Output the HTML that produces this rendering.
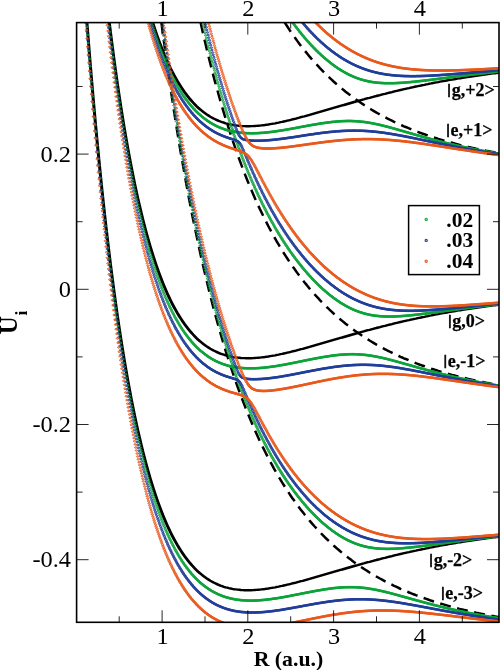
<!DOCTYPE html>
<html><head><meta charset="utf-8"><title>U_i vs R</title>
<style>html,body{margin:0;padding:0;background:#fff}svg{display:block}</style></head>
<body>
<svg width="500" height="670" viewBox="0 0 500 670">
<defs><clipPath id="cp"><rect x="76.6" y="22.6" width="422.4" height="599.7"/></clipPath>
<marker id="mg" markerWidth="4" markerHeight="4" refX="2" refY="2" markerUnits="userSpaceOnUse"><ellipse cx="2" cy="2" rx="1.2" ry="0.8" fill="#0fa53c" fill-opacity="0.4" stroke="#0fa53c" stroke-width="0.9"/></marker>
<marker id="mb" markerWidth="4" markerHeight="4" refX="2" refY="2" markerUnits="userSpaceOnUse"><ellipse cx="2" cy="2" rx="1.2" ry="0.8" fill="#23419b" fill-opacity="0.4" stroke="#23419b" stroke-width="0.9"/></marker>
<marker id="mo" markerWidth="4" markerHeight="4" refX="2" refY="2" markerUnits="userSpaceOnUse"><ellipse cx="2" cy="2" rx="1.2" ry="0.8" fill="#ea5b1e" fill-opacity="0.4" stroke="#ea5b1e" stroke-width="0.9"/></marker>
</defs>
<rect width="500" height="670" fill="#fff"/>
<g clip-path="url(#cp)">
<polyline transform="scale(1.25,1)" points="62.41,-102.5 63.78,-76.7 65.16,-51.7 66.53,-27.6 67.90,-4.2 69.27,18.4 70.65,40.2 72.02,61.3 73.39,81.7 74.76,101.4 76.14,120.5 77.51,138.9 78.88,156.7 80.25,173.9 81.62,190.5 83.00,206.5 84.37,222 85.74,236.9 87.11,251.3 88.49,265.3 89.86,278.7 91.23,291.7 92.60,304.2 93.98,316.3 95.35,327.9 96.72,339.1 98.09,350 99.46,360.4 100.84,370.5 102.21,380.2 103.58,389.5 104.95,398.6 106.33,407.2 107.70,415.6 109.07,423.6 110.44,431.4 111.82,438.8 113.19,446 114.56,452.9 115.93,459.5 117.31,465.9 118.68,472 120.05,477.9 121.42,483.6 122.79,489 124.17,494.3 125.54,499.3 126.91,504.1 128.28,508.7 129.66,513.1 131.03,517.3 132.40,521.4 133.77,525.3 135.15,529 136.52,532.6 137.89,536 139.26,539.2 140.63,542.3 142.01,545.3 143.38,548.1 144.75,550.8 146.12,553.4 147.50,555.9 148.87,558.2 150.24,560.4 151.61,562.5 152.99,564.5 154.36,566.4 155.73,568.3 157.10,570 158.47,571.6 159.85,573.1 161.22,574.5 162.59,575.9 163.96,577.2 165.34,578.4 166.71,579.5 168.08,580.6 169.45,581.6 170.83,582.5 172.20,583.3 173.57,584.1 174.94,584.9 176.31,585.6 177.69,586.2 179.06,586.8 180.43,587.3 181.80,587.7 183.18,588.2 184.55,588.5 185.92,588.9 187.29,589.2 188.67,589.4 190.04,589.6 191.41,589.8 192.78,590 194.16,590.1 195.53,590.2 196.90,590.2 198.27,590.2 199.64,590.2 201.02,590.2 202.39,590.1 203.76,590 205.13,589.9 206.51,589.7 207.88,589.6 209.25,589.4 210.62,589.2 212.00,589 213.37,588.7 214.74,588.5 216.11,588.2 217.48,587.9 218.86,587.6 220.23,587.3 221.60,586.9 222.97,586.6 224.35,586.2 225.72,585.9 227.09,585.5 228.46,585.1 229.84,584.7 231.21,584.3 232.58,583.9 233.95,583.4 235.32,583 236.70,582.6 238.07,582.1 239.44,581.7 240.81,581.2 242.19,580.8 243.56,580.3 244.93,579.8 246.30,579.3 247.68,578.9 249.05,578.4 250.42,577.9 251.79,577.4 253.16,576.9 254.54,576.4 255.91,575.9 257.28,575.4 258.65,574.9 260.03,574.4 261.40,573.9 262.77,573.4 264.14,572.9 265.52,572.4 266.89,571.9 268.26,571.4 269.63,570.9 271.00,570.4 272.38,569.9 273.75,569.5 275.12,569 276.49,568.5 277.87,568 279.24,567.5 280.61,567 281.98,566.5 283.36,566 284.73,565.5 286.10,565.1 287.47,564.6 288.85,564.1 290.22,563.6 291.59,563.2 292.96,562.7 294.33,562.2 295.71,561.8 297.08,561.3 298.45,560.9 299.82,560.4 301.20,560 302.57,559.5 303.94,559.1 305.31,558.6 306.69,558.2 308.06,557.8 309.43,557.3 310.80,556.9 312.17,556.5 313.55,556.1 314.92,555.6 316.29,555.2 317.66,554.8 319.04,554.4 320.41,554 321.78,553.6 323.15,553.2 324.53,552.8 325.90,552.4 327.27,552.1 328.64,551.7 330.01,551.3 331.39,550.9 332.76,550.6 334.13,550.2 335.50,549.8 336.88,549.5 338.25,549.1 339.62,548.8 340.99,548.4 342.37,548.1 343.74,547.7 345.11,547.4 346.48,547.1 347.85,546.7 349.23,546.4 350.60,546.1 351.97,545.7 353.34,545.4 354.72,545.1 356.09,544.8 357.46,544.5 358.83,544.2 360.21,543.9 361.58,543.6 362.95,543.3 364.32,543 365.70,542.7 367.07,542.4 368.44,542.2 369.81,541.9 371.18,541.6 372.56,541.3 373.93,541.1 375.30,540.8 376.67,540.5 378.05,540.3 379.42,540 380.79,539.8 382.16,539.5 383.54,539.3 384.91,539 386.28,538.8 387.65,538.6 389.02,538.3 390.40,538.1 391.77,537.9 393.14,537.6 394.51,537.4 395.89,537.2 397.26,537 398.63,536.8 400.00,536.6" fill="none" stroke="#000" stroke-width="2.4"/>
<polyline transform="scale(1.25,1)" points="70.65,-191.8 72.02,-170.7 73.39,-150.3 74.76,-130.6 76.14,-111.5 77.51,-93.1 78.88,-75.3 80.25,-58.1 81.62,-41.5 83.00,-25.5 84.37,-10 85.74,4.9 87.11,19.3 88.49,33.3 89.86,46.7 91.23,59.7 92.60,72.2 93.98,84.3 95.35,95.9 96.72,107.1 98.09,118 99.46,128.4 100.84,138.5 102.21,148.2 103.58,157.5 104.95,166.5 106.33,175.2 107.70,183.6 109.07,191.6 110.44,199.4 111.82,206.8 113.19,214 114.56,220.9 115.93,227.5 117.31,233.9 118.68,240 120.05,245.9 121.42,251.6 122.79,257 124.17,262.2 125.54,267.3 126.91,272.1 128.28,276.7 129.66,281.1 131.03,285.3 132.40,289.4 133.77,293.3 135.15,297 136.52,300.6 137.89,304 139.26,307.2 140.63,310.3 142.01,313.3 143.38,316.1 144.75,318.8 146.12,321.4 147.50,323.9 148.87,326.2 150.24,328.4 151.61,330.5 152.99,332.5 154.36,334.4 155.73,336.2 157.10,338 158.47,339.6 159.85,341.1 161.22,342.5 162.59,343.9 163.96,345.2 165.34,346.4 166.71,347.5 168.08,348.6 169.45,349.6 170.83,350.5 172.20,351.3 173.57,352.1 174.94,352.9 176.31,353.6 177.69,354.2 179.06,354.7 180.43,355.3 181.80,355.7 183.18,356.2 184.55,356.5 185.92,356.9 187.29,357.2 188.67,357.4 190.04,357.6 191.41,357.8 192.78,358 194.16,358.1 195.53,358.1 196.90,358.2 198.27,358.2 199.64,358.2 201.02,358.2 202.39,358.1 203.76,358 205.13,357.9 206.51,357.7 207.88,357.6 209.25,357.4 210.62,357.2 212.00,357 213.37,356.7 214.74,356.5 216.11,356.2 217.48,355.9 218.86,355.6 220.23,355.3 221.60,354.9 222.97,354.6 224.35,354.2 225.72,353.9 227.09,353.5 228.46,353.1 229.84,352.7 231.21,352.3 232.58,351.9 233.95,351.4 235.32,351 236.70,350.6 238.07,350.1 239.44,349.7 240.81,349.2 242.19,348.8 243.56,348.3 244.93,347.8 246.30,347.3 247.68,346.9 249.05,346.4 250.42,345.9 251.79,345.4 253.16,344.9 254.54,344.4 255.91,343.9 257.28,343.4 258.65,342.9 260.03,342.4 261.40,341.9 262.77,341.4 264.14,340.9 265.52,340.4 266.89,339.9 268.26,339.4 269.63,338.9 271.00,338.4 272.38,337.9 273.75,337.5 275.12,337 276.49,336.5 277.87,336 279.24,335.5 280.61,335 281.98,334.5 283.36,334 284.73,333.5 286.10,333.1 287.47,332.6 288.85,332.1 290.22,331.6 291.59,331.2 292.96,330.7 294.33,330.2 295.71,329.8 297.08,329.3 298.45,328.9 299.82,328.4 301.20,328 302.57,327.5 303.94,327.1 305.31,326.6 306.69,326.2 308.06,325.8 309.43,325.3 310.80,324.9 312.17,324.5 313.55,324.1 314.92,323.6 316.29,323.2 317.66,322.8 319.04,322.4 320.41,322 321.78,321.6 323.15,321.2 324.53,320.8 325.90,320.4 327.27,320.1 328.64,319.7 330.01,319.3 331.39,318.9 332.76,318.6 334.13,318.2 335.50,317.8 336.88,317.5 338.25,317.1 339.62,316.8 340.99,316.4 342.37,316.1 343.74,315.7 345.11,315.4 346.48,315 347.85,314.7 349.23,314.4 350.60,314.1 351.97,313.7 353.34,313.4 354.72,313.1 356.09,312.8 357.46,312.5 358.83,312.2 360.21,311.9 361.58,311.6 362.95,311.3 364.32,311 365.70,310.7 367.07,310.4 368.44,310.2 369.81,309.9 371.18,309.6 372.56,309.3 373.93,309.1 375.30,308.8 376.67,308.5 378.05,308.3 379.42,308 380.79,307.8 382.16,307.5 383.54,307.3 384.91,307 386.28,306.8 387.65,306.6 389.02,306.3 390.40,306.1 391.77,305.9 393.14,305.6 394.51,305.4 395.89,305.2 397.26,305 398.63,304.8 400.00,304.5" fill="none" stroke="#000" stroke-width="2.4"/>
<polyline transform="scale(1.25,1)" points="88.49,-198.7 89.86,-185.3 91.23,-172.3 92.60,-159.8 93.98,-147.7 95.35,-136.1 96.72,-124.9 98.09,-114 99.46,-103.6 100.84,-93.5 102.21,-83.8 103.58,-74.5 104.95,-65.5 106.33,-56.8 107.70,-48.4 109.07,-40.4 110.44,-32.6 111.82,-25.2 113.19,-18 114.56,-11.1 115.93,-4.5 117.31,1.9 118.68,8 120.05,13.9 121.42,19.6 122.79,25 124.17,30.2 125.54,35.3 126.91,40.1 128.28,44.7 129.66,49.1 131.03,53.3 132.40,57.4 133.77,61.3 135.15,65 136.52,68.6 137.89,72 139.26,75.2 140.63,78.3 142.01,81.3 143.38,84.1 144.75,86.8 146.12,89.4 147.50,91.9 148.87,94.2 150.24,96.4 151.61,98.5 152.99,100.5 154.36,102.4 155.73,104.2 157.10,106 158.47,107.6 159.85,109.1 161.22,110.5 162.59,111.9 163.96,113.2 165.34,114.4 166.71,115.5 168.08,116.6 169.45,117.6 170.83,118.5 172.20,119.3 173.57,120.1 174.94,120.9 176.31,121.5 177.69,122.2 179.06,122.7 180.43,123.3 181.80,123.7 183.18,124.2 184.55,124.5 185.92,124.9 187.29,125.2 188.67,125.4 190.04,125.6 191.41,125.8 192.78,126 194.16,126.1 195.53,126.1 196.90,126.2 198.27,126.2 199.64,126.2 201.02,126.1 202.39,126.1 203.76,126 205.13,125.9 206.51,125.7 207.88,125.6 209.25,125.4 210.62,125.2 212.00,125 213.37,124.7 214.74,124.5 216.11,124.2 217.48,123.9 218.86,123.6 220.23,123.3 221.60,122.9 222.97,122.6 224.35,122.2 225.72,121.9 227.09,121.5 228.46,121.1 229.84,120.7 231.21,120.3 232.58,119.9 233.95,119.4 235.32,119 236.70,118.6 238.07,118.1 239.44,117.7 240.81,117.2 242.19,116.7 243.56,116.3 244.93,115.8 246.30,115.3 247.68,114.9 249.05,114.4 250.42,113.9 251.79,113.4 253.16,112.9 254.54,112.4 255.91,111.9 257.28,111.4 258.65,110.9 260.03,110.4 261.40,109.9 262.77,109.4 264.14,108.9 265.52,108.4 266.89,107.9 268.26,107.4 269.63,106.9 271.00,106.4 272.38,105.9 273.75,105.4 275.12,105 276.49,104.5 277.87,104 279.24,103.5 280.61,103 281.98,102.5 283.36,102 284.73,101.5 286.10,101.1 287.47,100.6 288.85,100.1 290.22,99.6 291.59,99.2 292.96,98.7 294.33,98.2 295.71,97.8 297.08,97.3 298.45,96.9 299.82,96.4 301.20,96 302.57,95.5 303.94,95.1 305.31,94.6 306.69,94.2 308.06,93.8 309.43,93.3 310.80,92.9 312.17,92.5 313.55,92.1 314.92,91.6 316.29,91.2 317.66,90.8 319.04,90.4 320.41,90 321.78,89.6 323.15,89.2 324.53,88.8 325.90,88.4 327.27,88.1 328.64,87.7 330.01,87.3 331.39,86.9 332.76,86.5 334.13,86.2 335.50,85.8 336.88,85.5 338.25,85.1 339.62,84.8 340.99,84.4 342.37,84.1 343.74,83.7 345.11,83.4 346.48,83 347.85,82.7 349.23,82.4 350.60,82.1 351.97,81.7 353.34,81.4 354.72,81.1 356.09,80.8 357.46,80.5 358.83,80.2 360.21,79.9 361.58,79.6 362.95,79.3 364.32,79 365.70,78.7 367.07,78.4 368.44,78.2 369.81,77.9 371.18,77.6 372.56,77.3 373.93,77.1 375.30,76.8 376.67,76.5 378.05,76.3 379.42,76 380.79,75.8 382.16,75.5 383.54,75.3 384.91,75 386.28,74.8 387.65,74.6 389.02,74.3 390.40,74.1 391.77,73.9 393.14,73.6 394.51,73.4 395.89,73.2 397.26,73 398.63,72.8 400.00,72.5" fill="none" stroke="#000" stroke-width="2.4"/>
<polyline points="161.4,22.6 163.8,40.6 165.5,53.2 167.2,65.4 168.9,77.3 170.6,89 172.4,100.4 174.1,111.6 175.8,122.4 177.5,133.1 179.2,143.5 180.9,153.6 182.7,163.5 184.4,173.2 186.1,182.7 187.8,191.9 189.5,201 191.2,209.8 192.9,218.4 194.7,226.9 196.4,235.1 198.1,243.2 199.8,251.1 201.5,258.8 203.2,266.3 205,273.7 206.7,280.9 208.4,287.9 210.1,294.8 211.8,301.5 213.5,308.1 215.2,314.5 217,320.8 218.7,327 220.4,333 222.1,338.9 223.8,344.7 225.5,350.3 227.3,355.8 229,361.2 230.7,366.5 232.4,371.7 234.1,376.8 235.8,381.7 237.5,386.5 239.3,391.3 241,395.9 242.7,400.5 244.4,404.9 246.1,409.3 247.8,413.5 249.6,417.7 251.3,421.8 253,425.8 254.7,429.7 256.4,433.5 258.1,437.3 259.8,441 261.6,444.6 263.3,448.1 265,451.5 266.7,454.9 268.4,458.2 270.1,461.5 271.9,464.6 273.6,467.8 275.3,470.8 277,473.8 278.7,476.7 280.4,479.6 282.1,482.4 283.9,485.2 285.6,487.9 287.3,490.5 289,493.1 290.7,495.7 292.4,498.2 294.2,500.6 295.9,503 297.6,505.4 299.3,507.7 301,509.9 302.7,512.1 304.4,514.3 306.2,516.4 307.9,518.5 309.6,520.6 311.3,522.6 313,524.6 314.7,526.5 316.5,528.4 318.2,530.2 319.9,532.1 321.6,533.9 323.3,535.6 325,537.3 326.7,539 328.5,540.7 330.2,542.3 331.9,543.9 333.6,545.5 335.3,547 337,548.5 338.8,550 340.5,551.5 342.2,552.9 343.9,554.3 345.6,555.7 347.3,557 349,558.3 350.8,559.6 352.5,560.9 354.2,562.2 355.9,563.4 357.6,564.6 359.3,565.8 361.1,567 362.8,568.1 364.5,569.2 366.2,570.3 367.9,571.4 369.6,572.5 371.3,573.5 373.1,574.6 374.8,575.6 376.5,576.6 378.2,577.5 379.9,578.5 381.6,579.4 383.4,580.4 385.1,581.3 386.8,582.2 388.5,583 390.2,583.9 391.9,584.7 393.6,585.6 395.4,586.4 397.1,587.2 398.8,588 400.5,588.8 402.2,589.5 403.9,590.3 405.7,591 407.4,591.7 409.1,592.5 410.8,593.2 412.5,593.8 414.2,594.5 415.9,595.2 417.7,595.8 419.4,596.5 421.1,597.1 422.8,597.7 424.5,598.3 426.2,598.9 428,599.5 429.7,600.1 431.4,600.7 433.1,601.3 434.8,601.8 436.5,602.3 438.2,602.9 440,603.4 441.7,603.9 443.4,604.4 445.1,604.9 446.8,605.4 448.5,605.9 450.3,606.4 452,606.9 453.7,607.3 455.4,607.8 457.1,608.2 458.8,608.7 460.5,609.1 462.3,609.5 464,609.9 465.7,610.3 467.4,610.7 469.1,611.1 470.8,611.5 472.6,611.9 474.3,612.3 476,612.7 477.7,613 479.4,613.4 481.1,613.8 482.8,614.1 484.6,614.4 486.3,614.8 488,615.1 489.7,615.4 491.4,615.8 493.1,616.1 494.9,616.4 496.6,616.7 498.3,617 500,617.3" fill="none" stroke="#000" stroke-width="2.5" stroke-dasharray="11 6.5" stroke-dashoffset="0"/>
<polyline points="200.6,22.6 203.2,34.3 205,41.7 206.7,48.9 208.4,55.9 210.1,62.8 211.8,69.5 213.5,76.1 215.2,82.5 217,88.8 218.7,95 220.4,101 222.1,106.9 223.8,112.7 225.5,118.3 227.3,123.8 229,129.2 230.7,134.5 232.4,139.7 234.1,144.7 235.8,149.7 237.5,154.5 239.3,159.3 241,163.9 242.7,168.5 244.4,172.9 246.1,177.3 247.8,181.5 249.6,185.7 251.3,189.8 253,193.8 254.7,197.7 256.4,201.5 258.1,205.3 259.8,208.9 261.6,212.5 263.3,216.1 265,219.5 266.7,222.9 268.4,226.2 270.1,229.5 271.9,232.6 273.6,235.8 275.3,238.8 277,241.8 278.7,244.7 280.4,247.6 282.1,250.4 283.9,253.2 285.6,255.9 287.3,258.5 289,261.1 290.7,263.7 292.4,266.2 294.2,268.6 295.9,271 297.6,273.4 299.3,275.7 301,277.9 302.7,280.1 304.4,282.3 306.2,284.4 307.9,286.5 309.6,288.6 311.3,290.6 313,292.6 314.7,294.5 316.5,296.4 318.2,298.2 319.9,300.1 321.6,301.9 323.3,303.6 325,305.3 326.7,307 328.5,308.7 330.2,310.3 331.9,311.9 333.6,313.5 335.3,315 337,316.5 338.8,318 340.5,319.5 342.2,320.9 343.9,322.3 345.6,323.7 347.3,325 349,326.3 350.8,327.6 352.5,328.9 354.2,330.2 355.9,331.4 357.6,332.6 359.3,333.8 361.1,335 362.8,336.1 364.5,337.2 366.2,338.3 367.9,339.4 369.6,340.5 371.3,341.5 373.1,342.6 374.8,343.6 376.5,344.6 378.2,345.5 379.9,346.5 381.6,347.4 383.4,348.4 385.1,349.3 386.8,350.2 388.5,351 390.2,351.9 391.9,352.7 393.6,353.6 395.4,354.4 397.1,355.2 398.8,356 400.5,356.8 402.2,357.5 403.9,358.3 405.7,359 407.4,359.7 409.1,360.5 410.8,361.2 412.5,361.8 414.2,362.5 415.9,363.2 417.7,363.8 419.4,364.5 421.1,365.1 422.8,365.7 424.5,366.3 426.2,366.9 428,367.5 429.7,368.1 431.4,368.7 433.1,369.2 434.8,369.8 436.5,370.3 438.2,370.9 440,371.4 441.7,371.9 443.4,372.4 445.1,372.9 446.8,373.4 448.5,373.9 450.3,374.4 452,374.9 453.7,375.3 455.4,375.8 457.1,376.2 458.8,376.6 460.5,377.1 462.3,377.5 464,377.9 465.7,378.3 467.4,378.7 469.1,379.1 470.8,379.5 472.6,379.9 474.3,380.3 476,380.7 477.7,381 479.4,381.4 481.1,381.7 482.8,382.1 484.6,382.4 486.3,382.8 488,383.1 489.7,383.4 491.4,383.8 493.1,384.1 494.9,384.4 496.6,384.7 498.3,385 500,385.3" fill="none" stroke="#000" stroke-width="2.5" stroke-dasharray="11 6.5" stroke-dashoffset="0"/>
<polyline points="284.8,22.6 287.3,26.5 289,29.1 290.7,31.7 292.4,34.2 294.2,36.6 295.9,39 297.6,41.4 299.3,43.7 301,45.9 302.7,48.1 304.4,50.3 306.2,52.4 307.9,54.5 309.6,56.6 311.3,58.6 313,60.5 314.7,62.5 316.5,64.4 318.2,66.2 319.9,68.1 321.6,69.8 323.3,71.6 325,73.3 326.7,75 328.5,76.7 330.2,78.3 331.9,79.9 333.6,81.5 335.3,83 337,84.5 338.8,86 340.5,87.5 342.2,88.9 343.9,90.3 345.6,91.7 347.3,93 349,94.3 350.8,95.6 352.5,96.9 354.2,98.2 355.9,99.4 357.6,100.6 359.3,101.8 361.1,103 362.8,104.1 364.5,105.2 366.2,106.3 367.9,107.4 369.6,108.5 371.3,109.5 373.1,110.6 374.8,111.6 376.5,112.6 378.2,113.5 379.9,114.5 381.6,115.4 383.4,116.4 385.1,117.3 386.8,118.2 388.5,119 390.2,119.9 391.9,120.7 393.6,121.6 395.4,122.4 397.1,123.2 398.8,124 400.5,124.8 402.2,125.5 403.9,126.3 405.7,127 407.4,127.7 409.1,128.4 410.8,129.1 412.5,129.8 414.2,130.5 415.9,131.2 417.7,131.8 419.4,132.5 421.1,133.1 422.8,133.7 424.5,134.3 426.2,134.9 428,135.5 429.7,136.1 431.4,136.7 433.1,137.2 434.8,137.8 436.5,138.3 438.2,138.9 440,139.4 441.7,139.9 443.4,140.4 445.1,140.9 446.8,141.4 448.5,141.9 450.3,142.4 452,142.8 453.7,143.3 455.4,143.8 457.1,144.2 458.8,144.6 460.5,145.1 462.3,145.5 464,145.9 465.7,146.3 467.4,146.7 469.1,147.1 470.8,147.5 472.6,147.9 474.3,148.3 476,148.7 477.7,149 479.4,149.4 481.1,149.7 482.8,150.1 484.6,150.4 486.3,150.8 488,151.1 489.7,151.4 491.4,151.8 493.1,152.1 494.9,152.4 496.6,152.7 498.3,153 500,153.3" fill="none" stroke="#000" stroke-width="2.5" stroke-dasharray="11 6.5" stroke-dashoffset="0"/>
<polyline points="86.3,18.4 86.9,26.7 87.6,34.8 88.2,42.9 88.8,50.8 89.5,58.7 90.1,66.4 90.7,74.1 91.4,81.7 92,89.1 92.6,96.5 93.3,103.8 93.9,111 94.6,118.1 95.2,125.1 95.8,132 96.5,138.8 97.1,145.6 97.7,152.2 98.4,158.8 99,165.3 99.6,171.7 100.3,178.1 100.9,184.3 101.5,190.5 102.2,196.6 102.8,202.6 103.4,208.5 104.1,214.4 104.7,220.2 105.3,225.9 106,231.5 106.6,237.1 107.2,242.6 107.9,248 108.5,253.4 109.1,258.7 109.8,263.9 110.4,269.1 111.1,274.1 111.7,279.2 112.3,284.1 113,289 113.6,293.8 114.2,298.6 114.9,303.3 115.5,307.9 116.1,312.5 116.8,317 117.4,321.5 118,325.9 118.7,330.2 119.3,334.5 119.9,338.7 120.6,342.9 121.2,347 121.8,351.1 122.5,355.1 123.1,359.1 123.7,363 124.4,366.8 125,370.6 125.7,374.3 126.3,378 126.9,381.7 127.6,385.3 128.2,388.8 128.8,392.3 129.5,395.8 130.1,399.2 130.7,402.6 131.4,405.9 132,409.1 132.6,412.4 133.3,415.5 133.9,418.7 134.5,421.8 135.2,424.8 135.8,427.8 136.4,430.8 137.1,433.7 137.7,436.6 138.3,439.4 139,442.2 139.6,445 140.3,447.7 140.9,450.4 141.5,453.1 142.2,455.7 142.8,458.3 143.4,460.8 144.1,463.3 144.7,465.8 145.3,468.2 146,470.6 146.6,472.9 147.2,475.3 147.9,477.6 148.5,479.8 149.1,482.1 149.8,484.3 150.4,486.4 151,488.5 151.7,490.7 152.3,492.7 152.9,494.8 153.6,496.8 154.2,498.7 154.8,500.7 155.5,502.6 156.1,504.5 156.8,506.4 157.4,508.2 158,510 158.7,511.8 159.3,513.5 159.9,515.3 160.6,517 161.2,518.7 161.8,520.3 162.5,521.9 163.1,523.5 163.7,525.1 164.4,526.6 165,528.2 165.6,529.7 166.3,531.1 166.9,532.6 167.5,534 168.2,535.4 168.8,536.8 169.4,538.2 170.1,539.5 170.7,540.8 171.4,542.1 172,543.4 172.6,544.7 173.3,545.9 173.9,547.1 174.5,548.3 175.2,549.5 175.8,550.7 176.4,551.8 177.1,552.9 177.7,554 178.3,555.1 179,556.2 179.6,557.2 180.2,558.2 180.9,559.2 181.5,560.2 182.1,561.2 182.8,562.2 183.4,563.1 184,564 184.7,564.9 185.3,565.8 185.9,566.7 186.6,567.6 187.2,568.4 187.9,569.2 188.5,570 189.1,570.8 189.8,571.6 190.4,572.4 191,573.1 191.7,573.9 192.3,574.6 192.9,575.3 193.6,576 194.2,576.7 194.8,577.4 195.5,578 196.1,578.7 196.7,579.3 197.4,579.9 198,580.5 198.6,581.1 199.3,581.7 199.9,582.3 200.5,582.9 201.2,583.4 201.8,583.9 202.5,584.5 203.1,585 203.7,585.5 204.4,586 205,586.5 205.6,586.9 206.3,587.4 206.9,587.8 207.5,588.3 208.2,588.7 208.8,589.1 209.4,589.5 210.1,589.9 210.7,590.3 211.3,590.7 212,591.1 212.6,591.4 213.2,591.8 213.9,592.1 214.5,592.5 215.1,592.8 215.8,593.1 216.4,593.4 217,593.7 217.7,594 218.3,594.3 219,594.6 219.6,594.9 220.2,595.1 220.9,595.4 221.5,595.6 222.1,595.9 222.8,596.1 223.4,596.3 224,596.6 224.7,596.8 225.3,597 225.9,597.2 226.6,597.4 227.2,597.5 227.8,597.7 228.5,597.9 229.1,598.1 229.7,598.2 230.4,598.4 231,598.5 231.6,598.7 232.3,598.8 232.9,598.9 233.6,599.1 234.2,599.2 234.8,599.3 235.5,599.4 236.1,599.5 236.7,599.6 237.4,599.7 238,599.8 238.6,599.9 239.3,599.9 239.9,600 240.5,600.1 241.2,600.2 241.8,600.2 242.4,600.3 243.1,600.3 243.7,600.4 244.3,600.4 245,600.4 245.6,600.5 246.2,600.5 246.9,600.5 247.5,600.5 248.1,600.6 248.8,600.6 249.4,600.6 250.1,600.6 250.7,600.6 251.3,600.6 252,600.6 252.6,600.6 253.2,600.6 253.9,600.6 254.5,600.5 255.1,600.5 255.8,600.5 256.4,600.5 257,600.4 257.7,600.4 258.3,600.4 258.9,600.3 259.6,600.3 260.2,600.2 260.8,600.2 261.5,600.1 262.1,600.1 262.7,600 263.4,600 264,599.9 264.7,599.8 265.3,599.8 265.9,599.7 266.6,599.6 267.2,599.6 267.8,599.5 268.5,599.4 269.1,599.3 269.7,599.3 270.4,599.2 271,599.1 271.6,599 272.3,598.9 272.9,598.8 273.5,598.7 274.2,598.6 274.8,598.6 275.4,598.5 276.1,598.4 276.7,598.3 277.3,598.2 278,598.1 278.6,598 279.2,597.9 279.9,597.7 280.5,597.6 281.2,597.5 281.8,597.4 282.4,597.3 283.1,597.2 283.7,597.1 284.3,597 285,596.9 285.6,596.7 286.2,596.6 286.9,596.5 287.5,596.4 288.1,596.3 288.8,596.2 289.4,596 290,595.9 290.7,595.8 291.3,595.7 291.9,595.5 292.6,595.4 293.2,595.3 293.8,595.2 294.5,595 295.1,594.9 295.8,594.8 296.4,594.7 297,594.5 297.7,594.4 298.3,594.3 298.9,594.2 299.6,594 300.2,593.9 300.8,593.8 301.5,593.7 302.1,593.5 302.7,593.4 303.4,593.3 304,593.2 304.6,593 305.3,592.9 305.9,592.8 306.5,592.7 307.2,592.5 307.8,592.4 308.4,592.3 309.1,592.2 309.7,592 310.3,591.9 311,591.8 311.6,591.7 312.3,591.6 312.9,591.4 313.5,591.3 314.2,591.2 314.8,591.1 315.4,591 316.1,590.8 316.7,590.7 317.3,590.6 318,590.5 318.6,590.4 319.2,590.3 319.9,590.2 320.5,590.1 321.1,590 321.8,589.9 322.4,589.7 323,589.6 323.7,589.5 324.3,589.4 324.9,589.3 325.6,589.2 326.2,589.2 326.9,589.1 327.5,589 328.1,588.9 328.8,588.8 329.4,588.7 330,588.6 330.7,588.5 331.3,588.4 331.9,588.4 332.6,588.3 333.2,588.2 333.8,588.1 334.5,588.1 335.1,588 335.7,587.9 336.4,587.9 337,587.8 337.6,587.8 338.3,587.7 338.9,587.6 339.5,587.6 340.2,587.5 340.8,587.5 341.4,587.5 342.1,587.4 342.7,587.4 343.4,587.3 344,587.3 344.6,587.3 345.3,587.3 345.9,587.2 346.5,587.2 347.2,587.2 347.8,587.2 348.4,587.2 349.1,587.2 349.7,587.2 350.3,587.1 351,587.2 351.6,587.2 352.2,587.2 352.9,587.2 353.5,587.2 354.1,587.2 354.8,587.2 355.4,587.3 356,587.3 356.7,587.3 357.3,587.4 358,587.4 358.6,587.4 359.2,587.5 359.9,587.5 360.5,587.6 361.1,587.6 361.8,587.7 362.4,587.8 363,587.8 363.7,587.9 364.3,588 364.9,588 365.6,588.1 366.2,588.2 366.8,588.3 367.5,588.4 368.1,588.5 368.7,588.6 369.4,588.7 370,588.8 370.6,588.9 371.3,589 371.9,589.1 372.5,589.2 373.2,589.3 373.8,589.4 374.5,589.5 375.1,589.7 375.7,589.8 376.4,589.9 377,590 377.6,590.2 378.3,590.3 378.9,590.4 379.5,590.6 380.2,590.7 380.8,590.9 381.4,591 382.1,591.1 382.7,591.3 383.3,591.4 384,591.6 384.6,591.7 385.2,591.9 385.9,592 386.5,592.2 387.1,592.4 387.8,592.5 388.4,592.7 389.1,592.8 389.7,593 390.3,593.2 391,593.3 391.6,593.5 392.2,593.7 392.9,593.8 393.5,594 394.1,594.2 394.8,594.3 395.4,594.5 396,594.7 396.7,594.9 397.3,595 397.9,595.2 398.6,595.4 399.2,595.6 399.8,595.7 400.5,595.9 401.1,596.1 401.7,596.3 402.4,596.4 403,596.6 403.6,596.8 404.3,597 404.9,597.1 405.6,597.3 406.2,597.5 406.8,597.7 407.5,597.8 408.1,598 408.7,598.2 409.4,598.4 410,598.6 410.6,598.7 411.3,598.9 411.9,599.1 412.5,599.3 413.2,599.4 413.8,599.6 414.4,599.8 415.1,600 415.7,600.1 416.3,600.3 417,600.5 417.6,600.7 418.2,600.8 418.9,601 419.5,601.2 420.2,601.3 420.8,601.5 421.4,601.7 422.1,601.9 422.7,602 423.3,602.2 424,602.4 424.6,602.5 425.2,602.7 425.9,602.9 426.5,603.1 427.1,603.2 427.8,603.4 428.4,603.6 429,603.7 429.7,603.9 430.3,604 430.9,604.2 431.6,604.4 432.2,604.5 432.8,604.7 433.5,604.9 434.1,605 434.7,605.2 435.4,605.3 436,605.5 436.7,605.7 437.3,605.8 437.9,606 438.6,606.1 439.2,606.3 439.8,606.5 440.5,606.6 441.1,606.8 441.7,606.9 442.4,607.1 443,607.2 443.6,607.4 444.3,607.5 444.9,607.7 445.5,607.8 446.2,608 446.8,608.1 447.4,608.3 448.1,608.4 448.7,608.6 449.3,608.7 450,608.9 450.6,609 451.3,609.2 451.9,609.3 452.5,609.4 453.2,609.6 453.8,609.7 454.4,609.9 455.1,610 455.7,610.1 456.3,610.3 457,610.4 457.6,610.6 458.2,610.7 458.9,610.8 459.5,611 460.1,611.1 460.8,611.2 461.4,611.4 462,611.5 462.7,611.6 463.3,611.8 463.9,611.9 464.6,612 465.2,612.2 465.9,612.3 466.5,612.4 467.1,612.6 467.8,612.7 468.4,612.8 469,612.9 469.7,613.1 470.3,613.2 470.9,613.3 471.6,613.4 472.2,613.6 472.8,613.7 473.5,613.8 474.1,613.9 474.7,614.1 475.4,614.2 476,614.3 476.6,614.4 477.3,614.5 477.9,614.7 478.5,614.8 479.2,614.9 479.8,615 480.4,615.1 481.1,615.2 481.7,615.3 482.4,615.5 483,615.6 483.6,615.7 484.3,615.8 484.9,615.9 485.5,616 486.2,616.1 486.8,616.2 487.4,616.4 488.1,616.5 488.7,616.6 489.3,616.7 490,616.8 490.6,616.9 491.2,617 491.9,617.1 492.5,617.2 493.1,617.3 493.8,617.4 494.4,617.5 495,617.6 495.7,617.7 496.3,617.8 497,617.9 497.6,618 498.2,618.1 498.9,618.2 499.5,618.3" fill="none" stroke="none" marker-start="url(#mg)" marker-mid="url(#mg)" marker-end="url(#mg)"/>
<polyline points="108.5,21.4 109.1,26.6 109.8,31.9 110.4,37 111.1,42.1 111.7,47.1 112.3,52.1 113,57 113.6,61.8 114.2,66.5 114.9,71.2 115.5,75.9 116.1,80.5 116.8,85 117.4,89.4 118,93.8 118.7,98.2 119.3,102.5 119.9,106.7 120.6,110.9 121.2,115 121.8,119 122.5,123 123.1,127 123.7,130.9 124.4,134.7 125,138.5 125.7,142.3 126.3,146 126.9,149.6 127.6,153.2 128.2,156.8 128.8,160.3 129.5,163.7 130.1,167.1 130.7,170.5 131.4,173.8 132,177.1 132.6,180.3 133.3,183.5 133.9,186.6 134.5,189.7 135.2,192.8 135.8,195.8 136.4,198.7 137.1,201.6 137.7,204.5 138.3,207.4 139,210.2 139.6,212.9 140.3,215.7 140.9,218.3 141.5,221 142.2,223.6 142.8,226.2 143.4,228.7 144.1,231.2 144.7,233.7 145.3,236.1 146,238.5 146.6,240.9 147.2,243.2 147.9,245.5 148.5,247.8 149.1,250 149.8,252.2 150.4,254.3 151,256.5 151.7,258.6 152.3,260.6 152.9,262.7 153.6,264.7 154.2,266.7 154.8,268.6 155.5,270.5 156.1,272.4 156.8,274.3 157.4,276.1 158,277.9 158.7,279.7 159.3,281.5 159.9,283.2 160.6,284.9 161.2,286.6 161.8,288.2 162.5,289.8 163.1,291.4 163.7,293 164.4,294.5 165,296.1 165.6,297.6 166.3,299 166.9,300.5 167.5,301.9 168.2,303.3 168.8,304.7 169.4,306.1 170.1,307.4 170.7,308.7 171.4,310 172,311.3 172.6,312.6 173.3,313.8 173.9,315 174.5,316.2 175.2,317.4 175.8,318.6 176.4,319.7 177.1,320.8 177.7,321.9 178.3,323 179,324 179.6,325.1 180.2,326.1 180.9,327.1 181.5,328.1 182.1,329.1 182.8,330 183.4,331 184,331.9 184.7,332.8 185.3,333.7 185.9,334.6 186.6,335.4 187.2,336.3 187.9,337.1 188.5,337.9 189.1,338.7 189.8,339.5 190.4,340.3 191,341 191.7,341.8 192.3,342.5 192.9,343.2 193.6,343.9 194.2,344.6 194.8,345.2 195.5,345.9 196.1,346.6 196.7,347.2 197.4,347.8 198,348.4 198.6,349 199.3,349.6 199.9,350.2 200.5,350.7 201.2,351.3 201.8,351.8 202.5,352.3 203.1,352.8 203.7,353.3 204.4,353.8 205,354.3 205.6,354.8 206.3,355.2 206.9,355.7 207.5,356.1 208.2,356.6 208.8,357 209.4,357.4 210.1,357.8 210.7,358.2 211.3,358.6 212,358.9 212.6,359.3 213.2,359.7 213.9,360 214.5,360.3 215.1,360.7 215.8,361 216.4,361.3 217,361.6 217.7,361.9 218.3,362.2 219,362.5 219.6,362.7 220.2,363 220.9,363.2 221.5,363.5 222.1,363.7 222.8,364 223.4,364.2 224,364.4 224.7,364.6 225.3,364.8 225.9,365.1 226.6,365.2 227.2,365.4 227.8,365.6 228.5,365.8 229.1,366 229.7,366.2 230.4,366.4 231,366.6 231.6,366.8 232.3,367.1 232.9,367.8 233.6,369.1 234.2,370.7 234.8,372.4 235.5,374.2 236.1,375.9 236.7,377.7 237.4,379.4 238,381.2 238.6,382.9 239.3,384.6 239.9,386.3 240.5,388 241.2,389.7 241.8,391.3 242.4,393 243.1,394.6 243.7,396.3 244.3,397.9 245,399.5 245.6,401.1 246.2,402.6 246.9,404.2 247.5,405.7 248.1,407.3 248.8,408.8 249.4,410.3 250.1,411.8 250.7,413.3 251.3,414.8 252,416.2 252.6,417.7 253.2,419.1 253.9,420.6 254.5,422 255.1,423.4 255.8,424.8 256.4,426.2 257,427.5 257.7,428.9 258.3,430.3 258.9,431.6 259.6,432.9 260.2,434.3 260.8,435.6 261.5,436.9 262.1,438.1 262.7,439.4 263.4,440.7 264,442 264.7,443.2 265.3,444.4 265.9,445.7 266.6,446.9 267.2,448.1 267.8,449.3 268.5,450.5 269.1,451.7 269.7,452.8 270.4,454 271,455.1 271.6,456.3 272.3,457.4 272.9,458.5 273.5,459.7 274.2,460.8 274.8,461.9 275.4,463 276.1,464 276.7,465.1 277.3,466.2 278,467.2 278.6,468.3 279.2,469.3 279.9,470.3 280.5,471.4 281.2,472.4 281.8,473.4 282.4,474.4 283.1,475.4 283.7,476.3 284.3,477.3 285,478.3 285.6,479.2 286.2,480.2 286.9,481.1 287.5,482 288.1,483 288.8,483.9 289.4,484.8 290,485.7 290.7,486.6 291.3,487.5 291.9,488.4 292.6,489.2 293.2,490.1 293.8,491 294.5,491.8 295.1,492.7 295.8,493.5 296.4,494.3 297,495.1 297.7,496 298.3,496.8 298.9,497.6 299.6,498.4 300.2,499.1 300.8,499.9 301.5,500.7 302.1,501.5 302.7,502.2 303.4,503 304,503.7 304.6,504.5 305.3,505.2 305.9,505.9 306.5,506.7 307.2,507.4 307.8,508.1 308.4,508.8 309.1,509.5 309.7,510.2 310.3,510.8 311,511.5 311.6,512.2 312.3,512.9 312.9,513.5 313.5,514.2 314.2,514.8 314.8,515.4 315.4,516.1 316.1,516.7 316.7,517.3 317.3,517.9 318,518.5 318.6,519.1 319.2,519.7 319.9,520.3 320.5,520.9 321.1,521.5 321.8,522.1 322.4,522.6 323,523.2 323.7,523.7 324.3,524.3 324.9,524.8 325.6,525.4 326.2,525.9 326.9,526.4 327.5,526.9 328.1,527.4 328.8,527.9 329.4,528.4 330,528.9 330.7,529.4 331.3,529.9 331.9,530.4 332.6,530.8 333.2,531.3 333.8,531.7 334.5,532.2 335.1,532.6 335.7,533.1 336.4,533.5 337,533.9 337.6,534.3 338.3,534.8 338.9,535.2 339.5,535.6 340.2,536 340.8,536.3 341.4,536.7 342.1,537.1 342.7,537.5 343.4,537.8 344,538.2 344.6,538.5 345.3,538.9 345.9,539.2 346.5,539.5 347.2,539.9 347.8,540.2 348.4,540.5 349.1,540.8 349.7,541.1 350.3,541.4 351,541.7 351.6,542 352.2,542.2 352.9,542.5 353.5,542.8 354.1,543 354.8,543.3 355.4,543.5 356,543.8 356.7,544 357.3,544.2 358,544.4 358.6,544.7 359.2,544.9 359.9,545.1 360.5,545.3 361.1,545.4 361.8,545.6 362.4,545.8 363,546 363.7,546.1 364.3,546.3 364.9,546.5 365.6,546.6 366.2,546.8 366.8,546.9 367.5,547 368.1,547.2 368.7,547.3 369.4,547.4 370,547.5 370.6,547.6 371.3,547.7 371.9,547.8 372.5,547.9 373.2,548 373.8,548.1 374.5,548.2 375.1,548.2 375.7,548.3 376.4,548.4 377,548.4 377.6,548.5 378.3,548.5 378.9,548.6 379.5,548.6 380.2,548.7 380.8,548.7 381.4,548.7 382.1,548.8 382.7,548.8 383.3,548.8 384,548.8 384.6,548.8 385.2,548.9 385.9,548.9 386.5,548.9 387.1,548.9 387.8,548.9 388.4,548.9 389.1,548.9 389.7,548.9 390.3,548.8 391,548.8 391.6,548.8 392.2,548.8 392.9,548.8 393.5,548.7 394.1,548.7 394.8,548.7 395.4,548.7 396,548.6 396.7,548.6 397.3,548.6 397.9,548.5 398.6,548.5 399.2,548.4 399.8,548.4 400.5,548.4 401.1,548.3 401.7,548.3 402.4,548.2 403,548.2 403.6,548.1 404.3,548 404.9,548 405.6,547.9 406.2,547.9 406.8,547.8 407.5,547.8 408.1,547.7 408.7,547.6 409.4,547.6 410,547.5 410.6,547.4 411.3,547.4 411.9,547.3 412.5,547.2 413.2,547.2 413.8,547.1 414.4,547 415.1,546.9 415.7,546.9 416.3,546.8 417,546.7 417.6,546.7 418.2,546.6 418.9,546.5 419.5,546.4 420.2,546.3 420.8,546.3 421.4,546.2 422.1,546.1 422.7,546 423.3,545.9 424,545.9 424.6,545.8 425.2,545.7 425.9,545.6 426.5,545.5 427.1,545.5 427.8,545.4 428.4,545.3 429,545.2 429.7,545.1 430.3,545 430.9,545 431.6,544.9 432.2,544.8 432.8,544.7 433.5,544.6 434.1,544.5 434.7,544.4 435.4,544.4 436,544.3 436.7,544.2 437.3,544.1 437.9,544 438.6,543.9 439.2,543.8 439.8,543.8 440.5,543.7 441.1,543.6 441.7,543.5 442.4,543.4 443,543.3 443.6,543.2 444.3,543.1 444.9,543.1 445.5,543 446.2,542.9 446.8,542.8 447.4,542.7 448.1,542.6 448.7,542.5 449.3,542.4 450,542.4 450.6,542.3 451.3,542.2 451.9,542.1 452.5,542 453.2,541.9 453.8,541.8 454.4,541.8 455.1,541.7 455.7,541.6 456.3,541.5 457,541.4 457.6,541.3 458.2,541.2 458.9,541.2 459.5,541.1 460.1,541 460.8,540.9 461.4,540.8 462,540.7 462.7,540.6 463.3,540.6 463.9,540.5 464.6,540.4 465.2,540.3 465.9,540.2 466.5,540.1 467.1,540.1 467.8,540 468.4,539.9 469,539.8 469.7,539.7 470.3,539.6 470.9,539.6 471.6,539.5 472.2,539.4 472.8,539.3 473.5,539.2 474.1,539.2 474.7,539.1 475.4,539 476,538.9 476.6,538.8 477.3,538.8 477.9,538.7 478.5,538.6 479.2,538.5 479.8,538.4 480.4,538.4 481.1,538.3 481.7,538.2 482.4,538.1 483,538 483.6,538 484.3,537.9 484.9,537.8 485.5,537.7 486.2,537.7 486.8,537.6 487.4,537.5 488.1,537.4 488.7,537.4 489.3,537.3 490,537.2 490.6,537.1 491.2,537.1 491.9,537 492.5,536.9 493.1,536.8 493.8,536.8 494.4,536.7 495,536.6 495.7,536.5 496.3,536.5 497,536.4 497.6,536.3 498.2,536.2 498.9,536.2 499.5,536.1" fill="none" stroke="none" marker-start="url(#mg)" marker-mid="url(#mg)" marker-end="url(#mg)"/>
<polyline points="149.8,17.1 150.4,19.3 151,21.4 151.7,23.5 152.3,25.6 152.9,27.6 153.6,29.6 154.2,31.6 154.8,33.5 155.5,35.4 156.1,37.3 156.8,39.2 157.4,41 158,42.8 158.7,44.6 159.3,46.3 159.9,48 160.6,49.7 161.2,51.4 161.8,53 162.5,54.7 163.1,56.3 163.7,57.8 164.4,59.4 165,60.9 165.6,62.4 166.3,63.8 166.9,65.3 167.5,66.7 168.2,68.1 168.8,71.8 169.4,76.1 170.1,80.4 170.7,84.7 171.4,88.9 172,93.1 172.6,97.2 173.3,101.4 173.9,105.4 174.5,109.5 175.2,113.5 175.8,117.5 176.4,121.4 177.1,125.3 177.7,129.2 178.3,133.1 179,136.9 179.6,140.7 180.2,144.4 180.9,148.1 181.5,151.8 182.1,155.4 182.8,159.1 183.4,162.6 184,166.2 184.7,169.7 185.3,173.2 185.9,176.7 186.6,180.1 187.2,183.5 187.9,186.9 188.5,190.3 189.1,193.6 189.8,196.9 190.4,200.1 191,203.4 191.7,206.6 192.3,209.8 192.9,212.9 193.6,216 194.2,219.1 194.8,222.2 195.5,225.3 196.1,228.3 196.7,231.3 197.4,234.3 198,237.2 198.6,240.1 199.3,243 199.9,245.9 200.5,248.8 201.2,251.6 201.8,254.4 202.5,257.2 203.1,259.9 203.7,262.7 204.4,265.4 205,268 205.6,270.7 206.3,273.4 206.9,276 207.5,278.6 208.2,281.1 208.8,283.7 209.4,286.2 210.1,288.7 210.7,291.2 211.3,293.7 212,296.2 212.6,298.6 213.2,301 213.9,303.4 214.5,305.8 215.1,308.1 215.8,310.4 216.4,312.8 217,315 217.7,317.3 218.3,319.6 219,321.8 219.6,324 220.2,326.2 220.9,328.4 221.5,330.6 222.1,332.7 222.8,334.8 223.4,336.9 224,339 224.7,341.1 225.3,343.2 225.9,345.2 226.6,347.2 227.2,349.2 227.8,351.2 228.5,353.2 229.1,355.1 229.7,357.1 230.4,358.9 231,360.8 231.6,362.6 232.3,364.3 232.9,365.6 233.6,366.3 234.2,366.7 234.8,366.9 235.5,367 236.1,367.2 236.7,367.3 237.4,367.4 238,367.5 238.6,367.6 239.3,367.7 239.9,367.8 240.5,367.8 241.2,367.9 241.8,368 242.4,368 243.1,368.1 243.7,368.1 244.3,368.2 245,368.2 245.6,368.2 246.2,368.3 246.9,368.3 247.5,368.3 248.1,368.3 248.8,368.3 249.4,368.3 250.1,368.3 250.7,368.3 251.3,368.3 252,368.3 252.6,368.3 253.2,368.3 253.9,368.3 254.5,368.3 255.1,368.3 255.8,368.2 256.4,368.2 257,368.2 257.7,368.1 258.3,368.1 258.9,368.1 259.6,368 260.2,368 260.8,367.9 261.5,367.9 262.1,367.8 262.7,367.8 263.4,367.7 264,367.6 264.7,367.6 265.3,367.5 265.9,367.4 266.6,367.4 267.2,367.3 267.8,367.2 268.5,367.1 269.1,367.1 269.7,367 270.4,366.9 271,366.8 271.6,366.7 272.3,366.6 272.9,366.5 273.5,366.5 274.2,366.4 274.8,366.3 275.4,366.2 276.1,366.1 276.7,366 277.3,365.9 278,365.8 278.6,365.7 279.2,365.5 279.9,365.4 280.5,365.3 281.2,365.2 281.8,365.1 282.4,365 283.1,364.9 283.7,364.8 284.3,364.7 285,364.5 285.6,364.4 286.2,364.3 286.9,364.2 287.5,364.1 288.1,363.9 288.8,363.8 289.4,363.7 290,363.6 290.7,363.4 291.3,363.3 291.9,363.2 292.6,363.1 293.2,362.9 293.8,362.8 294.5,362.7 295.1,362.6 295.8,362.4 296.4,362.3 297,362.2 297.7,362 298.3,361.9 298.9,361.8 299.6,361.7 300.2,361.5 300.8,361.4 301.5,361.3 302.1,361.1 302.7,361 303.4,360.9 304,360.7 304.6,360.6 305.3,360.5 305.9,360.4 306.5,360.2 307.2,360.1 307.8,360 308.4,359.8 309.1,359.7 309.7,359.6 310.3,359.5 311,359.3 311.6,359.2 312.3,359.1 312.9,359 313.5,358.8 314.2,358.7 314.8,358.6 315.4,358.5 316.1,358.4 316.7,358.2 317.3,358.1 318,358 318.6,357.9 319.2,357.8 319.9,357.7 320.5,357.5 321.1,357.4 321.8,357.3 322.4,357.2 323,357.1 323.7,357 324.3,356.9 324.9,356.8 325.6,356.7 326.2,356.6 326.9,356.5 327.5,356.4 328.1,356.3 328.8,356.2 329.4,356.1 330,356 330.7,355.9 331.3,355.8 331.9,355.7 332.6,355.6 333.2,355.6 333.8,355.5 334.5,355.4 335.1,355.3 335.7,355.2 336.4,355.2 337,355.1 337.6,355 338.3,355 338.9,354.9 339.5,354.8 340.2,354.8 340.8,354.7 341.4,354.7 342.1,354.6 342.7,354.6 343.4,354.5 344,354.5 344.6,354.5 345.3,354.4 345.9,354.4 346.5,354.4 347.2,354.3 347.8,354.3 348.4,354.3 349.1,354.3 349.7,354.2 350.3,354.2 351,354.2 351.6,354.2 352.2,354.2 352.9,354.2 353.5,354.2 354.1,354.2 354.8,354.2 355.4,354.3 356,354.3 356.7,354.3 357.3,354.3 358,354.4 358.6,354.4 359.2,354.4 359.9,354.5 360.5,354.5 361.1,354.6 361.8,354.6 362.4,354.7 363,354.7 363.7,354.8 364.3,354.8 364.9,354.9 365.6,355 366.2,355 366.8,355.1 367.5,355.2 368.1,355.3 368.7,355.4 369.4,355.5 370,355.6 370.6,355.6 371.3,355.7 371.9,355.8 372.5,356 373.2,356.1 373.8,356.2 374.5,356.3 375.1,356.4 375.7,356.5 376.4,356.6 377,356.8 377.6,356.9 378.3,357 378.9,357.2 379.5,357.3 380.2,357.4 380.8,357.6 381.4,357.7 382.1,357.8 382.7,358 383.3,358.1 384,358.3 384.6,358.4 385.2,358.6 385.9,358.7 386.5,358.9 387.1,359 387.8,359.2 388.4,359.4 389.1,359.5 389.7,359.7 390.3,359.9 391,360 391.6,360.2 392.2,360.4 392.9,360.5 393.5,360.7 394.1,360.9 394.8,361 395.4,361.2 396,361.4 396.7,361.6 397.3,361.7 397.9,361.9 398.6,362.1 399.2,362.3 399.8,362.4 400.5,362.6 401.1,362.8 401.7,363 402.4,363.1 403,363.3 403.6,363.5 404.3,363.7 404.9,363.9 405.6,364 406.2,364.2 406.8,364.4 407.5,364.6 408.1,364.8 408.7,364.9 409.4,365.1 410,365.3 410.6,365.5 411.3,365.7 411.9,365.8 412.5,366 413.2,366.2 413.8,366.4 414.4,366.6 415.1,366.7 415.7,366.9 416.3,367.1 417,367.3 417.6,367.5 418.2,367.6 418.9,367.8 419.5,368 420.2,368.2 420.8,368.3 421.4,368.5 422.1,368.7 422.7,368.9 423.3,369 424,369.2 424.6,369.4 425.2,369.6 425.9,369.7 426.5,369.9 427.1,370.1 427.8,370.3 428.4,370.4 429,370.6 429.7,370.8 430.3,370.9 430.9,371.1 431.6,371.3 432.2,371.5 432.8,371.6 433.5,371.8 434.1,372 434.7,372.1 435.4,372.3 436,372.4 436.7,372.6 437.3,372.8 437.9,372.9 438.6,373.1 439.2,373.3 439.8,373.4 440.5,373.6 441.1,373.7 441.7,373.9 442.4,374.1 443,374.2 443.6,374.4 444.3,374.5 444.9,374.7 445.5,374.8 446.2,375 446.8,375.2 447.4,375.3 448.1,375.5 448.7,375.6 449.3,375.8 450,375.9 450.6,376.1 451.3,376.2 451.9,376.4 452.5,376.5 453.2,376.7 453.8,376.8 454.4,377 455.1,377.1 455.7,377.2 456.3,377.4 457,377.5 457.6,377.7 458.2,377.8 458.9,378 459.5,378.1 460.1,378.2 460.8,378.4 461.4,378.5 462,378.7 462.7,378.8 463.3,378.9 463.9,379.1 464.6,379.2 465.2,379.3 465.9,379.5 466.5,379.6 467.1,379.7 467.8,379.9 468.4,380 469,380.1 469.7,380.3 470.3,380.4 470.9,380.5 471.6,380.7 472.2,380.8 472.8,380.9 473.5,381 474.1,381.2 474.7,381.3 475.4,381.4 476,381.5 476.6,381.7 477.3,381.8 477.9,381.9 478.5,382 479.2,382.2 479.8,382.3 480.4,382.4 481.1,382.5 481.7,382.6 482.4,382.8 483,382.9 483.6,383 484.3,383.1 484.9,383.2 485.5,383.3 486.2,383.5 486.8,383.6 487.4,383.7 488.1,383.8 488.7,383.9 489.3,384 490,384.1 490.6,384.2 491.2,384.4 491.9,384.5 492.5,384.6 493.1,384.7 493.8,384.8 494.4,384.9 495,385 495.7,385.1 496.3,385.2 497,385.3 497.6,385.4 498.2,385.5 498.9,385.6 499.5,385.7" fill="none" stroke="none" marker-start="url(#mg)" marker-mid="url(#mg)" marker-end="url(#mg)"/>
<polyline points="161.8,21.4 162.5,26.2 163.1,30.9 163.7,35.6 164.4,40.3 165,44.9 165.6,49.5 166.3,54 166.9,58.5 167.5,63 168.2,67.4 168.8,69.5 169.4,70.9 170.1,72.2 170.7,73.5 171.4,74.8 172,76.1 172.6,77.3 173.3,78.6 173.9,79.8 174.5,81 175.2,82.1 175.8,83.3 176.4,84.4 177.1,85.5 177.7,86.6 178.3,87.7 179,88.8 179.6,89.8 180.2,90.8 180.9,91.8 181.5,92.8 182.1,93.8 182.8,94.7 183.4,95.7 184,96.6 184.7,97.5 185.3,98.4 185.9,99.3 186.6,100.1 187.2,101 187.9,101.8 188.5,102.6 189.1,103.4 189.8,104.2 190.4,104.9 191,105.7 191.7,106.4 192.3,107.1 192.9,107.9 193.6,108.6 194.2,109.2 194.8,109.9 195.5,110.6 196.1,111.2 196.7,111.8 197.4,112.5 198,113.1 198.6,113.7 199.3,114.2 199.9,114.8 200.5,115.4 201.2,115.9 201.8,116.5 202.5,117 203.1,117.5 203.7,118 204.4,118.5 205,119 205.6,119.4 206.3,119.9 206.9,120.4 207.5,120.8 208.2,121.2 208.8,121.6 209.4,122.1 210.1,122.5 210.7,122.9 211.3,123.2 212,123.6 212.6,124 213.2,124.3 213.9,124.7 214.5,125 215.1,125.3 215.8,125.7 216.4,126 217,126.3 217.7,126.6 218.3,126.9 219,127.2 219.6,127.4 220.2,127.7 220.9,128 221.5,128.2 222.1,128.4 222.8,128.7 223.4,128.9 224,129.1 224.7,129.4 225.3,129.6 225.9,129.8 226.6,130 227.2,130.2 227.8,130.4 228.5,130.6 229.1,130.7 229.7,130.9 230.4,131.1 231,131.3 231.6,131.5 232.3,131.9 232.9,132.6 233.6,133.8 234.2,135.5 234.8,137.2 235.5,139 236.1,140.7 236.7,142.5 237.4,144.2 238,146 238.6,147.7 239.3,149.4 239.9,151.1 240.5,152.8 241.2,154.5 241.8,156.2 242.4,157.8 243.1,159.5 243.7,161.1 244.3,162.7 245,164.3 245.6,165.9 246.2,167.5 246.9,169.1 247.5,170.6 248.1,172.2 248.8,173.7 249.4,175.2 250.1,176.7 250.7,178.2 251.3,179.7 252,181.2 252.6,182.6 253.2,184.1 253.9,185.5 254.5,186.9 255.1,188.4 255.8,189.8 256.4,191.1 257,192.5 257.7,193.9 258.3,195.3 258.9,196.6 259.6,197.9 260.2,199.3 260.8,200.6 261.5,201.9 262.1,203.2 262.7,204.5 263.4,205.8 264,207 264.7,208.3 265.3,209.5 265.9,210.8 266.6,212 267.2,213.2 267.8,214.4 268.5,215.6 269.1,216.8 269.7,218 270.4,219.1 271,220.3 271.6,221.4 272.3,222.6 272.9,223.7 273.5,224.8 274.2,226 274.8,227.1 275.4,228.2 276.1,229.3 276.7,230.3 277.3,231.4 278,232.5 278.6,233.5 279.2,234.6 279.9,235.6 280.5,236.6 281.2,237.7 281.8,238.7 282.4,239.7 283.1,240.7 283.7,241.7 284.3,242.6 285,243.6 285.6,244.6 286.2,245.5 286.9,246.5 287.5,247.4 288.1,248.4 288.8,249.3 289.4,250.2 290,251.1 290.7,252 291.3,252.9 291.9,253.8 292.6,254.7 293.2,255.6 293.8,256.4 294.5,257.3 295.1,258.2 295.8,259 296.4,259.8 297,260.7 297.7,261.5 298.3,262.3 298.9,263.1 299.6,263.9 300.2,264.7 300.8,265.5 301.5,266.3 302.1,267.1 302.7,267.9 303.4,268.6 304,269.4 304.6,270.2 305.3,270.9 305.9,271.6 306.5,272.4 307.2,273.1 307.8,273.8 308.4,274.5 309.1,275.2 309.7,275.9 310.3,276.6 311,277.3 311.6,278 312.3,278.7 312.9,279.4 313.5,280 314.2,280.7 314.8,281.3 315.4,282 316.1,282.6 316.7,283.2 317.3,283.9 318,284.5 318.6,285.1 319.2,285.7 319.9,286.3 320.5,286.9 321.1,287.5 321.8,288.1 322.4,288.7 323,289.2 323.7,289.8 324.3,290.4 324.9,290.9 325.6,291.5 326.2,292 326.9,292.6 327.5,293.1 328.1,293.6 328.8,294.1 329.4,294.6 330,295.2 330.7,295.7 331.3,296.2 331.9,296.6 332.6,297.1 333.2,297.6 333.8,298.1 334.5,298.5 335.1,299 335.7,299.5 336.4,299.9 337,300.3 337.6,300.8 338.3,301.2 338.9,301.6 339.5,302 340.2,302.5 340.8,302.9 341.4,303.3 342.1,303.6 342.7,304 343.4,304.4 344,304.8 344.6,305.2 345.3,305.5 345.9,305.9 346.5,306.2 347.2,306.6 347.8,306.9 348.4,307.2 349.1,307.6 349.7,307.9 350.3,308.2 351,308.5 351.6,308.8 352.2,309.1 352.9,309.4 353.5,309.7 354.1,309.9 354.8,310.2 355.4,310.5 356,310.7 356.7,311 357.3,311.2 358,311.4 358.6,311.7 359.2,311.9 359.9,312.1 360.5,312.3 361.1,312.5 361.8,312.7 362.4,312.9 363,313.1 363.7,313.3 364.3,313.5 364.9,313.7 365.6,313.8 366.2,314 366.8,314.1 367.5,314.3 368.1,314.4 368.7,314.6 369.4,314.7 370,314.8 370.6,315 371.3,315.1 371.9,315.2 372.5,315.3 373.2,315.4 373.8,315.5 374.5,315.6 375.1,315.7 375.7,315.8 376.4,315.8 377,315.9 377.6,316 378.3,316 378.9,316.1 379.5,316.2 380.2,316.2 380.8,316.3 381.4,316.3 382.1,316.3 382.7,316.4 383.3,316.4 384,316.4 384.6,316.5 385.2,316.5 385.9,316.5 386.5,316.5 387.1,316.5 387.8,316.5 388.4,316.6 389.1,316.6 389.7,316.6 390.3,316.5 391,316.5 391.6,316.5 392.2,316.5 392.9,316.5 393.5,316.5 394.1,316.5 394.8,316.5 395.4,316.4 396,316.4 396.7,316.4 397.3,316.3 397.9,316.3 398.6,316.3 399.2,316.2 399.8,316.2 400.5,316.2 401.1,316.1 401.7,316.1 402.4,316 403,316 403.6,315.9 404.3,315.9 404.9,315.8 405.6,315.8 406.2,315.7 406.8,315.7 407.5,315.6 408.1,315.6 408.7,315.5 409.4,315.4 410,315.4 410.6,315.3 411.3,315.2 411.9,315.2 412.5,315.1 413.2,315 413.8,315 414.4,314.9 415.1,314.8 415.7,314.8 416.3,314.7 417,314.6 417.6,314.6 418.2,314.5 418.9,314.4 419.5,314.3 420.2,314.3 420.8,314.2 421.4,314.1 422.1,314 422.7,313.9 423.3,313.9 424,313.8 424.6,313.7 425.2,313.6 425.9,313.6 426.5,313.5 427.1,313.4 427.8,313.3 428.4,313.2 429,313.1 429.7,313.1 430.3,313 430.9,312.9 431.6,312.8 432.2,312.7 432.8,312.6 433.5,312.6 434.1,312.5 434.7,312.4 435.4,312.3 436,312.2 436.7,312.1 437.3,312 437.9,312 438.6,311.9 439.2,311.8 439.8,311.7 440.5,311.6 441.1,311.5 441.7,311.4 442.4,311.4 443,311.3 443.6,311.2 444.3,311.1 444.9,311 445.5,310.9 446.2,310.8 446.8,310.8 447.4,310.7 448.1,310.6 448.7,310.5 449.3,310.4 450,310.3 450.6,310.2 451.3,310.2 451.9,310.1 452.5,310 453.2,309.9 453.8,309.8 454.4,309.7 455.1,309.6 455.7,309.6 456.3,309.5 457,309.4 457.6,309.3 458.2,309.2 458.9,309.1 459.5,309 460.1,309 460.8,308.9 461.4,308.8 462,308.7 462.7,308.6 463.3,308.5 463.9,308.5 464.6,308.4 465.2,308.3 465.9,308.2 466.5,308.1 467.1,308 467.8,308 468.4,307.9 469,307.8 469.7,307.7 470.3,307.6 470.9,307.5 471.6,307.5 472.2,307.4 472.8,307.3 473.5,307.2 474.1,307.1 474.7,307.1 475.4,307 476,306.9 476.6,306.8 477.3,306.7 477.9,306.7 478.5,306.6 479.2,306.5 479.8,306.4 480.4,306.3 481.1,306.3 481.7,306.2 482.4,306.1 483,306 483.6,306 484.3,305.9 484.9,305.8 485.5,305.7 486.2,305.6 486.8,305.6 487.4,305.5 488.1,305.4 488.7,305.3 489.3,305.3 490,305.2 490.6,305.1 491.2,305 491.9,305 492.5,304.9 493.1,304.8 493.8,304.7 494.4,304.7 495,304.6 495.7,304.5 496.3,304.5 497,304.4 497.6,304.3 498.2,304.2 498.9,304.2 499.5,304.1" fill="none" stroke="none" marker-start="url(#mg)" marker-mid="url(#mg)" marker-end="url(#mg)"/>
<polyline points="201.8,19 202.5,21.8 203.1,24.6 203.7,27.3 204.4,30 205,32.7 205.6,35.4 206.3,38 206.9,40.6 207.5,43.2 208.2,45.8 208.8,48.4 209.4,50.9 210.1,53.4 210.7,55.9 211.3,58.4 212,60.8 212.6,63.3 213.2,65.7 213.9,68.1 214.5,70.4 215.1,72.8 215.8,75.1 216.4,77.4 217,79.7 217.7,82 218.3,84.3 219,86.5 219.6,88.7 220.2,90.9 220.9,93.1 221.5,95.3 222.1,97.4 222.8,99.6 223.4,101.7 224,103.8 224.7,105.8 225.3,107.9 225.9,109.9 226.6,112 227.2,114 227.8,116 228.5,117.9 229.1,119.9 229.7,121.8 230.4,123.7 231,125.6 231.6,127.4 232.3,129.1 232.9,130.4 233.6,131.1 234.2,131.4 234.8,131.7 235.5,131.8 236.1,132 236.7,132.1 237.4,132.2 238,132.3 238.6,132.4 239.3,132.5 239.9,132.6 240.5,132.7 241.2,132.7 241.8,132.8 242.4,132.9 243.1,132.9 243.7,133 244.3,133 245,133.1 245.6,133.1 246.2,133.1 246.9,133.2 247.5,133.2 248.1,133.2 248.8,133.2 249.4,133.2 250.1,133.3 250.7,133.3 251.3,133.3 252,133.3 252.6,133.3 253.2,133.3 253.9,133.3 254.5,133.2 255.1,133.2 255.8,133.2 256.4,133.2 257,133.2 257.7,133.1 258.3,133.1 258.9,133.1 259.6,133 260.2,133 260.8,132.9 261.5,132.9 262.1,132.9 262.7,132.8 263.4,132.8 264,132.7 264.7,132.6 265.3,132.6 265.9,132.5 266.6,132.5 267.2,132.4 267.8,132.3 268.5,132.3 269.1,132.2 269.7,132.1 270.4,132 271,132 271.6,131.9 272.3,131.8 272.9,131.7 273.5,131.6 274.2,131.6 274.8,131.5 275.4,131.4 276.1,131.3 276.7,131.2 277.3,131.1 278,131 278.6,130.9 279.2,130.8 279.9,130.7 280.5,130.6 281.2,130.5 281.8,130.4 282.4,130.3 283.1,130.2 283.7,130.1 284.3,130 285,129.9 285.6,129.8 286.2,129.7 286.9,129.6 287.5,129.4 288.1,129.3 288.8,129.2 289.4,129.1 290,129 290.7,128.9 291.3,128.8 291.9,128.7 292.6,128.5 293.2,128.4 293.8,128.3 294.5,128.2 295.1,128.1 295.8,128 296.4,127.8 297,127.7 297.7,127.6 298.3,127.5 298.9,127.4 299.6,127.2 300.2,127.1 300.8,127 301.5,126.9 302.1,126.8 302.7,126.7 303.4,126.5 304,126.4 304.6,126.3 305.3,126.2 305.9,126.1 306.5,125.9 307.2,125.8 307.8,125.7 308.4,125.6 309.1,125.5 309.7,125.4 310.3,125.3 311,125.1 311.6,125 312.3,124.9 312.9,124.8 313.5,124.7 314.2,124.6 314.8,124.5 315.4,124.4 316.1,124.3 316.7,124.2 317.3,124.1 318,123.9 318.6,123.8 319.2,123.7 319.9,123.6 320.5,123.5 321.1,123.4 321.8,123.3 322.4,123.2 323,123.2 323.7,123.1 324.3,123 324.9,122.9 325.6,122.8 326.2,122.7 326.9,122.6 327.5,122.5 328.1,122.5 328.8,122.4 329.4,122.3 330,122.2 330.7,122.1 331.3,122.1 331.9,122 332.6,121.9 333.2,121.9 333.8,121.8 334.5,121.7 335.1,121.7 335.7,121.6 336.4,121.6 337,121.5 337.6,121.5 338.3,121.4 338.9,121.4 339.5,121.3 340.2,121.3 340.8,121.2 341.4,121.2 342.1,121.2 342.7,121.1 343.4,121.1 344,121.1 344.6,121.1 345.3,121.1 345.9,121 346.5,121 347.2,121 347.8,121 348.4,121 349.1,121 349.7,121 350.3,121 351,121 351.6,121 352.2,121.1 352.9,121.1 353.5,121.1 354.1,121.1 354.8,121.2 355.4,121.2 356,121.2 356.7,121.3 357.3,121.3 358,121.4 358.6,121.4 359.2,121.5 359.9,121.5 360.5,121.6 361.1,121.7 361.8,121.7 362.4,121.8 363,121.9 363.7,121.9 364.3,122 364.9,122.1 365.6,122.2 366.2,122.3 366.8,122.4 367.5,122.5 368.1,122.6 368.7,122.7 369.4,122.8 370,122.9 370.6,123 371.3,123.1 371.9,123.2 372.5,123.3 373.2,123.5 373.8,123.6 374.5,123.7 375.1,123.9 375.7,124 376.4,124.1 377,124.3 377.6,124.4 378.3,124.5 378.9,124.7 379.5,124.8 380.2,125 380.8,125.1 381.4,125.3 382.1,125.4 382.7,125.6 383.3,125.7 384,125.9 384.6,126.1 385.2,126.2 385.9,126.4 386.5,126.5 387.1,126.7 387.8,126.9 388.4,127 389.1,127.2 389.7,127.4 390.3,127.6 391,127.7 391.6,127.9 392.2,128.1 392.9,128.3 393.5,128.4 394.1,128.6 394.8,128.8 395.4,129 396,129.1 396.7,129.3 397.3,129.5 397.9,129.7 398.6,129.9 399.2,130.1 399.8,130.2 400.5,130.4 401.1,130.6 401.7,130.8 402.4,131 403,131.1 403.6,131.3 404.3,131.5 404.9,131.7 405.6,131.9 406.2,132.1 406.8,132.3 407.5,132.4 408.1,132.6 408.7,132.8 409.4,133 410,133.2 410.6,133.4 411.3,133.5 411.9,133.7 412.5,133.9 413.2,134.1 413.8,134.3 414.4,134.5 415.1,134.6 415.7,134.8 416.3,135 417,135.2 417.6,135.4 418.2,135.5 418.9,135.7 419.5,135.9 420.2,136.1 420.8,136.3 421.4,136.4 422.1,136.6 422.7,136.8 423.3,137 424,137.1 424.6,137.3 425.2,137.5 425.9,137.7 426.5,137.8 427.1,138 427.8,138.2 428.4,138.4 429,138.5 429.7,138.7 430.3,138.9 430.9,139.1 431.6,139.2 432.2,139.4 432.8,139.6 433.5,139.7 434.1,139.9 434.7,140.1 435.4,140.2 436,140.4 436.7,140.6 437.3,140.7 437.9,140.9 438.6,141.1 439.2,141.2 439.8,141.4 440.5,141.5 441.1,141.7 441.7,141.9 442.4,142 443,142.2 443.6,142.3 444.3,142.5 444.9,142.7 445.5,142.8 446.2,143 446.8,143.1 447.4,143.3 448.1,143.4 448.7,143.6 449.3,143.7 450,143.9 450.6,144 451.3,144.2 451.9,144.3 452.5,144.5 453.2,144.6 453.8,144.8 454.4,144.9 455.1,145.1 455.7,145.2 456.3,145.4 457,145.5 457.6,145.7 458.2,145.8 458.9,145.9 459.5,146.1 460.1,146.2 460.8,146.4 461.4,146.5 462,146.6 462.7,146.8 463.3,146.9 463.9,147.1 464.6,147.2 465.2,147.3 465.9,147.5 466.5,147.6 467.1,147.7 467.8,147.9 468.4,148 469,148.1 469.7,148.3 470.3,148.4 470.9,148.5 471.6,148.6 472.2,148.8 472.8,148.9 473.5,149 474.1,149.2 474.7,149.3 475.4,149.4 476,149.5 476.6,149.7 477.3,149.8 477.9,149.9 478.5,150 479.2,150.1 479.8,150.3 480.4,150.4 481.1,150.5 481.7,150.6 482.4,150.7 483,150.9 483.6,151 484.3,151.1 484.9,151.2 485.5,151.3 486.2,151.4 486.8,151.6 487.4,151.7 488.1,151.8 488.7,151.9 489.3,152 490,152.1 490.6,152.2 491.2,152.3 491.9,152.5 492.5,152.6 493.1,152.7 493.8,152.8 494.4,152.9 495,153 495.7,153.1 496.3,153.2 497,153.3 497.6,153.4 498.2,153.5 498.9,153.6 499.5,153.7" fill="none" stroke="none" marker-start="url(#mg)" marker-mid="url(#mg)" marker-end="url(#mg)"/>
<polyline points="288.8,17 289.4,17.9 290,18.8 290.7,19.7 291.3,20.6 291.9,21.5 292.6,22.3 293.2,23.2 293.8,24.1 294.5,24.9 295.1,25.8 295.8,26.6 296.4,27.5 297,28.3 297.7,29.1 298.3,29.9 298.9,30.8 299.6,31.6 300.2,32.4 300.8,33.1 301.5,33.9 302.1,34.7 302.7,35.5 303.4,36.2 304,37 304.6,37.7 305.3,38.5 305.9,39.2 306.5,39.9 307.2,40.7 307.8,41.4 308.4,42.1 309.1,42.8 309.7,43.5 310.3,44.2 311,44.9 311.6,45.6 312.3,46.2 312.9,46.9 313.5,47.5 314.2,48.2 314.8,48.8 315.4,49.5 316.1,50.1 316.7,50.8 317.3,51.4 318,52 318.6,52.6 319.2,53.2 319.9,53.8 320.5,54.4 321.1,55 321.8,55.6 322.4,56.1 323,56.7 323.7,57.3 324.3,57.8 324.9,58.4 325.6,58.9 326.2,59.4 326.9,60 327.5,60.5 328.1,61 328.8,61.5 329.4,62 330,62.5 330.7,63 331.3,63.5 331.9,64 332.6,64.5 333.2,64.9 333.8,65.4 334.5,65.9 335.1,66.3 335.7,66.8 336.4,67.2 337,67.6 337.6,68.1 338.3,68.5 338.9,68.9 339.5,69.3 340.2,69.7 340.8,70.1 341.4,70.5 342.1,70.9 342.7,71.2 343.4,71.6 344,72 344.6,72.3 345.3,72.7 345.9,73 346.5,73.4 347.2,73.7 347.8,74 348.4,74.4 349.1,74.7 349.7,75 350.3,75.3 351,75.6 351.6,75.9 352.2,76.1 352.9,76.4 353.5,76.7 354.1,77 354.8,77.2 355.4,77.5 356,77.7 356.7,78 357.3,78.2 358,78.4 358.6,78.6 359.2,78.9 359.9,79.1 360.5,79.3 361.1,79.5 361.8,79.7 362.4,79.8 363,80 363.7,80.2 364.3,80.4 364.9,80.5 365.6,80.7 366.2,80.8 366.8,81 367.5,81.1 368.1,81.3 368.7,81.4 369.4,81.5 370,81.6 370.6,81.8 371.3,81.9 371.9,82 372.5,82.1 373.2,82.2 373.8,82.3 374.5,82.3 375.1,82.4 375.7,82.5 376.4,82.6 377,82.6 377.6,82.7 378.3,82.8 378.9,82.8 379.5,82.9 380.2,82.9 380.8,83 381.4,83 382.1,83 382.7,83.1 383.3,83.1 384,83.1 384.6,83.2 385.2,83.2 385.9,83.2 386.5,83.2 387.1,83.2 387.8,83.2 388.4,83.2 389.1,83.2 389.7,83.2 390.3,83.2 391,83.2 391.6,83.2 392.2,83.2 392.9,83.2 393.5,83.2 394.1,83.2 394.8,83.1 395.4,83.1 396,83.1 396.7,83.1 397.3,83 397.9,83 398.6,83 399.2,82.9 399.8,82.9 400.5,82.9 401.1,82.8 401.7,82.8 402.4,82.7 403,82.7 403.6,82.7 404.3,82.6 404.9,82.6 405.6,82.5 406.2,82.5 406.8,82.4 407.5,82.3 408.1,82.3 408.7,82.2 409.4,82.2 410,82.1 410.6,82.1 411.3,82 411.9,81.9 412.5,81.9 413.2,81.8 413.8,81.8 414.4,81.7 415.1,81.6 415.7,81.6 416.3,81.5 417,81.4 417.6,81.4 418.2,81.3 418.9,81.2 419.5,81.1 420.2,81.1 420.8,81 421.4,80.9 422.1,80.9 422.7,80.8 423.3,80.7 424,80.6 424.6,80.6 425.2,80.5 425.9,80.4 426.5,80.3 427.1,80.3 427.8,80.2 428.4,80.1 429,80 429.7,80 430.3,79.9 430.9,79.8 431.6,79.7 432.2,79.6 432.8,79.6 433.5,79.5 434.1,79.4 434.7,79.3 435.4,79.2 436,79.2 436.7,79.1 437.3,79 437.9,78.9 438.6,78.8 439.2,78.8 439.8,78.7 440.5,78.6 441.1,78.5 441.7,78.4 442.4,78.4 443,78.3 443.6,78.2 444.3,78.1 444.9,78 445.5,78 446.2,77.9 446.8,77.8 447.4,77.7 448.1,77.6 448.7,77.5 449.3,77.5 450,77.4 450.6,77.3 451.3,77.2 451.9,77.1 452.5,77.1 453.2,77 453.8,76.9 454.4,76.8 455.1,76.7 455.7,76.7 456.3,76.6 457,76.5 457.6,76.4 458.2,76.3 458.9,76.3 459.5,76.2 460.1,76.1 460.8,76 461.4,75.9 462,75.9 462.7,75.8 463.3,75.7 463.9,75.6 464.6,75.5 465.2,75.5 465.9,75.4 466.5,75.3 467.1,75.2 467.8,75.1 468.4,75.1 469,75 469.7,74.9 470.3,74.8 470.9,74.8 471.6,74.7 472.2,74.6 472.8,74.5 473.5,74.5 474.1,74.4 474.7,74.3 475.4,74.2 476,74.2 476.6,74.1 477.3,74 477.9,73.9 478.5,73.8 479.2,73.8 479.8,73.7 480.4,73.6 481.1,73.6 481.7,73.5 482.4,73.4 483,73.3 483.6,73.3 484.3,73.2 484.9,73.1 485.5,73 486.2,73 486.8,72.9 487.4,72.8 488.1,72.8 488.7,72.7 489.3,72.6 490,72.5 490.6,72.5 491.2,72.4 491.9,72.3 492.5,72.3 493.1,72.2 493.8,72.1 494.4,72 495,72 495.7,71.9 496.3,71.8 497,71.8 497.6,71.7 498.2,71.6 498.9,71.6 499.5,71.5" fill="none" stroke="none" marker-start="url(#mg)" marker-mid="url(#mg)" marker-end="url(#mg)"/>
<polyline points="86.3,23.3 86.9,31.6 87.6,39.8 88.2,47.9 88.8,55.8 89.5,63.7 90.1,71.5 90.7,79.2 91.4,86.9 92,94.4 92.6,101.8 93.3,109.1 93.9,116.4 94.6,123.5 95.2,130.6 95.8,137.5 96.5,144.4 97.1,151.2 97.7,157.9 98.4,164.5 99,171.1 99.6,177.5 100.3,183.9 100.9,190.2 101.5,196.4 102.2,202.6 102.8,208.6 103.4,214.6 104.1,220.5 104.7,226.4 105.3,232.1 106,237.8 106.6,243.4 107.2,249 107.9,254.5 108.5,259.9 109.1,265.2 109.8,270.5 110.4,275.7 111.1,280.8 111.7,285.8 112.3,290.8 113,295.8 113.6,300.6 114.2,305.5 114.9,310.2 115.5,314.9 116.1,319.5 116.8,324.1 117.4,328.6 118,333 118.7,337.4 119.3,341.7 119.9,346 120.6,350.2 121.2,354.4 121.8,358.5 122.5,362.5 123.1,366.5 123.7,370.5 124.4,374.3 125,378.2 125.7,382 126.3,385.7 126.9,389.4 127.6,393 128.2,396.6 128.8,400.2 129.5,403.6 130.1,407.1 130.7,410.5 131.4,413.8 132,417.1 132.6,420.4 133.3,423.6 133.9,426.8 134.5,429.9 135.2,433 135.8,436.1 136.4,439.1 137.1,442 137.7,444.9 138.3,447.8 139,450.7 139.6,453.5 140.3,456.2 140.9,458.9 141.5,461.6 142.2,464.3 142.8,466.9 143.4,469.5 144.1,472 144.7,474.5 145.3,477 146,479.4 146.6,481.8 147.2,484.2 147.9,486.5 148.5,488.8 149.1,491 149.8,493.3 150.4,495.5 151,497.6 151.7,499.8 152.3,501.9 152.9,503.9 153.6,506 154.2,508 154.8,510 155.5,511.9 156.1,513.8 156.8,515.7 157.4,517.6 158,519.4 158.7,521.2 159.3,523 159.9,524.8 160.6,526.5 161.2,528.2 161.8,529.9 162.5,531.5 163.1,533.2 163.7,534.8 164.4,536.3 165,537.9 165.6,539.4 166.3,540.9 166.9,542.4 167.5,543.9 168.2,545.3 168.8,546.7 169.4,548.1 170.1,549.5 170.7,550.8 171.4,552.1 172,553.4 172.6,554.7 173.3,556 173.9,557.2 174.5,558.4 175.2,559.6 175.8,560.8 176.4,562 177.1,563.1 177.7,564.2 178.3,565.3 179,566.4 179.6,567.5 180.2,568.6 180.9,569.6 181.5,570.6 182.1,571.6 182.8,572.6 183.4,573.5 184,574.5 184.7,575.4 185.3,576.3 185.9,577.2 186.6,578.1 187.2,579 187.9,579.8 188.5,580.6 189.1,581.5 189.8,582.3 190.4,583 191,583.8 191.7,584.6 192.3,585.3 192.9,586.1 193.6,586.8 194.2,587.5 194.8,588.2 195.5,588.8 196.1,589.5 196.7,590.2 197.4,590.8 198,591.4 198.6,592 199.3,592.6 199.9,593.2 200.5,593.8 201.2,594.4 201.8,594.9 202.5,595.5 203.1,596 203.7,596.5 204.4,597 205,597.5 205.6,598 206.3,598.5 206.9,598.9 207.5,599.4 208.2,599.8 208.8,600.3 209.4,600.7 210.1,601.1 210.7,601.5 211.3,601.9 212,602.3 212.6,602.7 213.2,603.1 213.9,603.4 214.5,603.8 215.1,604.1 215.8,604.4 216.4,604.8 217,605.1 217.7,605.4 218.3,605.7 219,606 219.6,606.3 220.2,606.5 220.9,606.8 221.5,607.1 222.1,607.3 222.8,607.6 223.4,607.8 224,608 224.7,608.3 225.3,608.5 225.9,608.7 226.6,608.9 227.2,609.1 227.8,609.3 228.5,609.5 229.1,609.6 229.7,609.8 230.4,610 231,610.1 231.6,610.3 232.3,610.4 232.9,610.6 233.6,610.7 234.2,610.9 234.8,611 235.5,611.1 236.1,611.2 236.7,611.3 237.4,611.4 238,611.5 238.6,611.6 239.3,611.7 239.9,611.8 240.5,611.9 241.2,611.9 241.8,612 242.4,612.1 243.1,612.1 243.7,612.2 244.3,612.2 245,612.3 245.6,612.3 246.2,612.4 246.9,612.4 247.5,612.4 248.1,612.4 248.8,612.5 249.4,612.5 250.1,612.5 250.7,612.5 251.3,612.5 252,612.5 252.6,612.5 253.2,612.5 253.9,612.5 254.5,612.5 255.1,612.5 255.8,612.5 256.4,612.5 257,612.4 257.7,612.4 258.3,612.4 258.9,612.4 259.6,612.3 260.2,612.3 260.8,612.2 261.5,612.2 262.1,612.2 262.7,612.1 263.4,612.1 264,612 264.7,612 265.3,611.9 265.9,611.8 266.6,611.8 267.2,611.7 267.8,611.6 268.5,611.6 269.1,611.5 269.7,611.4 270.4,611.4 271,611.3 271.6,611.2 272.3,611.1 272.9,611.1 273.5,611 274.2,610.9 274.8,610.8 275.4,610.7 276.1,610.6 276.7,610.5 277.3,610.4 278,610.3 278.6,610.3 279.2,610.2 279.9,610.1 280.5,610 281.2,609.9 281.8,609.8 282.4,609.7 283.1,609.6 283.7,609.5 284.3,609.3 285,609.2 285.6,609.1 286.2,609 286.9,608.9 287.5,608.8 288.1,608.7 288.8,608.6 289.4,608.5 290,608.4 290.7,608.3 291.3,608.1 291.9,608 292.6,607.9 293.2,607.8 293.8,607.7 294.5,607.6 295.1,607.4 295.8,607.3 296.4,607.2 297,607.1 297.7,607 298.3,606.9 298.9,606.7 299.6,606.6 300.2,606.5 300.8,606.4 301.5,606.3 302.1,606.2 302.7,606 303.4,605.9 304,605.8 304.6,605.7 305.3,605.6 305.9,605.4 306.5,605.3 307.2,605.2 307.8,605.1 308.4,605 309.1,604.9 309.7,604.8 310.3,604.6 311,604.5 311.6,604.4 312.3,604.3 312.9,604.2 313.5,604.1 314.2,604 314.8,603.8 315.4,603.7 316.1,603.6 316.7,603.5 317.3,603.4 318,603.3 318.6,603.2 319.2,603.1 319.9,603 320.5,602.9 321.1,602.8 321.8,602.7 322.4,602.6 323,602.5 323.7,602.4 324.3,602.3 324.9,602.2 325.6,602.1 326.2,602 326.9,601.9 327.5,601.8 328.1,601.7 328.8,601.6 329.4,601.5 330,601.5 330.7,601.4 331.3,601.3 331.9,601.2 332.6,601.1 333.2,601 333.8,601 334.5,600.9 335.1,600.8 335.7,600.7 336.4,600.7 337,600.6 337.6,600.5 338.3,600.5 338.9,600.4 339.5,600.3 340.2,600.3 340.8,600.2 341.4,600.1 342.1,600.1 342.7,600 343.4,600 344,599.9 344.6,599.9 345.3,599.8 345.9,599.8 346.5,599.7 347.2,599.7 347.8,599.7 348.4,599.6 349.1,599.6 349.7,599.5 350.3,599.5 351,599.5 351.6,599.5 352.2,599.4 352.9,599.4 353.5,599.4 354.1,599.4 354.8,599.3 355.4,599.3 356,599.3 356.7,599.3 357.3,599.3 358,599.3 358.6,599.3 359.2,599.3 359.9,599.3 360.5,599.3 361.1,599.3 361.8,599.3 362.4,599.3 363,599.3 363.7,599.3 364.3,599.3 364.9,599.3 365.6,599.3 366.2,599.4 366.8,599.4 367.5,599.4 368.1,599.4 368.7,599.4 369.4,599.5 370,599.5 370.6,599.5 371.3,599.6 371.9,599.6 372.5,599.6 373.2,599.7 373.8,599.7 374.5,599.8 375.1,599.8 375.7,599.9 376.4,599.9 377,600 377.6,600 378.3,600.1 378.9,600.1 379.5,600.2 380.2,600.2 380.8,600.3 381.4,600.4 382.1,600.4 382.7,600.5 383.3,600.6 384,600.6 384.6,600.7 385.2,600.8 385.9,600.9 386.5,600.9 387.1,601 387.8,601.1 388.4,601.2 389.1,601.2 389.7,601.3 390.3,601.4 391,601.5 391.6,601.6 392.2,601.7 392.9,601.8 393.5,601.9 394.1,601.9 394.8,602 395.4,602.1 396,602.2 396.7,602.3 397.3,602.4 397.9,602.5 398.6,602.6 399.2,602.7 399.8,602.8 400.5,602.9 401.1,603 401.7,603.1 402.4,603.2 403,603.3 403.6,603.4 404.3,603.5 404.9,603.6 405.6,603.7 406.2,603.9 406.8,604 407.5,604.1 408.1,604.2 408.7,604.3 409.4,604.4 410,604.5 410.6,604.6 411.3,604.7 411.9,604.9 412.5,605 413.2,605.1 413.8,605.2 414.4,605.3 415.1,605.4 415.7,605.5 416.3,605.7 417,605.8 417.6,605.9 418.2,606 418.9,606.1 419.5,606.2 420.2,606.4 420.8,606.5 421.4,606.6 422.1,606.7 422.7,606.8 423.3,606.9 424,607.1 424.6,607.2 425.2,607.3 425.9,607.4 426.5,607.5 427.1,607.7 427.8,607.8 428.4,607.9 429,608 429.7,608.1 430.3,608.2 430.9,608.4 431.6,608.5 432.2,608.6 432.8,608.7 433.5,608.8 434.1,609 434.7,609.1 435.4,609.2 436,609.3 436.7,609.4 437.3,609.5 437.9,609.7 438.6,609.8 439.2,609.9 439.8,610 440.5,610.1 441.1,610.3 441.7,610.4 442.4,610.5 443,610.6 443.6,610.7 444.3,610.8 444.9,611 445.5,611.1 446.2,611.2 446.8,611.3 447.4,611.4 448.1,611.5 448.7,611.6 449.3,611.8 450,611.9 450.6,612 451.3,612.1 451.9,612.2 452.5,612.3 453.2,612.4 453.8,612.5 454.4,612.7 455.1,612.8 455.7,612.9 456.3,613 457,613.1 457.6,613.2 458.2,613.3 458.9,613.4 459.5,613.5 460.1,613.6 460.8,613.8 461.4,613.9 462,614 462.7,614.1 463.3,614.2 463.9,614.3 464.6,614.4 465.2,614.5 465.9,614.6 466.5,614.7 467.1,614.8 467.8,614.9 468.4,615 469,615.1 469.7,615.2 470.3,615.3 470.9,615.4 471.6,615.6 472.2,615.7 472.8,615.8 473.5,615.9 474.1,616 474.7,616.1 475.4,616.2 476,616.3 476.6,616.4 477.3,616.5 477.9,616.6 478.5,616.7 479.2,616.8 479.8,616.8 480.4,616.9 481.1,617 481.7,617.1 482.4,617.2 483,617.3 483.6,617.4 484.3,617.5 484.9,617.6 485.5,617.7 486.2,617.8 486.8,617.9 487.4,618 488.1,618.1 488.7,618.2 489.3,618.3 490,618.4 490.6,618.5 491.2,618.5 491.9,618.6 492.5,618.7 493.1,618.8 493.8,618.9 494.4,619 495,619.1 495.7,619.2 496.3,619.3 497,619.3 497.6,619.4 498.2,619.5 498.9,619.6 499.5,619.7" fill="none" stroke="none" marker-start="url(#mb)" marker-mid="url(#mb)" marker-end="url(#mb)"/>
<polyline points="107.2,16.8 107.9,22.3 108.5,27.7 109.1,33 109.8,38.3 110.4,43.5 111.1,48.6 111.7,53.7 112.3,58.6 113,63.6 113.6,68.4 114.2,73.2 114.9,78 115.5,82.7 116.1,87.3 116.8,91.8 117.4,96.3 118,100.8 118.7,105.2 119.3,109.5 119.9,113.8 120.6,118 121.2,122.1 121.8,126.2 122.5,130.3 123.1,134.3 123.7,138.2 124.4,142.1 125,145.9 125.7,149.7 126.3,153.4 126.9,157.1 127.6,160.8 128.2,164.3 128.8,167.9 129.5,171.4 130.1,174.8 130.7,178.2 131.4,181.6 132,184.9 132.6,188.1 133.3,191.3 133.9,194.5 134.5,197.6 135.2,200.7 135.8,203.8 136.4,206.8 137.1,209.7 137.7,212.6 138.3,215.5 139,218.3 139.6,221.1 140.3,223.9 140.9,226.6 141.5,229.3 142.2,231.9 142.8,234.6 143.4,237.1 144.1,239.7 144.7,242.2 145.3,244.6 146,247 146.6,249.4 147.2,251.8 147.9,254.1 148.5,256.4 149.1,258.7 149.8,260.9 150.4,263.1 151,265.2 151.7,267.4 152.3,269.5 152.9,271.5 153.6,273.6 154.2,275.6 154.8,277.6 155.5,279.5 156.1,281.4 156.8,283.3 157.4,285.2 158,287 158.7,288.8 159.3,290.6 159.9,292.4 160.6,294.1 161.2,295.8 161.8,297.5 162.5,299.1 163.1,300.7 163.7,302.3 164.4,303.9 165,305.5 165.6,307 166.3,308.5 166.9,310 167.5,311.4 168.2,312.8 168.8,314.3 169.4,315.6 170.1,317 170.7,318.3 171.4,319.7 172,321 172.6,322.2 173.3,323.5 173.9,324.7 174.5,326 175.2,327.2 175.8,328.3 176.4,329.5 177.1,330.6 177.7,331.8 178.3,332.9 179,333.9 179.6,335 180.2,336 180.9,337.1 181.5,338.1 182.1,339.1 182.8,340.1 183.4,341 184,342 184.7,342.9 185.3,343.8 185.9,344.7 186.6,345.6 187.2,346.4 187.9,347.3 188.5,348.1 189.1,348.9 189.8,349.7 190.4,350.5 191,351.3 191.7,352 192.3,352.8 192.9,353.5 193.6,354.2 194.2,354.9 194.8,355.6 195.5,356.3 196.1,357 196.7,357.6 197.4,358.2 198,358.9 198.6,359.5 199.3,360.1 199.9,360.7 200.5,361.2 201.2,361.8 201.8,362.4 202.5,362.9 203.1,363.4 203.7,363.9 204.4,364.4 205,364.9 205.6,365.4 206.3,365.9 206.9,366.4 207.5,366.8 208.2,367.3 208.8,367.7 209.4,368.1 210.1,368.5 210.7,369 211.3,369.3 212,369.7 212.6,370.1 213.2,370.5 213.9,370.8 214.5,371.2 215.1,371.5 215.8,371.9 216.4,372.2 217,372.5 217.7,372.8 218.3,373.1 219,373.4 219.6,373.7 220.2,374 220.9,374.3 221.5,374.5 222.1,374.8 222.8,375 223.4,375.3 224,375.5 224.7,375.8 225.3,376 225.9,376.2 226.6,376.4 227.2,376.6 227.8,376.8 228.5,377 229.1,377.2 229.7,377.4 230.4,377.6 231,377.8 231.6,378 232.3,378.2 232.9,378.4 233.6,378.6 234.2,378.8 234.8,379 235.5,379.2 236.1,379.4 236.7,379.7 237.4,380 238,380.4 238.6,380.9 239.3,381.5 239.9,382.3 240.5,383.3 241.2,384.4 241.8,385.6 242.4,387 243.1,388.4 243.7,389.8 244.3,391.3 245,392.8 245.6,394.3 246.2,395.8 246.9,397.2 247.5,398.7 248.1,400.2 248.8,401.7 249.4,403.1 250.1,404.6 250.7,406 251.3,407.5 252,408.9 252.6,410.3 253.2,411.7 253.9,413.1 254.5,414.5 255.1,415.9 255.8,417.3 256.4,418.6 257,420 257.7,421.3 258.3,422.6 258.9,424 259.6,425.3 260.2,426.6 260.8,427.9 261.5,429.1 262.1,430.4 262.7,431.7 263.4,432.9 264,434.1 264.7,435.4 265.3,436.6 265.9,437.8 266.6,439 267.2,440.2 267.8,441.3 268.5,442.5 269.1,443.7 269.7,444.8 270.4,446 271,447.1 271.6,448.2 272.3,449.3 272.9,450.4 273.5,451.5 274.2,452.6 274.8,453.7 275.4,454.8 276.1,455.8 276.7,456.9 277.3,457.9 278,459 278.6,460 279.2,461 279.9,462 280.5,463 281.2,464 281.8,465 282.4,466 283.1,466.9 283.7,467.9 284.3,468.8 285,469.8 285.6,470.7 286.2,471.6 286.9,472.6 287.5,473.5 288.1,474.4 288.8,475.3 289.4,476.2 290,477 290.7,477.9 291.3,478.8 291.9,479.7 292.6,480.5 293.2,481.3 293.8,482.2 294.5,483 295.1,483.8 295.8,484.7 296.4,485.5 297,486.3 297.7,487.1 298.3,487.9 298.9,488.6 299.6,489.4 300.2,490.2 300.8,490.9 301.5,491.7 302.1,492.4 302.7,493.2 303.4,493.9 304,494.6 304.6,495.4 305.3,496.1 305.9,496.8 306.5,497.5 307.2,498.2 307.8,498.9 308.4,499.6 309.1,500.2 309.7,500.9 310.3,501.6 311,502.2 311.6,502.9 312.3,503.5 312.9,504.2 313.5,504.8 314.2,505.4 314.8,506 315.4,506.6 316.1,507.3 316.7,507.9 317.3,508.5 318,509 318.6,509.6 319.2,510.2 319.9,510.8 320.5,511.3 321.1,511.9 321.8,512.5 322.4,513 323,513.6 323.7,514.1 324.3,514.6 324.9,515.2 325.6,515.7 326.2,516.2 326.9,516.7 327.5,517.2 328.1,517.7 328.8,518.2 329.4,518.7 330,519.2 330.7,519.6 331.3,520.1 331.9,520.6 332.6,521 333.2,521.5 333.8,521.9 334.5,522.4 335.1,522.8 335.7,523.2 336.4,523.7 337,524.1 337.6,524.5 338.3,524.9 338.9,525.3 339.5,525.7 340.2,526.1 340.8,526.5 341.4,526.9 342.1,527.3 342.7,527.7 343.4,528 344,528.4 344.6,528.7 345.3,529.1 345.9,529.4 346.5,529.8 347.2,530.1 347.8,530.5 348.4,530.8 349.1,531.1 349.7,531.4 350.3,531.7 351,532.1 351.6,532.4 352.2,532.7 352.9,533 353.5,533.2 354.1,533.5 354.8,533.8 355.4,534.1 356,534.3 356.7,534.6 357.3,534.9 358,535.1 358.6,535.4 359.2,535.6 359.9,535.9 360.5,536.1 361.1,536.3 361.8,536.6 362.4,536.8 363,537 363.7,537.2 364.3,537.4 364.9,537.6 365.6,537.8 366.2,538 366.8,538.2 367.5,538.4 368.1,538.6 368.7,538.8 369.4,538.9 370,539.1 370.6,539.3 371.3,539.4 371.9,539.6 372.5,539.8 373.2,539.9 373.8,540.1 374.5,540.2 375.1,540.3 375.7,540.5 376.4,540.6 377,540.7 377.6,540.9 378.3,541 378.9,541.1 379.5,541.2 380.2,541.3 380.8,541.4 381.4,541.5 382.1,541.6 382.7,541.7 383.3,541.8 384,541.9 384.6,542 385.2,542.1 385.9,542.2 386.5,542.2 387.1,542.3 387.8,542.4 388.4,542.4 389.1,542.5 389.7,542.6 390.3,542.6 391,542.7 391.6,542.7 392.2,542.8 392.9,542.8 393.5,542.9 394.1,542.9 394.8,543 395.4,543 396,543 396.7,543.1 397.3,543.1 397.9,543.1 398.6,543.2 399.2,543.2 399.8,543.2 400.5,543.2 401.1,543.2 401.7,543.3 402.4,543.3 403,543.3 403.6,543.3 404.3,543.3 404.9,543.3 405.6,543.3 406.2,543.3 406.8,543.3 407.5,543.3 408.1,543.3 408.7,543.3 409.4,543.3 410,543.3 410.6,543.3 411.3,543.2 411.9,543.2 412.5,543.2 413.2,543.2 413.8,543.2 414.4,543.2 415.1,543.1 415.7,543.1 416.3,543.1 417,543.1 417.6,543 418.2,543 418.9,543 419.5,543 420.2,542.9 420.8,542.9 421.4,542.9 422.1,542.8 422.7,542.8 423.3,542.8 424,542.7 424.6,542.7 425.2,542.6 425.9,542.6 426.5,542.6 427.1,542.5 427.8,542.5 428.4,542.4 429,542.4 429.7,542.3 430.3,542.3 430.9,542.2 431.6,542.2 432.2,542.2 432.8,542.1 433.5,542.1 434.1,542 434.7,541.9 435.4,541.9 436,541.8 436.7,541.8 437.3,541.7 437.9,541.7 438.6,541.6 439.2,541.6 439.8,541.5 440.5,541.5 441.1,541.4 441.7,541.4 442.4,541.3 443,541.2 443.6,541.2 444.3,541.1 444.9,541.1 445.5,541 446.2,540.9 446.8,540.9 447.4,540.8 448.1,540.8 448.7,540.7 449.3,540.6 450,540.6 450.6,540.5 451.3,540.4 451.9,540.4 452.5,540.3 453.2,540.3 453.8,540.2 454.4,540.1 455.1,540.1 455.7,540 456.3,539.9 457,539.9 457.6,539.8 458.2,539.7 458.9,539.7 459.5,539.6 460.1,539.6 460.8,539.5 461.4,539.4 462,539.4 462.7,539.3 463.3,539.2 463.9,539.2 464.6,539.1 465.2,539 465.9,539 466.5,538.9 467.1,538.8 467.8,538.8 468.4,538.7 469,538.6 469.7,538.6 470.3,538.5 470.9,538.4 471.6,538.4 472.2,538.3 472.8,538.2 473.5,538.2 474.1,538.1 474.7,538 475.4,538 476,537.9 476.6,537.8 477.3,537.8 477.9,537.7 478.5,537.6 479.2,537.6 479.8,537.5 480.4,537.4 481.1,537.4 481.7,537.3 482.4,537.2 483,537.2 483.6,537.1 484.3,537 484.9,537 485.5,536.9 486.2,536.8 486.8,536.8 487.4,536.7 488.1,536.6 488.7,536.6 489.3,536.5 490,536.5 490.6,536.4 491.2,536.3 491.9,536.3 492.5,536.2 493.1,536.1 493.8,536.1 494.4,536 495,535.9 495.7,535.9 496.3,535.8 497,535.7 497.6,535.7 498.2,535.6 498.9,535.6 499.5,535.5" fill="none" stroke="none" marker-start="url(#mb)" marker-mid="url(#mb)" marker-end="url(#mb)"/>
<polyline points="148.5,17.7 149.1,19.9 149.8,22.1 150.4,24.3 151,26.4 151.7,28.6 152.3,30.6 152.9,32.7 153.6,34.7 154.2,36.7 154.8,38.7 155.5,40.6 156.1,42.5 156.8,44.4 157.4,46.2 158,48 158.7,49.8 159.3,51.6 159.9,53.3 160.6,55.1 161.2,56.7 161.8,58.4 162.5,60 163.1,61.7 163.7,63.2 164.4,64.8 165,66.3 165.6,67.9 166.3,69.4 166.9,70.8 167.5,72.3 168.2,73.7 168.8,75.1 169.4,76.5 170.1,77.8 170.7,79.2 171.4,83.2 172,87.4 172.6,91.5 173.3,95.6 173.9,99.7 174.5,103.7 175.2,107.7 175.8,111.7 176.4,115.6 177.1,119.5 177.7,123.4 178.3,127.2 179,131 179.6,134.7 180.2,138.5 180.9,142.2 181.5,145.8 182.1,149.5 182.8,153.1 183.4,156.6 184,160.2 184.7,163.7 185.3,167.2 185.9,170.6 186.6,174 187.2,177.4 187.9,180.8 188.5,184.1 189.1,187.4 189.8,190.7 190.4,193.9 191,197.1 191.7,200.3 192.3,203.5 192.9,206.6 193.6,209.7 194.2,212.8 194.8,215.9 195.5,218.9 196.1,221.9 196.7,224.9 197.4,227.9 198,230.8 198.6,233.7 199.3,236.6 199.9,239.4 200.5,242.3 201.2,245.1 201.8,247.8 202.5,250.6 203.1,253.3 203.7,256.1 204.4,258.8 205,261.4 205.6,264.1 206.3,266.7 206.9,269.3 207.5,271.9 208.2,274.4 208.8,277 209.4,279.5 210.1,282 210.7,284.4 211.3,286.9 212,289.3 212.6,291.7 213.2,294.1 213.9,296.5 214.5,298.9 215.1,301.2 215.8,303.5 216.4,305.8 217,308.1 217.7,310.3 218.3,312.5 219,314.8 219.6,317 220.2,319.1 220.9,321.3 221.5,323.4 222.1,325.6 222.8,327.7 223.4,329.7 224,331.8 224.7,333.9 225.3,335.9 225.9,337.9 226.6,339.9 227.2,341.9 227.8,343.8 228.5,345.8 229.1,347.7 229.7,349.6 230.4,351.5 231,353.4 231.6,355.2 232.3,357 232.9,358.8 233.6,360.6 234.2,362.4 234.8,364.1 235.5,365.8 236.1,367.4 236.7,369 237.4,370.5 238,372 238.6,373.3 239.3,374.5 239.9,375.5 240.5,376.2 241.2,376.9 241.8,377.3 242.4,377.7 243.1,377.9 243.7,378.2 244.3,378.3 245,378.5 245.6,378.6 246.2,378.7 246.9,378.8 247.5,378.9 248.1,379 248.8,379 249.4,379.1 250.1,379.1 250.7,379.1 251.3,379.2 252,379.2 252.6,379.2 253.2,379.2 253.9,379.2 254.5,379.2 255.1,379.2 255.8,379.2 256.4,379.2 257,379.2 257.7,379.1 258.3,379.1 258.9,379.1 259.6,379.1 260.2,379 260.8,379 261.5,379 262.1,378.9 262.7,378.9 263.4,378.8 264,378.8 264.7,378.7 265.3,378.7 265.9,378.6 266.6,378.5 267.2,378.5 267.8,378.4 268.5,378.3 269.1,378.3 269.7,378.2 270.4,378.1 271,378 271.6,378 272.3,377.9 272.9,377.8 273.5,377.7 274.2,377.6 274.8,377.5 275.4,377.4 276.1,377.3 276.7,377.3 277.3,377.2 278,377.1 278.6,377 279.2,376.9 279.9,376.8 280.5,376.7 281.2,376.6 281.8,376.5 282.4,376.3 283.1,376.2 283.7,376.1 284.3,376 285,375.9 285.6,375.8 286.2,375.7 286.9,375.6 287.5,375.5 288.1,375.3 288.8,375.2 289.4,375.1 290,375 290.7,374.9 291.3,374.8 291.9,374.6 292.6,374.5 293.2,374.4 293.8,374.3 294.5,374.2 295.1,374 295.8,373.9 296.4,373.8 297,373.7 297.7,373.5 298.3,373.4 298.9,373.3 299.6,373.2 300.2,373 300.8,372.9 301.5,372.8 302.1,372.7 302.7,372.5 303.4,372.4 304,372.3 304.6,372.2 305.3,372 305.9,371.9 306.5,371.8 307.2,371.7 307.8,371.5 308.4,371.4 309.1,371.3 309.7,371.2 310.3,371.1 311,370.9 311.6,370.8 312.3,370.7 312.9,370.6 313.5,370.4 314.2,370.3 314.8,370.2 315.4,370.1 316.1,370 316.7,369.9 317.3,369.7 318,369.6 318.6,369.5 319.2,369.4 319.9,369.3 320.5,369.2 321.1,369 321.8,368.9 322.4,368.8 323,368.7 323.7,368.6 324.3,368.5 324.9,368.4 325.6,368.3 326.2,368.2 326.9,368.1 327.5,368 328.1,367.9 328.8,367.8 329.4,367.7 330,367.6 330.7,367.5 331.3,367.4 331.9,367.3 332.6,367.2 333.2,367.1 333.8,367 334.5,366.9 335.1,366.8 335.7,366.8 336.4,366.7 337,366.6 337.6,366.5 338.3,366.4 338.9,366.4 339.5,366.3 340.2,366.2 340.8,366.1 341.4,366.1 342.1,366 342.7,365.9 343.4,365.9 344,365.8 344.6,365.7 345.3,365.7 345.9,365.6 346.5,365.6 347.2,365.5 347.8,365.5 348.4,365.4 349.1,365.4 349.7,365.3 350.3,365.3 351,365.2 351.6,365.2 352.2,365.1 352.9,365.1 353.5,365.1 354.1,365 354.8,365 355.4,365 356,365 356.7,364.9 357.3,364.9 358,364.9 358.6,364.9 359.2,364.9 359.9,364.8 360.5,364.8 361.1,364.8 361.8,364.8 362.4,364.8 363,364.8 363.7,364.8 364.3,364.8 364.9,364.8 365.6,364.8 366.2,364.8 366.8,364.8 367.5,364.9 368.1,364.9 368.7,364.9 369.4,364.9 370,364.9 370.6,365 371.3,365 371.9,365 372.5,365 373.2,365.1 373.8,365.1 374.5,365.1 375.1,365.2 375.7,365.2 376.4,365.3 377,365.3 377.6,365.4 378.3,365.4 378.9,365.5 379.5,365.5 380.2,365.6 380.8,365.6 381.4,365.7 382.1,365.7 382.7,365.8 383.3,365.9 384,365.9 384.6,366 385.2,366.1 385.9,366.2 386.5,366.2 387.1,366.3 387.8,366.4 388.4,366.5 389.1,366.5 389.7,366.6 390.3,366.7 391,366.8 391.6,366.9 392.2,367 392.9,367 393.5,367.1 394.1,367.2 394.8,367.3 395.4,367.4 396,367.5 396.7,367.6 397.3,367.7 397.9,367.8 398.6,367.9 399.2,368 399.8,368.1 400.5,368.2 401.1,368.3 401.7,368.4 402.4,368.5 403,368.6 403.6,368.8 404.3,368.9 404.9,369 405.6,369.1 406.2,369.2 406.8,369.3 407.5,369.4 408.1,369.5 408.7,369.7 409.4,369.8 410,369.9 410.6,370 411.3,370.1 411.9,370.2 412.5,370.4 413.2,370.5 413.8,370.6 414.4,370.7 415.1,370.9 415.7,371 416.3,371.1 417,371.2 417.6,371.3 418.2,371.5 418.9,371.6 419.5,371.7 420.2,371.8 420.8,372 421.4,372.1 422.1,372.2 422.7,372.3 423.3,372.5 424,372.6 424.6,372.7 425.2,372.9 425.9,373 426.5,373.1 427.1,373.2 427.8,373.4 428.4,373.5 429,373.6 429.7,373.7 430.3,373.9 430.9,374 431.6,374.1 432.2,374.3 432.8,374.4 433.5,374.5 434.1,374.6 434.7,374.8 435.4,374.9 436,375 436.7,375.2 437.3,375.3 437.9,375.4 438.6,375.5 439.2,375.7 439.8,375.8 440.5,375.9 441.1,376 441.7,376.2 442.4,376.3 443,376.4 443.6,376.6 444.3,376.7 444.9,376.8 445.5,376.9 446.2,377.1 446.8,377.2 447.4,377.3 448.1,377.4 448.7,377.6 449.3,377.7 450,377.8 450.6,377.9 451.3,378 451.9,378.2 452.5,378.3 453.2,378.4 453.8,378.5 454.4,378.7 455.1,378.8 455.7,378.9 456.3,379 457,379.1 457.6,379.3 458.2,379.4 458.9,379.5 459.5,379.6 460.1,379.7 460.8,379.9 461.4,380 462,380.1 462.7,380.2 463.3,380.3 463.9,380.5 464.6,380.6 465.2,380.7 465.9,380.8 466.5,380.9 467.1,381 467.8,381.1 468.4,381.3 469,381.4 469.7,381.5 470.3,381.6 470.9,381.7 471.6,381.8 472.2,381.9 472.8,382.1 473.5,382.2 474.1,382.3 474.7,382.4 475.4,382.5 476,382.6 476.6,382.7 477.3,382.8 477.9,382.9 478.5,383 479.2,383.1 479.8,383.3 480.4,383.4 481.1,383.5 481.7,383.6 482.4,383.7 483,383.8 483.6,383.9 484.3,384 484.9,384.1 485.5,384.2 486.2,384.3 486.8,384.4 487.4,384.5 488.1,384.6 488.7,384.7 489.3,384.8 490,384.9 490.6,385 491.2,385.1 491.9,385.2 492.5,385.3 493.1,385.4 493.8,385.5 494.4,385.6 495,385.7 495.7,385.8 496.3,385.9 497,386 497.6,386.1 498.2,386.2 498.9,386.3 499.5,386.4" fill="none" stroke="none" marker-start="url(#mb)" marker-mid="url(#mb)" marker-end="url(#mb)"/>
<polyline points="162.5,20.8 163.1,25.5 163.7,30.2 164.4,34.8 165,39.4 165.6,44 166.3,48.5 166.9,53 167.5,57.4 168.2,61.8 168.8,66.2 169.4,70.5 170.1,74.8 170.7,78.9 171.4,80.5 172,81.7 172.6,83 173.3,84.3 173.9,85.5 174.5,86.7 175.2,87.9 175.8,89.1 176.4,90.2 177.1,91.4 177.7,92.5 178.3,93.6 179,94.6 179.6,95.7 180.2,96.7 180.9,97.8 181.5,98.8 182.1,99.8 182.8,100.7 183.4,101.7 184,102.6 184.7,103.5 185.3,104.5 185.9,105.3 186.6,106.2 187.2,107.1 187.9,107.9 188.5,108.7 189.1,109.6 189.8,110.4 190.4,111.1 191,111.9 191.7,112.7 192.3,113.4 192.9,114.1 193.6,114.9 194.2,115.6 194.8,116.2 195.5,116.9 196.1,117.6 196.7,118.2 197.4,118.9 198,119.5 198.6,120.1 199.3,120.7 199.9,121.3 200.5,121.9 201.2,122.4 201.8,123 202.5,123.5 203.1,124.1 203.7,124.6 204.4,125.1 205,125.6 205.6,126.1 206.3,126.6 206.9,127 207.5,127.5 208.2,127.9 208.8,128.4 209.4,128.8 210.1,129.2 210.7,129.6 211.3,130 212,130.4 212.6,130.8 213.2,131.2 213.9,131.6 214.5,131.9 215.1,132.3 215.8,132.6 216.4,132.9 217,133.3 217.7,133.6 218.3,133.9 219,134.2 219.6,134.5 220.2,134.8 220.9,135.1 221.5,135.3 222.1,135.6 222.8,135.9 223.4,136.1 224,136.4 224.7,136.6 225.3,136.8 225.9,137.1 226.6,137.3 227.2,137.5 227.8,137.7 228.5,137.9 229.1,138.2 229.7,138.4 230.4,138.6 231,138.8 231.6,139 232.3,139.2 232.9,139.4 233.6,139.6 234.2,139.8 234.8,140 235.5,140.2 236.1,140.5 236.7,140.8 237.4,141.1 238,141.5 238.6,142 239.3,142.6 239.9,143.4 240.5,144.4 241.2,145.5 241.8,146.8 242.4,148.2 243.1,149.6 243.7,151 244.3,152.5 245,154 245.6,155.5 246.2,157 246.9,158.5 247.5,160 248.1,161.5 248.8,163 249.4,164.5 250.1,166 250.7,167.4 251.3,168.9 252,170.3 252.6,171.8 253.2,173.2 253.9,174.6 254.5,176 255.1,177.4 255.8,178.8 256.4,180.2 257,181.5 257.7,182.9 258.3,184.2 258.9,185.6 259.6,186.9 260.2,188.2 260.8,189.5 261.5,190.8 262.1,192.1 262.7,193.4 263.4,194.6 264,195.9 264.7,197.1 265.3,198.4 265.9,199.6 266.6,200.8 267.2,202 267.8,203.2 268.5,204.4 269.1,205.6 269.7,206.8 270.4,207.9 271,209.1 271.6,210.2 272.3,211.4 272.9,212.5 273.5,213.6 274.2,214.7 274.8,215.8 275.4,216.9 276.1,218 276.7,219 277.3,220.1 278,221.2 278.6,222.2 279.2,223.3 279.9,224.3 280.5,225.3 281.2,226.3 281.8,227.3 282.4,228.3 283.1,229.3 283.7,230.3 284.3,231.3 285,232.2 285.6,233.2 286.2,234.2 286.9,235.1 287.5,236 288.1,237 288.8,237.9 289.4,238.8 290,239.7 290.7,240.6 291.3,241.5 291.9,242.4 292.6,243.3 293.2,244.1 293.8,245 294.5,245.8 295.1,246.7 295.8,247.5 296.4,248.4 297,249.2 297.7,250 298.3,250.8 298.9,251.6 299.6,252.4 300.2,253.2 300.8,254 301.5,254.8 302.1,255.6 302.7,256.3 303.4,257.1 304,257.9 304.6,258.6 305.3,259.3 305.9,260.1 306.5,260.8 307.2,261.5 307.8,262.2 308.4,263 309.1,263.7 309.7,264.4 310.3,265.1 311,265.7 311.6,266.4 312.3,267.1 312.9,267.8 313.5,268.4 314.2,269.1 314.8,269.7 315.4,270.4 316.1,271 316.7,271.6 317.3,272.3 318,272.9 318.6,273.5 319.2,274.1 319.9,274.7 320.5,275.3 321.1,275.9 321.8,276.5 322.4,277.1 323,277.6 323.7,278.2 324.3,278.8 324.9,279.3 325.6,279.9 326.2,280.4 326.9,280.9 327.5,281.5 328.1,282 328.8,282.5 329.4,283.1 330,283.6 330.7,284.1 331.3,284.6 331.9,285.1 332.6,285.6 333.2,286 333.8,286.5 334.5,287 335.1,287.5 335.7,287.9 336.4,288.4 337,288.8 337.6,289.3 338.3,289.7 338.9,290.2 339.5,290.6 340.2,291 340.8,291.5 341.4,291.9 342.1,292.3 342.7,292.7 343.4,293.1 344,293.5 344.6,293.9 345.3,294.3 345.9,294.6 346.5,295 347.2,295.4 347.8,295.8 348.4,296.1 349.1,296.5 349.7,296.8 350.3,297.2 351,297.5 351.6,297.8 352.2,298.2 352.9,298.5 353.5,298.8 354.1,299.1 354.8,299.4 355.4,299.7 356,300 356.7,300.3 357.3,300.6 358,300.9 358.6,301.2 359.2,301.5 359.9,301.7 360.5,302 361.1,302.3 361.8,302.5 362.4,302.8 363,303 363.7,303.3 364.3,303.5 364.9,303.7 365.6,304 366.2,304.2 366.8,304.4 367.5,304.6 368.1,304.8 368.7,305.1 369.4,305.3 370,305.5 370.6,305.7 371.3,305.8 371.9,306 372.5,306.2 373.2,306.4 373.8,306.6 374.5,306.7 375.1,306.9 375.7,307.1 376.4,307.2 377,307.4 377.6,307.5 378.3,307.7 378.9,307.8 379.5,307.9 380.2,308.1 380.8,308.2 381.4,308.3 382.1,308.4 382.7,308.6 383.3,308.7 384,308.8 384.6,308.9 385.2,309 385.9,309.1 386.5,309.2 387.1,309.3 387.8,309.4 388.4,309.5 389.1,309.5 389.7,309.6 390.3,309.7 391,309.8 391.6,309.9 392.2,309.9 392.9,310 393.5,310 394.1,310.1 394.8,310.2 395.4,310.2 396,310.3 396.7,310.3 397.3,310.4 397.9,310.4 398.6,310.4 399.2,310.5 399.8,310.5 400.5,310.6 401.1,310.6 401.7,310.6 402.4,310.6 403,310.7 403.6,310.7 404.3,310.7 404.9,310.7 405.6,310.7 406.2,310.7 406.8,310.8 407.5,310.8 408.1,310.8 408.7,310.8 409.4,310.8 410,310.8 410.6,310.8 411.3,310.8 411.9,310.8 412.5,310.8 413.2,310.8 413.8,310.8 414.4,310.7 415.1,310.7 415.7,310.7 416.3,310.7 417,310.7 417.6,310.7 418.2,310.6 418.9,310.6 419.5,310.6 420.2,310.6 420.8,310.6 421.4,310.5 422.1,310.5 422.7,310.5 423.3,310.4 424,310.4 424.6,310.4 425.2,310.3 425.9,310.3 426.5,310.3 427.1,310.2 427.8,310.2 428.4,310.2 429,310.1 429.7,310.1 430.3,310 430.9,310 431.6,310 432.2,309.9 432.8,309.9 433.5,309.8 434.1,309.8 434.7,309.7 435.4,309.7 436,309.6 436.7,309.6 437.3,309.5 437.9,309.5 438.6,309.4 439.2,309.4 439.8,309.3 440.5,309.3 441.1,309.2 441.7,309.2 442.4,309.1 443,309.1 443.6,309 444.3,309 444.9,308.9 445.5,308.9 446.2,308.8 446.8,308.7 447.4,308.7 448.1,308.6 448.7,308.6 449.3,308.5 450,308.4 450.6,308.4 451.3,308.3 451.9,308.3 452.5,308.2 453.2,308.1 453.8,308.1 454.4,308 455.1,308 455.7,307.9 456.3,307.8 457,307.8 457.6,307.7 458.2,307.6 458.9,307.6 459.5,307.5 460.1,307.5 460.8,307.4 461.4,307.3 462,307.3 462.7,307.2 463.3,307.1 463.9,307.1 464.6,307 465.2,306.9 465.9,306.9 466.5,306.8 467.1,306.8 467.8,306.7 468.4,306.6 469,306.6 469.7,306.5 470.3,306.4 470.9,306.4 471.6,306.3 472.2,306.2 472.8,306.2 473.5,306.1 474.1,306 474.7,306 475.4,305.9 476,305.8 476.6,305.8 477.3,305.7 477.9,305.6 478.5,305.6 479.2,305.5 479.8,305.4 480.4,305.4 481.1,305.3 481.7,305.3 482.4,305.2 483,305.1 483.6,305.1 484.3,305 484.9,304.9 485.5,304.9 486.2,304.8 486.8,304.7 487.4,304.7 488.1,304.6 488.7,304.5 489.3,304.5 490,304.4 490.6,304.3 491.2,304.3 491.9,304.2 492.5,304.2 493.1,304.1 493.8,304 494.4,304 495,303.9 495.7,303.8 496.3,303.8 497,303.7 497.6,303.6 498.2,303.6 498.9,303.5 499.5,303.5" fill="none" stroke="none" marker-start="url(#mb)" marker-mid="url(#mb)" marker-end="url(#mb)"/>
<polyline points="203.7,16.7 204.4,19.4 205,22.1 205.6,24.7 206.3,27.4 206.9,30 207.5,32.5 208.2,35.1 208.8,37.6 209.4,40.2 210.1,42.7 210.7,45.1 211.3,47.6 212,50 212.6,52.5 213.2,54.8 213.9,57.2 214.5,59.6 215.1,61.9 215.8,64.2 216.4,66.5 217,68.8 217.7,71.1 218.3,73.3 219,75.5 219.6,77.7 220.2,79.9 220.9,82.1 221.5,84.2 222.1,86.4 222.8,88.5 223.4,90.6 224,92.7 224.7,94.7 225.3,96.8 225.9,98.8 226.6,100.8 227.2,102.8 227.8,104.7 228.5,106.7 229.1,108.6 229.7,110.5 230.4,112.4 231,114.3 231.6,116.2 232.3,118 232.9,119.8 233.6,121.6 234.2,123.4 234.8,125.1 235.5,126.8 236.1,128.5 236.7,130.1 237.4,131.6 238,133.1 238.6,134.4 239.3,135.6 239.9,136.6 240.5,137.4 241.2,138 241.8,138.5 242.4,138.9 243.1,139.2 243.7,139.4 244.3,139.6 245,139.7 245.6,139.9 246.2,140 246.9,140.1 247.5,140.2 248.1,140.3 248.8,140.3 249.4,140.4 250.1,140.5 250.7,140.5 251.3,140.6 252,140.6 252.6,140.6 253.2,140.7 253.9,140.7 254.5,140.7 255.1,140.7 255.8,140.7 256.4,140.7 257,140.7 257.7,140.7 258.3,140.7 258.9,140.7 259.6,140.7 260.2,140.7 260.8,140.7 261.5,140.6 262.1,140.6 262.7,140.6 263.4,140.6 264,140.5 264.7,140.5 265.3,140.4 265.9,140.4 266.6,140.4 267.2,140.3 267.8,140.3 268.5,140.2 269.1,140.2 269.7,140.1 270.4,140.1 271,140 271.6,140 272.3,139.9 272.9,139.8 273.5,139.8 274.2,139.7 274.8,139.6 275.4,139.6 276.1,139.5 276.7,139.4 277.3,139.3 278,139.3 278.6,139.2 279.2,139.1 279.9,139 280.5,139 281.2,138.9 281.8,138.8 282.4,138.7 283.1,138.6 283.7,138.5 284.3,138.5 285,138.4 285.6,138.3 286.2,138.2 286.9,138.1 287.5,138 288.1,137.9 288.8,137.8 289.4,137.7 290,137.6 290.7,137.5 291.3,137.5 291.9,137.4 292.6,137.3 293.2,137.2 293.8,137.1 294.5,137 295.1,136.9 295.8,136.8 296.4,136.7 297,136.6 297.7,136.5 298.3,136.4 298.9,136.3 299.6,136.2 300.2,136.1 300.8,136 301.5,135.9 302.1,135.8 302.7,135.7 303.4,135.6 304,135.5 304.6,135.4 305.3,135.3 305.9,135.2 306.5,135.1 307.2,135 307.8,134.9 308.4,134.8 309.1,134.7 309.7,134.6 310.3,134.5 311,134.4 311.6,134.4 312.3,134.3 312.9,134.2 313.5,134.1 314.2,134 314.8,133.9 315.4,133.8 316.1,133.7 316.7,133.6 317.3,133.5 318,133.4 318.6,133.4 319.2,133.3 319.9,133.2 320.5,133.1 321.1,133 321.8,132.9 322.4,132.9 323,132.8 323.7,132.7 324.3,132.6 324.9,132.6 325.6,132.5 326.2,132.4 326.9,132.3 327.5,132.3 328.1,132.2 328.8,132.1 329.4,132 330,132 330.7,131.9 331.3,131.9 331.9,131.8 332.6,131.7 333.2,131.7 333.8,131.6 334.5,131.6 335.1,131.5 335.7,131.4 336.4,131.4 337,131.3 337.6,131.3 338.3,131.2 338.9,131.2 339.5,131.2 340.2,131.1 340.8,131.1 341.4,131 342.1,131 342.7,131 343.4,130.9 344,130.9 344.6,130.9 345.3,130.8 345.9,130.8 346.5,130.8 347.2,130.8 347.8,130.7 348.4,130.7 349.1,130.7 349.7,130.7 350.3,130.7 351,130.7 351.6,130.7 352.2,130.7 352.9,130.6 353.5,130.6 354.1,130.6 354.8,130.6 355.4,130.6 356,130.7 356.7,130.7 357.3,130.7 358,130.7 358.6,130.7 359.2,130.7 359.9,130.7 360.5,130.7 361.1,130.8 361.8,130.8 362.4,130.8 363,130.8 363.7,130.9 364.3,130.9 364.9,130.9 365.6,131 366.2,131 366.8,131 367.5,131.1 368.1,131.1 368.7,131.2 369.4,131.2 370,131.3 370.6,131.3 371.3,131.4 371.9,131.4 372.5,131.5 373.2,131.6 373.8,131.6 374.5,131.7 375.1,131.7 375.7,131.8 376.4,131.9 377,131.9 377.6,132 378.3,132.1 378.9,132.2 379.5,132.2 380.2,132.3 380.8,132.4 381.4,132.5 382.1,132.6 382.7,132.6 383.3,132.7 384,132.8 384.6,132.9 385.2,133 385.9,133.1 386.5,133.2 387.1,133.3 387.8,133.4 388.4,133.5 389.1,133.6 389.7,133.7 390.3,133.8 391,133.9 391.6,134 392.2,134.1 392.9,134.2 393.5,134.3 394.1,134.4 394.8,134.5 395.4,134.6 396,134.7 396.7,134.9 397.3,135 397.9,135.1 398.6,135.2 399.2,135.3 399.8,135.4 400.5,135.5 401.1,135.7 401.7,135.8 402.4,135.9 403,136 403.6,136.2 404.3,136.3 404.9,136.4 405.6,136.5 406.2,136.6 406.8,136.8 407.5,136.9 408.1,137 408.7,137.1 409.4,137.3 410,137.4 410.6,137.5 411.3,137.7 411.9,137.8 412.5,137.9 413.2,138 413.8,138.2 414.4,138.3 415.1,138.4 415.7,138.6 416.3,138.7 417,138.8 417.6,139 418.2,139.1 418.9,139.2 419.5,139.4 420.2,139.5 420.8,139.6 421.4,139.8 422.1,139.9 422.7,140 423.3,140.2 424,140.3 424.6,140.4 425.2,140.6 425.9,140.7 426.5,140.8 427.1,141 427.8,141.1 428.4,141.2 429,141.4 429.7,141.5 430.3,141.6 430.9,141.8 431.6,141.9 432.2,142 432.8,142.2 433.5,142.3 434.1,142.4 434.7,142.6 435.4,142.7 436,142.8 436.7,143 437.3,143.1 437.9,143.2 438.6,143.3 439.2,143.5 439.8,143.6 440.5,143.7 441.1,143.9 441.7,144 442.4,144.1 443,144.3 443.6,144.4 444.3,144.5 444.9,144.7 445.5,144.8 446.2,144.9 446.8,145 447.4,145.2 448.1,145.3 448.7,145.4 449.3,145.5 450,145.7 450.6,145.8 451.3,145.9 451.9,146.1 452.5,146.2 453.2,146.3 453.8,146.4 454.4,146.6 455.1,146.7 455.7,146.8 456.3,146.9 457,147 457.6,147.2 458.2,147.3 458.9,147.4 459.5,147.5 460.1,147.7 460.8,147.8 461.4,147.9 462,148 462.7,148.1 463.3,148.3 463.9,148.4 464.6,148.5 465.2,148.6 465.9,148.7 466.5,148.8 467.1,149 467.8,149.1 468.4,149.2 469,149.3 469.7,149.4 470.3,149.5 470.9,149.6 471.6,149.8 472.2,149.9 472.8,150 473.5,150.1 474.1,150.2 474.7,150.3 475.4,150.4 476,150.5 476.6,150.7 477.3,150.8 477.9,150.9 478.5,151 479.2,151.1 479.8,151.2 480.4,151.3 481.1,151.4 481.7,151.5 482.4,151.6 483,151.7 483.6,151.8 484.3,151.9 484.9,152.1 485.5,152.2 486.2,152.3 486.8,152.4 487.4,152.5 488.1,152.6 488.7,152.7 489.3,152.8 490,152.9 490.6,153 491.2,153.1 491.9,153.2 492.5,153.3 493.1,153.4 493.8,153.5 494.4,153.6 495,153.7 495.7,153.8 496.3,153.9 497,154 497.6,154.1 498.2,154.1 498.9,154.2 499.5,154.3" fill="none" stroke="none" marker-start="url(#mb)" marker-mid="url(#mb)" marker-end="url(#mb)"/>
<polyline points="298.3,17.4 298.9,18.2 299.6,19 300.2,19.8 300.8,20.5 301.5,21.3 302.1,22.1 302.7,22.8 303.4,23.6 304,24.3 304.6,25.1 305.3,25.8 305.9,26.6 306.5,27.3 307.2,28 307.8,28.7 308.4,29.4 309.1,30.1 309.7,30.8 310.3,31.5 311,32.1 311.6,32.8 312.3,33.5 312.9,34.1 313.5,34.8 314.2,35.4 314.8,36.1 315.4,36.7 316.1,37.3 316.7,38 317.3,38.6 318,39.2 318.6,39.8 319.2,40.4 319.9,41 320.5,41.6 321.1,42.2 321.8,42.7 322.4,43.3 323,43.9 323.7,44.4 324.3,45 324.9,45.5 325.6,46.1 326.2,46.6 326.9,47.1 327.5,47.6 328.1,48.2 328.8,48.7 329.4,49.2 330,49.7 330.7,50.2 331.3,50.7 331.9,51.2 332.6,51.6 333.2,52.1 333.8,52.6 334.5,53 335.1,53.5 335.7,54 336.4,54.4 337,54.8 337.6,55.3 338.3,55.7 338.9,56.1 339.5,56.6 340.2,57 340.8,57.4 341.4,57.8 342.1,58.2 342.7,58.6 343.4,59 344,59.4 344.6,59.7 345.3,60.1 345.9,60.5 346.5,60.8 347.2,61.2 347.8,61.6 348.4,61.9 349.1,62.2 349.7,62.6 350.3,62.9 351,63.2 351.6,63.6 352.2,63.9 352.9,64.2 353.5,64.5 354.1,64.8 354.8,65.1 355.4,65.4 356,65.7 356.7,66 357.3,66.3 358,66.5 358.6,66.8 359.2,67.1 359.9,67.3 360.5,67.6 361.1,67.8 361.8,68.1 362.4,68.3 363,68.6 363.7,68.8 364.3,69 364.9,69.2 365.6,69.5 366.2,69.7 366.8,69.9 367.5,70.1 368.1,70.3 368.7,70.5 369.4,70.7 370,70.9 370.6,71.1 371.3,71.3 371.9,71.4 372.5,71.6 373.2,71.8 373.8,71.9 374.5,72.1 375.1,72.3 375.7,72.4 376.4,72.6 377,72.7 377.6,72.9 378.3,73 378.9,73.1 379.5,73.3 380.2,73.4 380.8,73.5 381.4,73.6 382.1,73.8 382.7,73.9 383.3,74 384,74.1 384.6,74.2 385.2,74.3 385.9,74.4 386.5,74.5 387.1,74.6 387.8,74.7 388.4,74.8 389.1,74.8 389.7,74.9 390.3,75 391,75.1 391.6,75.1 392.2,75.2 392.9,75.3 393.5,75.3 394.1,75.4 394.8,75.4 395.4,75.5 396,75.6 396.7,75.6 397.3,75.7 397.9,75.7 398.6,75.7 399.2,75.8 399.8,75.8 400.5,75.9 401.1,75.9 401.7,75.9 402.4,76 403,76 403.6,76 404.3,76 404.9,76.1 405.6,76.1 406.2,76.1 406.8,76.1 407.5,76.1 408.1,76.1 408.7,76.1 409.4,76.2 410,76.2 410.6,76.2 411.3,76.2 411.9,76.2 412.5,76.2 413.2,76.2 413.8,76.2 414.4,76.2 415.1,76.2 415.7,76.2 416.3,76.1 417,76.1 417.6,76.1 418.2,76.1 418.9,76.1 419.5,76.1 420.2,76.1 420.8,76.1 421.4,76 422.1,76 422.7,76 423.3,76 424,76 424.6,75.9 425.2,75.9 425.9,75.9 426.5,75.9 427.1,75.8 427.8,75.8 428.4,75.8 429,75.7 429.7,75.7 430.3,75.7 430.9,75.6 431.6,75.6 432.2,75.6 432.8,75.5 433.5,75.5 434.1,75.5 434.7,75.4 435.4,75.4 436,75.4 436.7,75.3 437.3,75.3 437.9,75.2 438.6,75.2 439.2,75.2 439.8,75.1 440.5,75.1 441.1,75 441.7,75 442.4,74.9 443,74.9 443.6,74.9 444.3,74.8 444.9,74.8 445.5,74.7 446.2,74.7 446.8,74.6 447.4,74.6 448.1,74.5 448.7,74.5 449.3,74.4 450,74.4 450.6,74.3 451.3,74.3 451.9,74.2 452.5,74.2 453.2,74.1 453.8,74.1 454.4,74 455.1,74 455.7,73.9 456.3,73.9 457,73.8 457.6,73.8 458.2,73.7 458.9,73.7 459.5,73.6 460.1,73.6 460.8,73.5 461.4,73.5 462,73.4 462.7,73.3 463.3,73.3 463.9,73.2 464.6,73.2 465.2,73.1 465.9,73.1 466.5,73 467.1,73 467.8,72.9 468.4,72.9 469,72.8 469.7,72.7 470.3,72.7 470.9,72.6 471.6,72.6 472.2,72.5 472.8,72.5 473.5,72.4 474.1,72.4 474.7,72.3 475.4,72.2 476,72.2 476.6,72.1 477.3,72.1 477.9,72 478.5,72 479.2,71.9 479.8,71.9 480.4,71.8 481.1,71.7 481.7,71.7 482.4,71.6 483,71.6 483.6,71.5 484.3,71.5 484.9,71.4 485.5,71.4 486.2,71.3 486.8,71.2 487.4,71.2 488.1,71.1 488.7,71.1 489.3,71 490,71 490.6,70.9 491.2,70.9 491.9,70.8 492.5,70.7 493.1,70.7 493.8,70.6 494.4,70.6 495,70.5 495.7,70.5 496.3,70.4 497,70.4 497.6,70.3 498.2,70.2 498.9,70.2 499.5,70.1" fill="none" stroke="none" marker-start="url(#mb)" marker-mid="url(#mb)" marker-end="url(#mb)"/>
<polyline points="85.7,21.5 86.3,30 86.9,38.4 87.6,46.6 88.2,54.8 88.8,62.8 89.5,70.8 90.1,78.7 90.7,86.4 91.4,94.1 92,101.7 92.6,109.2 93.3,116.6 93.9,123.9 94.6,131.1 95.2,138.2 95.8,145.3 96.5,152.2 97.1,159.1 97.7,165.8 98.4,172.5 99,179.1 99.6,185.7 100.3,192.1 100.9,198.5 101.5,204.8 102.2,211 102.8,217.1 103.4,223.1 104.1,229.1 104.7,235 105.3,240.8 106,246.6 106.6,252.3 107.2,257.9 107.9,263.4 108.5,268.9 109.1,274.3 109.8,279.6 110.4,284.8 111.1,290 111.7,295.2 112.3,300.2 113,305.2 113.6,310.1 114.2,315 114.9,319.8 115.5,324.5 116.1,329.2 116.8,333.8 117.4,338.4 118,342.9 118.7,347.4 119.3,351.7 119.9,356.1 120.6,360.3 121.2,364.5 121.8,368.7 122.5,372.8 123.1,376.9 123.7,380.9 124.4,384.8 125,388.7 125.7,392.5 126.3,396.3 126.9,400.1 127.6,403.8 128.2,407.4 128.8,411 129.5,414.5 130.1,418 130.7,421.5 131.4,424.9 132,428.2 132.6,431.6 133.3,434.8 133.9,438 134.5,441.2 135.2,444.4 135.8,447.5 136.4,450.5 137.1,453.5 137.7,456.5 138.3,459.4 139,462.3 139.6,465.1 140.3,468 140.9,470.7 141.5,473.4 142.2,476.1 142.8,478.8 143.4,481.4 144.1,484 144.7,486.5 145.3,489 146,491.5 146.6,494 147.2,496.4 147.9,498.7 148.5,501.1 149.1,503.4 149.8,505.6 150.4,507.9 151,510.1 151.7,512.3 152.3,514.4 152.9,516.5 153.6,518.6 154.2,520.6 154.8,522.7 155.5,524.6 156.1,526.6 156.8,528.5 157.4,530.4 158,532.3 158.7,534.2 159.3,536 159.9,537.8 160.6,539.5 161.2,541.3 161.8,543 162.5,544.7 163.1,546.3 163.7,548 164.4,549.6 165,551.2 165.6,552.7 166.3,554.3 166.9,555.8 167.5,557.3 168.2,558.7 168.8,560.2 169.4,561.6 170.1,563 170.7,564.4 171.4,565.7 172,567.1 172.6,568.4 173.3,569.7 173.9,570.9 174.5,572.2 175.2,573.4 175.8,574.6 176.4,575.8 177.1,577 177.7,578.1 178.3,579.2 179,580.4 179.6,581.4 180.2,582.5 180.9,583.6 181.5,584.6 182.1,585.6 182.8,586.6 183.4,587.6 184,588.6 184.7,589.5 185.3,590.5 185.9,591.4 186.6,592.3 187.2,593.2 187.9,594.1 188.5,594.9 189.1,595.8 189.8,596.6 190.4,597.4 191,598.2 191.7,599 192.3,599.7 192.9,600.5 193.6,601.2 194.2,601.9 194.8,602.6 195.5,603.3 196.1,604 196.7,604.7 197.4,605.3 198,606 198.6,606.6 199.3,607.2 199.9,607.8 200.5,608.4 201.2,609 201.8,609.6 202.5,610.1 203.1,610.7 203.7,611.2 204.4,611.7 205,612.3 205.6,612.8 206.3,613.2 206.9,613.7 207.5,614.2 208.2,614.7 208.8,615.1 209.4,615.5 210.1,616 210.7,616.4 211.3,616.8 212,617.2 212.6,617.6 213.2,618 213.9,618.3 214.5,618.7 215.1,619 215.8,619.4 216.4,619.7 217,620 217.7,620.4 218.3,620.7 219,621 219.6,621.3 220.2,621.6 220.9,621.8 221.5,622.1 222.1,622.4 222.8,622.6 223.4,622.9 224,623.1 224.7,623.3 225.3,623.6 225.9,623.8 226.6,624 227.2,624.2 227.8,624.4 228.5,624.6 229.1,624.8 229.7,624.9 230.4,625.1 231,625.3 231.6,625.4 232.3,625.6 232.9,625.7 233.6,625.9 234.2,626 234.8,626.1 235.5,626.2 236.1,626.4 236.7,626.5 237.4,626.6 238,626.7 238.6,626.8 239.3,626.9 239.9,626.9 240.5,627 241.2,627.1 241.8,627.2 242.4,627.2 243.1,627.3 243.7,627.4 244.3,627.4 245,627.5 245.6,627.5 246.2,627.5 246.9,627.6 247.5,627.6 248.1,627.6 248.8,627.7 249.4,627.7 250.1,627.7 250.7,627.7 251.3,627.7 252,627.7 252.6,627.7 253.2,627.7 253.9,627.7 254.5,627.7 255.1,627.7 255.8,627.7 256.4,627.6 257,627.6 257.7,627.6 258.3,627.6 258.9,627.5 259.6,627.5 260.2,627.4 260.8,627.4 261.5,627.4 262.1,627.3 262.7,627.3 263.4,627.2 264,627.2 264.7,627.1 265.3,627 265.9,627 266.6,626.9 267.2,626.8 267.8,626.8 268.5,626.7 269.1,626.6 269.7,626.5 270.4,626.5 271,626.4 271.6,626.3 272.3,626.2 272.9,626.1 273.5,626 274.2,626 274.8,625.9 275.4,625.8 276.1,625.7 276.7,625.6 277.3,625.5 278,625.4 278.6,625.3 279.2,625.2 279.9,625.1 280.5,625 281.2,624.9 281.8,624.8 282.4,624.6 283.1,624.5 283.7,624.4 284.3,624.3 285,624.2 285.6,624.1 286.2,624 286.9,623.8 287.5,623.7 288.1,623.6 288.8,623.5 289.4,623.4 290,623.2 290.7,623.1 291.3,623 291.9,622.9 292.6,622.8 293.2,622.6 293.8,622.5 294.5,622.4 295.1,622.3 295.8,622.1 296.4,622 297,621.9 297.7,621.7 298.3,621.6 298.9,621.5 299.6,621.4 300.2,621.2 300.8,621.1 301.5,621 302.1,620.8 302.7,620.7 303.4,620.6 304,620.4 304.6,620.3 305.3,620.2 305.9,620.1 306.5,619.9 307.2,619.8 307.8,619.7 308.4,619.5 309.1,619.4 309.7,619.3 310.3,619.1 311,619 311.6,618.9 312.3,618.8 312.9,618.6 313.5,618.5 314.2,618.4 314.8,618.2 315.4,618.1 316.1,618 316.7,617.9 317.3,617.7 318,617.6 318.6,617.5 319.2,617.4 319.9,617.2 320.5,617.1 321.1,617 321.8,616.9 322.4,616.7 323,616.6 323.7,616.5 324.3,616.4 324.9,616.3 325.6,616.1 326.2,616 326.9,615.9 327.5,615.8 328.1,615.7 328.8,615.6 329.4,615.5 330,615.3 330.7,615.2 331.3,615.1 331.9,615 332.6,614.9 333.2,614.8 333.8,614.7 334.5,614.6 335.1,614.5 335.7,614.4 336.4,614.3 337,614.2 337.6,614.1 338.3,614 338.9,613.9 339.5,613.8 340.2,613.7 340.8,613.6 341.4,613.5 342.1,613.4 342.7,613.3 343.4,613.2 344,613.1 344.6,613.1 345.3,613 345.9,612.9 346.5,612.8 347.2,612.7 347.8,612.6 348.4,612.6 349.1,612.5 349.7,612.4 350.3,612.3 351,612.3 351.6,612.2 352.2,612.1 352.9,612 353.5,612 354.1,611.9 354.8,611.8 355.4,611.8 356,611.7 356.7,611.7 357.3,611.6 358,611.5 358.6,611.5 359.2,611.4 359.9,611.4 360.5,611.3 361.1,611.3 361.8,611.2 362.4,611.2 363,611.1 363.7,611.1 364.3,611.1 364.9,611 365.6,611 366.2,610.9 366.8,610.9 367.5,610.9 368.1,610.8 368.7,610.8 369.4,610.8 370,610.7 370.6,610.7 371.3,610.7 371.9,610.7 372.5,610.6 373.2,610.6 373.8,610.6 374.5,610.6 375.1,610.6 375.7,610.5 376.4,610.5 377,610.5 377.6,610.5 378.3,610.5 378.9,610.5 379.5,610.5 380.2,610.5 380.8,610.5 381.4,610.5 382.1,610.5 382.7,610.5 383.3,610.5 384,610.5 384.6,610.5 385.2,610.5 385.9,610.5 386.5,610.5 387.1,610.5 387.8,610.5 388.4,610.5 389.1,610.5 389.7,610.5 390.3,610.6 391,610.6 391.6,610.6 392.2,610.6 392.9,610.6 393.5,610.7 394.1,610.7 394.8,610.7 395.4,610.7 396,610.8 396.7,610.8 397.3,610.8 397.9,610.9 398.6,610.9 399.2,610.9 399.8,610.9 400.5,611 401.1,611 401.7,611.1 402.4,611.1 403,611.1 403.6,611.2 404.3,611.2 404.9,611.3 405.6,611.3 406.2,611.3 406.8,611.4 407.5,611.4 408.1,611.5 408.7,611.5 409.4,611.6 410,611.6 410.6,611.7 411.3,611.7 411.9,611.8 412.5,611.8 413.2,611.9 413.8,611.9 414.4,612 415.1,612 415.7,612.1 416.3,612.2 417,612.2 417.6,612.3 418.2,612.3 418.9,612.4 419.5,612.4 420.2,612.5 420.8,612.6 421.4,612.6 422.1,612.7 422.7,612.8 423.3,612.8 424,612.9 424.6,612.9 425.2,613 425.9,613.1 426.5,613.1 427.1,613.2 427.8,613.3 428.4,613.3 429,613.4 429.7,613.5 430.3,613.5 430.9,613.6 431.6,613.7 432.2,613.7 432.8,613.8 433.5,613.9 434.1,614 434.7,614 435.4,614.1 436,614.2 436.7,614.2 437.3,614.3 437.9,614.4 438.6,614.5 439.2,614.5 439.8,614.6 440.5,614.7 441.1,614.8 441.7,614.8 442.4,614.9 443,615 443.6,615 444.3,615.1 444.9,615.2 445.5,615.3 446.2,615.3 446.8,615.4 447.4,615.5 448.1,615.6 448.7,615.6 449.3,615.7 450,615.8 450.6,615.9 451.3,615.9 451.9,616 452.5,616.1 453.2,616.2 453.8,616.3 454.4,616.3 455.1,616.4 455.7,616.5 456.3,616.6 457,616.6 457.6,616.7 458.2,616.8 458.9,616.9 459.5,616.9 460.1,617 460.8,617.1 461.4,617.2 462,617.2 462.7,617.3 463.3,617.4 463.9,617.5 464.6,617.5 465.2,617.6 465.9,617.7 466.5,617.8 467.1,617.9 467.8,617.9 468.4,618 469,618.1 469.7,618.2 470.3,618.2 470.9,618.3 471.6,618.4 472.2,618.5 472.8,618.5 473.5,618.6 474.1,618.7 474.7,618.8 475.4,618.8 476,618.9 476.6,619 477.3,619.1 477.9,619.1 478.5,619.2 479.2,619.3 479.8,619.3 480.4,619.4 481.1,619.5 481.7,619.6 482.4,619.6 483,619.7 483.6,619.8 484.3,619.9 484.9,619.9 485.5,620 486.2,620.1 486.8,620.1 487.4,620.2 488.1,620.3 488.7,620.4 489.3,620.4 490,620.5 490.6,620.6 491.2,620.6 491.9,620.7 492.5,620.8 493.1,620.9 493.8,620.9 494.4,621 495,621.1 495.7,621.1 496.3,621.2 497,621.3 497.6,621.3 498.2,621.4 498.9,621.5 499.5,621.5" fill="none" stroke="none" marker-start="url(#mo)" marker-mid="url(#mo)" marker-end="url(#mo)"/>
<polyline points="106.6,19.7 107.2,25.3 107.9,30.9 108.5,36.3 109.1,41.7 109.8,47 110.4,52.3 111.1,57.5 111.7,62.6 112.3,67.6 113,72.6 113.6,77.5 114.2,82.4 114.9,87.2 115.5,91.9 116.1,96.6 116.8,101.2 117.4,105.8 118,110.2 118.7,114.7 119.3,119.1 119.9,123.4 120.6,127.6 121.2,131.8 121.8,136 122.5,140.1 123.1,144.1 123.7,148.1 124.4,152.1 125,155.9 125.7,159.8 126.3,163.6 126.9,167.3 127.6,171 128.2,174.6 128.8,178.2 129.5,181.7 130.1,185.2 130.7,188.7 131.4,192.1 132,195.4 132.6,198.7 133.3,202 133.9,205.2 134.5,208.4 135.2,211.5 135.8,214.6 136.4,217.6 137.1,220.6 137.7,223.6 138.3,226.5 139,229.4 139.6,232.2 140.3,235 140.9,237.8 141.5,240.5 142.2,243.2 142.8,245.8 143.4,248.4 144.1,251 144.7,253.5 145.3,256 146,258.5 146.6,260.9 147.2,263.3 147.9,265.7 148.5,268 149.1,270.3 149.8,272.6 150.4,274.8 151,277 151.7,279.2 152.3,281.3 152.9,283.4 153.6,285.5 154.2,287.5 154.8,289.5 155.5,291.5 156.1,293.5 156.8,295.4 157.4,297.3 158,299.2 158.7,301 159.3,302.8 159.9,304.6 160.6,306.3 161.2,308.1 161.8,309.8 162.5,311.5 163.1,313.1 163.7,314.7 164.4,316.3 165,317.9 165.6,319.5 166.3,321 166.9,322.5 167.5,324 168.2,325.5 168.8,326.9 169.4,328.3 170.1,329.7 170.7,331.1 171.4,332.4 172,333.7 172.6,335 173.3,336.3 173.9,337.6 174.5,338.8 175.2,340.1 175.8,341.3 176.4,342.4 177.1,343.6 177.7,344.8 178.3,345.9 179,347 179.6,348.1 180.2,349.1 180.9,350.2 181.5,351.2 182.1,352.2 182.8,353.2 183.4,354.2 184,355.2 184.7,356.1 185.3,357.1 185.9,358 186.6,358.9 187.2,359.8 187.9,360.6 188.5,361.5 189.1,362.3 189.8,363.1 190.4,363.9 191,364.7 191.7,365.5 192.3,366.3 192.9,367 193.6,367.7 194.2,368.5 194.8,369.2 195.5,369.9 196.1,370.5 196.7,371.2 197.4,371.9 198,372.5 198.6,373.1 199.3,373.7 199.9,374.3 200.5,374.9 201.2,375.5 201.8,376.1 202.5,376.6 203.1,377.2 203.7,377.7 204.4,378.2 205,378.7 205.6,379.2 206.3,379.7 206.9,380.2 207.5,380.7 208.2,381.1 208.8,381.6 209.4,382 210.1,382.5 210.7,382.9 211.3,383.3 212,383.7 212.6,384.1 213.2,384.5 213.9,384.8 214.5,385.2 215.1,385.6 215.8,385.9 216.4,386.3 217,386.6 217.7,386.9 218.3,387.2 219,387.5 219.6,387.8 220.2,388.1 220.9,388.4 221.5,388.7 222.1,389 222.8,389.2 223.4,389.5 224,389.7 224.7,390 225.3,390.2 225.9,390.5 226.6,390.7 227.2,390.9 227.8,391.1 228.5,391.4 229.1,391.6 229.7,391.8 230.4,392 231,392.2 231.6,392.4 232.3,392.6 232.9,392.7 233.6,392.9 234.2,393.1 234.8,393.3 235.5,393.5 236.1,393.6 236.7,393.8 237.4,394 238,394.2 238.6,394.4 239.3,394.6 239.9,394.8 240.5,395 241.2,395.2 241.8,395.4 242.4,395.7 243.1,395.9 243.7,396.2 244.3,396.6 245,396.9 245.6,397.3 246.2,397.7 246.9,398.2 247.5,398.7 248.1,399.3 248.8,400 249.4,400.7 250.1,401.5 250.7,402.4 251.3,403.3 252,404.3 252.6,405.3 253.2,406.3 253.9,407.4 254.5,408.5 255.1,409.7 255.8,410.8 256.4,412 257,413.2 257.7,414.3 258.3,415.5 258.9,416.7 259.6,417.9 260.2,419.1 260.8,420.3 261.5,421.5 262.1,422.7 262.7,423.9 263.4,425 264,426.2 264.7,427.4 265.3,428.5 265.9,429.7 266.6,430.8 267.2,432 267.8,433.1 268.5,434.2 269.1,435.3 269.7,436.4 270.4,437.6 271,438.6 271.6,439.7 272.3,440.8 272.9,441.9 273.5,443 274.2,444 274.8,445.1 275.4,446.1 276.1,447.1 276.7,448.2 277.3,449.2 278,450.2 278.6,451.2 279.2,452.2 279.9,453.2 280.5,454.1 281.2,455.1 281.8,456.1 282.4,457 283.1,458 283.7,458.9 284.3,459.9 285,460.8 285.6,461.7 286.2,462.6 286.9,463.5 287.5,464.4 288.1,465.3 288.8,466.2 289.4,467.1 290,467.9 290.7,468.8 291.3,469.6 291.9,470.5 292.6,471.3 293.2,472.2 293.8,473 294.5,473.8 295.1,474.6 295.8,475.4 296.4,476.2 297,477 297.7,477.8 298.3,478.6 298.9,479.4 299.6,480.1 300.2,480.9 300.8,481.6 301.5,482.4 302.1,483.1 302.7,483.8 303.4,484.6 304,485.3 304.6,486 305.3,486.7 305.9,487.4 306.5,488.1 307.2,488.8 307.8,489.5 308.4,490.2 309.1,490.8 309.7,491.5 310.3,492.1 311,492.8 311.6,493.4 312.3,494.1 312.9,494.7 313.5,495.3 314.2,496 314.8,496.6 315.4,497.2 316.1,497.8 316.7,498.4 317.3,499 318,499.6 318.6,500.2 319.2,500.8 319.9,501.3 320.5,501.9 321.1,502.5 321.8,503 322.4,503.6 323,504.1 323.7,504.6 324.3,505.2 324.9,505.7 325.6,506.2 326.2,506.8 326.9,507.3 327.5,507.8 328.1,508.3 328.8,508.8 329.4,509.3 330,509.8 330.7,510.2 331.3,510.7 331.9,511.2 332.6,511.7 333.2,512.1 333.8,512.6 334.5,513 335.1,513.5 335.7,513.9 336.4,514.4 337,514.8 337.6,515.2 338.3,515.7 338.9,516.1 339.5,516.5 340.2,516.9 340.8,517.3 341.4,517.7 342.1,518.1 342.7,518.5 343.4,518.9 344,519.3 344.6,519.6 345.3,520 345.9,520.4 346.5,520.7 347.2,521.1 347.8,521.5 348.4,521.8 349.1,522.2 349.7,522.5 350.3,522.8 351,523.2 351.6,523.5 352.2,523.8 352.9,524.2 353.5,524.5 354.1,524.8 354.8,525.1 355.4,525.4 356,525.7 356.7,526 357.3,526.3 358,526.6 358.6,526.8 359.2,527.1 359.9,527.4 360.5,527.7 361.1,527.9 361.8,528.2 362.4,528.5 363,528.7 363.7,529 364.3,529.2 364.9,529.5 365.6,529.7 366.2,529.9 366.8,530.2 367.5,530.4 368.1,530.6 368.7,530.8 369.4,531.1 370,531.3 370.6,531.5 371.3,531.7 371.9,531.9 372.5,532.1 373.2,532.3 373.8,532.5 374.5,532.7 375.1,532.9 375.7,533.1 376.4,533.2 377,533.4 377.6,533.6 378.3,533.7 378.9,533.9 379.5,534.1 380.2,534.2 380.8,534.4 381.4,534.5 382.1,534.7 382.7,534.8 383.3,535 384,535.1 384.6,535.3 385.2,535.4 385.9,535.5 386.5,535.7 387.1,535.8 387.8,535.9 388.4,536 389.1,536.2 389.7,536.3 390.3,536.4 391,536.5 391.6,536.6 392.2,536.7 392.9,536.8 393.5,536.9 394.1,537 394.8,537.1 395.4,537.2 396,537.3 396.7,537.4 397.3,537.4 397.9,537.5 398.6,537.6 399.2,537.7 399.8,537.7 400.5,537.8 401.1,537.9 401.7,538 402.4,538 403,538.1 403.6,538.1 404.3,538.2 404.9,538.3 405.6,538.3 406.2,538.4 406.8,538.4 407.5,538.5 408.1,538.5 408.7,538.5 409.4,538.6 410,538.6 410.6,538.7 411.3,538.7 411.9,538.7 412.5,538.8 413.2,538.8 413.8,538.8 414.4,538.9 415.1,538.9 415.7,538.9 416.3,538.9 417,539 417.6,539 418.2,539 418.9,539 419.5,539 420.2,539 420.8,539 421.4,539.1 422.1,539.1 422.7,539.1 423.3,539.1 424,539.1 424.6,539.1 425.2,539.1 425.9,539.1 426.5,539.1 427.1,539.1 427.8,539.1 428.4,539.1 429,539.1 429.7,539.1 430.3,539.1 430.9,539.1 431.6,539 432.2,539 432.8,539 433.5,539 434.1,539 434.7,539 435.4,539 436,538.9 436.7,538.9 437.3,538.9 437.9,538.9 438.6,538.9 439.2,538.8 439.8,538.8 440.5,538.8 441.1,538.8 441.7,538.8 442.4,538.7 443,538.7 443.6,538.7 444.3,538.6 444.9,538.6 445.5,538.6 446.2,538.6 446.8,538.5 447.4,538.5 448.1,538.5 448.7,538.4 449.3,538.4 450,538.4 450.6,538.3 451.3,538.3 451.9,538.3 452.5,538.2 453.2,538.2 453.8,538.1 454.4,538.1 455.1,538.1 455.7,538 456.3,538 457,538 457.6,537.9 458.2,537.9 458.9,537.8 459.5,537.8 460.1,537.7 460.8,537.7 461.4,537.7 462,537.6 462.7,537.6 463.3,537.5 463.9,537.5 464.6,537.4 465.2,537.4 465.9,537.4 466.5,537.3 467.1,537.3 467.8,537.2 468.4,537.2 469,537.1 469.7,537.1 470.3,537 470.9,537 471.6,536.9 472.2,536.9 472.8,536.8 473.5,536.8 474.1,536.7 474.7,536.7 475.4,536.6 476,536.6 476.6,536.5 477.3,536.5 477.9,536.4 478.5,536.4 479.2,536.3 479.8,536.3 480.4,536.2 481.1,536.2 481.7,536.1 482.4,536.1 483,536 483.6,536 484.3,535.9 484.9,535.9 485.5,535.8 486.2,535.8 486.8,535.7 487.4,535.7 488.1,535.6 488.7,535.6 489.3,535.5 490,535.5 490.6,535.4 491.2,535.4 491.9,535.3 492.5,535.3 493.1,535.2 493.8,535.2 494.4,535.1 495,535 495.7,535 496.3,534.9 497,534.9 497.6,534.8 498.2,534.8 498.9,534.7 499.5,534.7" fill="none" stroke="none" marker-start="url(#mo)" marker-mid="url(#mo)" marker-end="url(#mo)"/>
<polyline points="146.6,17.1 147.2,19.5 147.9,21.8 148.5,24.1 149.1,26.4 149.8,28.6 150.4,30.8 151,33 151.7,35.2 152.3,37.3 152.9,39.3 153.6,41.4 154.2,43.4 154.8,45.4 155.5,47.3 156.1,49.3 156.8,51.2 157.4,53 158,54.9 158.7,56.7 159.3,58.5 159.9,60.3 160.6,62 161.2,63.7 161.8,65.4 162.5,67.1 163.1,68.7 163.7,70.3 164.4,71.9 165,73.4 165.6,75 166.3,76.5 166.9,78 167.5,79.5 168.2,80.9 168.8,82.3 169.4,83.7 170.1,85.1 170.7,86.5 171.4,87.8 172,89.1 172.6,90.4 173.3,91.7 173.9,93.2 174.5,96.4 175.2,100.3 175.8,104.3 176.4,108.2 177.1,112 177.7,115.8 178.3,119.7 179,123.4 179.6,127.2 180.2,130.9 180.9,134.5 181.5,138.2 182.1,141.8 182.8,145.4 183.4,148.9 184,152.4 184.7,155.9 185.3,159.4 185.9,162.8 186.6,166.2 187.2,169.6 187.9,172.9 188.5,176.2 189.1,179.5 189.8,182.7 190.4,186 191,189.2 191.7,192.3 192.3,195.5 192.9,198.6 193.6,201.7 194.2,204.7 194.8,207.8 195.5,210.8 196.1,213.8 196.7,216.7 197.4,219.7 198,222.6 198.6,225.5 199.3,228.3 199.9,231.2 200.5,234 201.2,236.8 201.8,239.5 202.5,242.3 203.1,245 203.7,247.7 204.4,250.3 205,253 205.6,255.6 206.3,258.2 206.9,260.8 207.5,263.4 208.2,265.9 208.8,268.4 209.4,270.9 210.1,273.4 210.7,275.8 211.3,278.3 212,280.7 212.6,283.1 213.2,285.4 213.9,287.8 214.5,290.1 215.1,292.4 215.8,294.7 216.4,297 217,299.2 217.7,301.4 218.3,303.7 219,305.8 219.6,308 220.2,310.2 220.9,312.3 221.5,314.4 222.1,316.5 222.8,318.6 223.4,320.7 224,322.7 224.7,324.7 225.3,326.7 225.9,328.7 226.6,330.7 227.2,332.7 227.8,334.6 228.5,336.5 229.1,338.4 229.7,340.3 230.4,342.2 231,344 231.6,345.8 232.3,347.6 232.9,349.4 233.6,351.2 234.2,353 234.8,354.7 235.5,356.4 236.1,358.1 236.7,359.8 237.4,361.4 238,363.1 238.6,364.7 239.3,366.3 239.9,367.8 240.5,369.3 241.2,370.8 241.8,372.3 242.4,373.8 243.1,375.2 243.7,376.5 244.3,377.8 245,379.1 245.6,380.3 246.2,381.5 246.9,382.5 247.5,383.5 248.1,384.5 248.8,385.3 249.4,386.1 250.1,386.8 250.7,387.4 251.3,387.9 252,388.4 252.6,388.8 253.2,389.1 253.9,389.4 254.5,389.7 255.1,389.9 255.8,390.1 256.4,390.3 257,390.4 257.7,390.5 258.3,390.6 258.9,390.7 259.6,390.8 260.2,390.8 260.8,390.9 261.5,390.9 262.1,390.9 262.7,391 263.4,391 264,391 264.7,391 265.3,390.9 265.9,390.9 266.6,390.9 267.2,390.9 267.8,390.8 268.5,390.8 269.1,390.7 269.7,390.7 270.4,390.6 271,390.6 271.6,390.5 272.3,390.4 272.9,390.4 273.5,390.3 274.2,390.2 274.8,390.1 275.4,390.1 276.1,390 276.7,389.9 277.3,389.8 278,389.7 278.6,389.6 279.2,389.5 279.9,389.4 280.5,389.3 281.2,389.2 281.8,389.1 282.4,389 283.1,388.9 283.7,388.8 284.3,388.7 285,388.6 285.6,388.5 286.2,388.4 286.9,388.2 287.5,388.1 288.1,388 288.8,387.9 289.4,387.8 290,387.7 290.7,387.5 291.3,387.4 291.9,387.3 292.6,387.2 293.2,387 293.8,386.9 294.5,386.8 295.1,386.6 295.8,386.5 296.4,386.4 297,386.3 297.7,386.1 298.3,386 298.9,385.9 299.6,385.7 300.2,385.6 300.8,385.5 301.5,385.3 302.1,385.2 302.7,385.1 303.4,384.9 304,384.8 304.6,384.7 305.3,384.5 305.9,384.4 306.5,384.2 307.2,384.1 307.8,384 308.4,383.8 309.1,383.7 309.7,383.6 310.3,383.4 311,383.3 311.6,383.2 312.3,383 312.9,382.9 313.5,382.7 314.2,382.6 314.8,382.5 315.4,382.3 316.1,382.2 316.7,382.1 317.3,381.9 318,381.8 318.6,381.7 319.2,381.5 319.9,381.4 320.5,381.3 321.1,381.1 321.8,381 322.4,380.9 323,380.8 323.7,380.6 324.3,380.5 324.9,380.4 325.6,380.2 326.2,380.1 326.9,380 327.5,379.9 328.1,379.7 328.8,379.6 329.4,379.5 330,379.4 330.7,379.3 331.3,379.1 331.9,379 332.6,378.9 333.2,378.8 333.8,378.7 334.5,378.6 335.1,378.4 335.7,378.3 336.4,378.2 337,378.1 337.6,378 338.3,377.9 338.9,377.8 339.5,377.7 340.2,377.6 340.8,377.5 341.4,377.4 342.1,377.3 342.7,377.2 343.4,377.1 344,377 344.6,376.9 345.3,376.8 345.9,376.7 346.5,376.6 347.2,376.5 347.8,376.4 348.4,376.3 349.1,376.2 349.7,376.1 350.3,376.1 351,376 351.6,375.9 352.2,375.8 352.9,375.7 353.5,375.7 354.1,375.6 354.8,375.5 355.4,375.4 356,375.4 356.7,375.3 357.3,375.2 358,375.2 358.6,375.1 359.2,375 359.9,375 360.5,374.9 361.1,374.9 361.8,374.8 362.4,374.8 363,374.7 363.7,374.6 364.3,374.6 364.9,374.5 365.6,374.5 366.2,374.5 366.8,374.4 367.5,374.4 368.1,374.3 368.7,374.3 369.4,374.3 370,374.2 370.6,374.2 371.3,374.2 371.9,374.1 372.5,374.1 373.2,374.1 373.8,374 374.5,374 375.1,374 375.7,374 376.4,374 377,373.9 377.6,373.9 378.3,373.9 378.9,373.9 379.5,373.9 380.2,373.9 380.8,373.9 381.4,373.9 382.1,373.9 382.7,373.9 383.3,373.9 384,373.9 384.6,373.9 385.2,373.9 385.9,373.9 386.5,373.9 387.1,373.9 387.8,373.9 388.4,373.9 389.1,373.9 389.7,374 390.3,374 391,374 391.6,374 392.2,374 392.9,374.1 393.5,374.1 394.1,374.1 394.8,374.1 395.4,374.2 396,374.2 396.7,374.2 397.3,374.3 397.9,374.3 398.6,374.3 399.2,374.4 399.8,374.4 400.5,374.5 401.1,374.5 401.7,374.5 402.4,374.6 403,374.6 403.6,374.7 404.3,374.7 404.9,374.8 405.6,374.8 406.2,374.9 406.8,374.9 407.5,375 408.1,375 408.7,375.1 409.4,375.1 410,375.2 410.6,375.3 411.3,375.3 411.9,375.4 412.5,375.4 413.2,375.5 413.8,375.6 414.4,375.6 415.1,375.7 415.7,375.8 416.3,375.8 417,375.9 417.6,376 418.2,376 418.9,376.1 419.5,376.2 420.2,376.3 420.8,376.3 421.4,376.4 422.1,376.5 422.7,376.5 423.3,376.6 424,376.7 424.6,376.8 425.2,376.9 425.9,376.9 426.5,377 427.1,377.1 427.8,377.2 428.4,377.3 429,377.3 429.7,377.4 430.3,377.5 430.9,377.6 431.6,377.7 432.2,377.7 432.8,377.8 433.5,377.9 434.1,378 434.7,378.1 435.4,378.2 436,378.3 436.7,378.3 437.3,378.4 437.9,378.5 438.6,378.6 439.2,378.7 439.8,378.8 440.5,378.9 441.1,379 441.7,379.1 442.4,379.1 443,379.2 443.6,379.3 444.3,379.4 444.9,379.5 445.5,379.6 446.2,379.7 446.8,379.8 447.4,379.9 448.1,380 448.7,380.1 449.3,380.1 450,380.2 450.6,380.3 451.3,380.4 451.9,380.5 452.5,380.6 453.2,380.7 453.8,380.8 454.4,380.9 455.1,381 455.7,381.1 456.3,381.2 457,381.3 457.6,381.3 458.2,381.4 458.9,381.5 459.5,381.6 460.1,381.7 460.8,381.8 461.4,381.9 462,382 462.7,382.1 463.3,382.2 463.9,382.3 464.6,382.4 465.2,382.5 465.9,382.6 466.5,382.6 467.1,382.7 467.8,382.8 468.4,382.9 469,383 469.7,383.1 470.3,383.2 470.9,383.3 471.6,383.4 472.2,383.5 472.8,383.6 473.5,383.7 474.1,383.7 474.7,383.8 475.4,383.9 476,384 476.6,384.1 477.3,384.2 477.9,384.3 478.5,384.4 479.2,384.5 479.8,384.6 480.4,384.6 481.1,384.7 481.7,384.8 482.4,384.9 483,385 483.6,385.1 484.3,385.2 484.9,385.3 485.5,385.4 486.2,385.4 486.8,385.5 487.4,385.6 488.1,385.7 488.7,385.8 489.3,385.9 490,386 490.6,386 491.2,386.1 491.9,386.2 492.5,386.3 493.1,386.4 493.8,386.5 494.4,386.6 495,386.6 495.7,386.7 496.3,386.8 497,386.9 497.6,387 498.2,387.1 498.9,387.1 499.5,387.2" fill="none" stroke="none" marker-start="url(#mo)" marker-mid="url(#mo)" marker-end="url(#mo)"/>
<polyline points="163.1,18.5 163.7,23.1 164.4,27.8 165,32.3 165.6,36.9 166.3,41.4 166.9,45.8 167.5,50.2 168.2,54.6 168.8,58.9 169.4,63.2 170.1,67.5 170.7,71.7 171.4,75.9 172,80 172.6,84.1 173.3,88.2 173.9,92 174.5,94 175.2,95.3 175.8,96.5 176.4,97.7 177.1,98.9 177.7,100 178.3,101.1 179,102.2 179.6,103.3 180.2,104.4 180.9,105.4 181.5,106.4 182.1,107.4 182.8,108.4 183.4,109.4 184,110.4 184.7,111.3 185.3,112.2 185.9,113.2 186.6,114.1 187.2,114.9 187.9,115.8 188.5,116.6 189.1,117.5 189.8,118.3 190.4,119.1 191,119.9 191.7,120.7 192.3,121.4 192.9,122.2 193.6,122.9 194.2,123.6 194.8,124.4 195.5,125 196.1,125.7 196.7,126.4 197.4,127.1 198,127.7 198.6,128.3 199.3,129 199.9,129.6 200.5,130.2 201.2,130.8 201.8,131.3 202.5,131.9 203.1,132.4 203.7,133 204.4,133.5 205,134 205.6,134.5 206.3,135 206.9,135.5 207.5,136 208.2,136.5 208.8,136.9 209.4,137.4 210.1,137.8 210.7,138.3 211.3,138.7 212,139.1 212.6,139.5 213.2,139.9 213.9,140.3 214.5,140.7 215.1,141 215.8,141.4 216.4,141.8 217,142.1 217.7,142.5 218.3,142.8 219,143.1 219.6,143.4 220.2,143.7 220.9,144 221.5,144.3 222.1,144.6 222.8,144.9 223.4,145.2 224,145.5 224.7,145.7 225.3,146 225.9,146.3 226.6,146.5 227.2,146.7 227.8,147 228.5,147.2 229.1,147.5 229.7,147.7 230.4,147.9 231,148.1 231.6,148.3 232.3,148.5 232.9,148.8 233.6,149 234.2,149.2 234.8,149.4 235.5,149.6 236.1,149.8 236.7,150 237.4,150.2 238,150.4 238.6,150.6 239.3,150.9 239.9,151.1 240.5,151.3 241.2,151.6 241.8,151.8 242.4,152.1 243.1,152.4 243.7,152.7 244.3,153 245,153.4 245.6,153.8 246.2,154.3 246.9,154.8 247.5,155.4 248.1,156 248.8,156.7 249.4,157.5 250.1,158.3 250.7,159.2 251.3,160.1 252,161.1 252.6,162.2 253.2,163.3 253.9,164.4 254.5,165.5 255.1,166.7 255.8,167.9 256.4,169.1 257,170.3 257.7,171.5 258.3,172.7 258.9,173.9 259.6,175.2 260.2,176.4 260.8,177.6 261.5,178.8 262.1,180.1 262.7,181.3 263.4,182.5 264,183.7 264.7,184.9 265.3,186.1 265.9,187.3 266.6,188.5 267.2,189.6 267.8,190.8 268.5,192 269.1,193.1 269.7,194.3 270.4,195.4 271,196.5 271.6,197.7 272.3,198.8 272.9,199.9 273.5,201 274.2,202.1 274.8,203.2 275.4,204.3 276.1,205.3 276.7,206.4 277.3,207.5 278,208.5 278.6,209.6 279.2,210.6 279.9,211.6 280.5,212.6 281.2,213.6 281.8,214.6 282.4,215.6 283.1,216.6 283.7,217.6 284.3,218.6 285,219.6 285.6,220.5 286.2,221.5 286.9,222.4 287.5,223.4 288.1,224.3 288.8,225.2 289.4,226.1 290,227 290.7,227.9 291.3,228.8 291.9,229.7 292.6,230.6 293.2,231.5 293.8,232.4 294.5,233.2 295.1,234.1 295.8,234.9 296.4,235.8 297,236.6 297.7,237.4 298.3,238.3 298.9,239.1 299.6,239.9 300.2,240.7 300.8,241.5 301.5,242.3 302.1,243 302.7,243.8 303.4,244.6 304,245.4 304.6,246.1 305.3,246.9 305.9,247.6 306.5,248.4 307.2,249.1 307.8,249.8 308.4,250.5 309.1,251.3 309.7,252 310.3,252.7 311,253.4 311.6,254.1 312.3,254.8 312.9,255.4 313.5,256.1 314.2,256.8 314.8,257.4 315.4,258.1 316.1,258.8 316.7,259.4 317.3,260.1 318,260.7 318.6,261.3 319.2,261.9 319.9,262.6 320.5,263.2 321.1,263.8 321.8,264.4 322.4,265 323,265.6 323.7,266.2 324.3,266.8 324.9,267.3 325.6,267.9 326.2,268.5 326.9,269 327.5,269.6 328.1,270.1 328.8,270.7 329.4,271.2 330,271.8 330.7,272.3 331.3,272.8 331.9,273.3 332.6,273.9 333.2,274.4 333.8,274.9 334.5,275.4 335.1,275.9 335.7,276.4 336.4,276.8 337,277.3 337.6,277.8 338.3,278.3 338.9,278.7 339.5,279.2 340.2,279.7 340.8,280.1 341.4,280.6 342.1,281 342.7,281.5 343.4,281.9 344,282.3 344.6,282.7 345.3,283.2 345.9,283.6 346.5,284 347.2,284.4 347.8,284.8 348.4,285.2 349.1,285.6 349.7,286 350.3,286.4 351,286.7 351.6,287.1 352.2,287.5 352.9,287.9 353.5,288.2 354.1,288.6 354.8,288.9 355.4,289.3 356,289.6 356.7,290 357.3,290.3 358,290.6 358.6,291 359.2,291.3 359.9,291.6 360.5,291.9 361.1,292.2 361.8,292.5 362.4,292.8 363,293.1 363.7,293.4 364.3,293.7 364.9,294 365.6,294.3 366.2,294.6 366.8,294.9 367.5,295.1 368.1,295.4 368.7,295.7 369.4,295.9 370,296.2 370.6,296.4 371.3,296.7 371.9,296.9 372.5,297.2 373.2,297.4 373.8,297.6 374.5,297.9 375.1,298.1 375.7,298.3 376.4,298.5 377,298.7 377.6,298.9 378.3,299.1 378.9,299.4 379.5,299.6 380.2,299.7 380.8,299.9 381.4,300.1 382.1,300.3 382.7,300.5 383.3,300.7 384,300.9 384.6,301 385.2,301.2 385.9,301.4 386.5,301.5 387.1,301.7 387.8,301.8 388.4,302 389.1,302.1 389.7,302.3 390.3,302.4 391,302.6 391.6,302.7 392.2,302.8 392.9,303 393.5,303.1 394.1,303.2 394.8,303.3 395.4,303.5 396,303.6 396.7,303.7 397.3,303.8 397.9,303.9 398.6,304 399.2,304.1 399.8,304.2 400.5,304.3 401.1,304.4 401.7,304.5 402.4,304.6 403,304.7 403.6,304.8 404.3,304.8 404.9,304.9 405.6,305 406.2,305.1 406.8,305.1 407.5,305.2 408.1,305.3 408.7,305.4 409.4,305.4 410,305.5 410.6,305.5 411.3,305.6 411.9,305.6 412.5,305.7 413.2,305.7 413.8,305.8 414.4,305.8 415.1,305.9 415.7,305.9 416.3,306 417,306 417.6,306 418.2,306.1 418.9,306.1 419.5,306.1 420.2,306.2 420.8,306.2 421.4,306.2 422.1,306.2 422.7,306.3 423.3,306.3 424,306.3 424.6,306.3 425.2,306.3 425.9,306.4 426.5,306.4 427.1,306.4 427.8,306.4 428.4,306.4 429,306.4 429.7,306.4 430.3,306.4 430.9,306.4 431.6,306.4 432.2,306.4 432.8,306.4 433.5,306.4 434.1,306.4 434.7,306.4 435.4,306.4 436,306.4 436.7,306.4 437.3,306.4 437.9,306.4 438.6,306.4 439.2,306.4 439.8,306.3 440.5,306.3 441.1,306.3 441.7,306.3 442.4,306.3 443,306.3 443.6,306.2 444.3,306.2 444.9,306.2 445.5,306.2 446.2,306.2 446.8,306.1 447.4,306.1 448.1,306.1 448.7,306.1 449.3,306 450,306 450.6,306 451.3,306 451.9,305.9 452.5,305.9 453.2,305.9 453.8,305.8 454.4,305.8 455.1,305.8 455.7,305.7 456.3,305.7 457,305.7 457.6,305.6 458.2,305.6 458.9,305.6 459.5,305.5 460.1,305.5 460.8,305.4 461.4,305.4 462,305.4 462.7,305.3 463.3,305.3 463.9,305.3 464.6,305.2 465.2,305.2 465.9,305.1 466.5,305.1 467.1,305 467.8,305 468.4,305 469,304.9 469.7,304.9 470.3,304.8 470.9,304.8 471.6,304.7 472.2,304.7 472.8,304.7 473.5,304.6 474.1,304.6 474.7,304.5 475.4,304.5 476,304.4 476.6,304.4 477.3,304.3 477.9,304.3 478.5,304.2 479.2,304.2 479.8,304.1 480.4,304.1 481.1,304 481.7,304 482.4,304 483,303.9 483.6,303.9 484.3,303.8 484.9,303.8 485.5,303.7 486.2,303.7 486.8,303.6 487.4,303.6 488.1,303.5 488.7,303.5 489.3,303.4 490,303.4 490.6,303.3 491.2,303.3 491.9,303.2 492.5,303.2 493.1,303.1 493.8,303.1 494.4,303 495,303 495.7,302.9 496.3,302.9 497,302.8 497.6,302.8 498.2,302.7 498.9,302.7 499.5,302.6" fill="none" stroke="none" marker-start="url(#mo)" marker-mid="url(#mo)" marker-end="url(#mo)"/>
<polyline points="207.5,18.7 208.2,21.2 208.8,23.8 209.4,26.3 210.1,28.7 210.7,31.2 211.3,33.7 212,36.1 212.6,38.5 213.2,40.9 213.9,43.2 214.5,45.6 215.1,47.9 215.8,50.2 216.4,52.5 217,54.7 217.7,57 218.3,59.2 219,61.4 219.6,63.6 220.2,65.8 220.9,67.9 221.5,70.1 222.1,72.2 222.8,74.3 223.4,76.4 224,78.4 224.7,80.5 225.3,82.5 225.9,84.5 226.6,86.5 227.2,88.5 227.8,90.4 228.5,92.4 229.1,94.3 229.7,96.2 230.4,98.1 231,100 231.6,101.8 232.3,103.6 232.9,105.5 233.6,107.3 234.2,109 234.8,110.8 235.5,112.5 236.1,114.2 236.7,115.9 237.4,117.6 238,119.3 238.6,120.9 239.3,122.5 239.9,124.1 240.5,125.7 241.2,127.2 241.8,128.7 242.4,130.2 243.1,131.6 243.7,133 244.3,134.3 245,135.6 245.6,136.9 246.2,138 246.9,139.1 247.5,140.2 248.1,141.1 248.8,142 249.4,142.8 250.1,143.5 250.7,144.2 251.3,144.7 252,145.2 252.6,145.7 253.2,146.1 253.9,146.4 254.5,146.7 255.1,146.9 255.8,147.2 256.4,147.4 257,147.5 257.7,147.7 258.3,147.8 258.9,147.9 259.6,148 260.2,148.1 260.8,148.2 261.5,148.3 262.1,148.3 262.7,148.4 263.4,148.4 264,148.5 264.7,148.5 265.3,148.5 265.9,148.5 266.6,148.5 267.2,148.5 267.8,148.5 268.5,148.5 269.1,148.5 269.7,148.5 270.4,148.5 271,148.5 271.6,148.4 272.3,148.4 272.9,148.4 273.5,148.3 274.2,148.3 274.8,148.3 275.4,148.2 276.1,148.2 276.7,148.1 277.3,148.1 278,148 278.6,148 279.2,147.9 279.9,147.9 280.5,147.8 281.2,147.8 281.8,147.7 282.4,147.6 283.1,147.6 283.7,147.5 284.3,147.4 285,147.4 285.6,147.3 286.2,147.2 286.9,147.1 287.5,147.1 288.1,147 288.8,146.9 289.4,146.8 290,146.8 290.7,146.7 291.3,146.6 291.9,146.5 292.6,146.4 293.2,146.4 293.8,146.3 294.5,146.2 295.1,146.1 295.8,146 296.4,145.9 297,145.8 297.7,145.8 298.3,145.7 298.9,145.6 299.6,145.5 300.2,145.4 300.8,145.3 301.5,145.2 302.1,145.1 302.7,145 303.4,145 304,144.9 304.6,144.8 305.3,144.7 305.9,144.6 306.5,144.5 307.2,144.4 307.8,144.3 308.4,144.2 309.1,144.1 309.7,144 310.3,144 311,143.9 311.6,143.8 312.3,143.7 312.9,143.6 313.5,143.5 314.2,143.4 314.8,143.3 315.4,143.2 316.1,143.2 316.7,143.1 317.3,143 318,142.9 318.6,142.8 319.2,142.7 319.9,142.6 320.5,142.6 321.1,142.5 321.8,142.4 322.4,142.3 323,142.2 323.7,142.2 324.3,142.1 324.9,142 325.6,141.9 326.2,141.8 326.9,141.8 327.5,141.7 328.1,141.6 328.8,141.5 329.4,141.5 330,141.4 330.7,141.3 331.3,141.2 331.9,141.2 332.6,141.1 333.2,141 333.8,141 334.5,140.9 335.1,140.8 335.7,140.8 336.4,140.7 337,140.6 337.6,140.6 338.3,140.5 338.9,140.5 339.5,140.4 340.2,140.3 340.8,140.3 341.4,140.2 342.1,140.2 342.7,140.1 343.4,140.1 344,140 344.6,140 345.3,139.9 345.9,139.9 346.5,139.8 347.2,139.8 347.8,139.7 348.4,139.7 349.1,139.7 349.7,139.6 350.3,139.6 351,139.5 351.6,139.5 352.2,139.5 352.9,139.4 353.5,139.4 354.1,139.4 354.8,139.4 355.4,139.3 356,139.3 356.7,139.3 357.3,139.3 358,139.2 358.6,139.2 359.2,139.2 359.9,139.2 360.5,139.2 361.1,139.2 361.8,139.1 362.4,139.1 363,139.1 363.7,139.1 364.3,139.1 364.9,139.1 365.6,139.1 366.2,139.1 366.8,139.1 367.5,139.1 368.1,139.1 368.7,139.1 369.4,139.1 370,139.1 370.6,139.1 371.3,139.1 371.9,139.1 372.5,139.1 373.2,139.2 373.8,139.2 374.5,139.2 375.1,139.2 375.7,139.2 376.4,139.2 377,139.3 377.6,139.3 378.3,139.3 378.9,139.3 379.5,139.4 380.2,139.4 380.8,139.4 381.4,139.5 382.1,139.5 382.7,139.5 383.3,139.6 384,139.6 384.6,139.6 385.2,139.7 385.9,139.7 386.5,139.8 387.1,139.8 387.8,139.8 388.4,139.9 389.1,139.9 389.7,140 390.3,140 391,140.1 391.6,140.1 392.2,140.2 392.9,140.2 393.5,140.3 394.1,140.3 394.8,140.4 395.4,140.5 396,140.5 396.7,140.6 397.3,140.6 397.9,140.7 398.6,140.8 399.2,140.8 399.8,140.9 400.5,141 401.1,141 401.7,141.1 402.4,141.2 403,141.2 403.6,141.3 404.3,141.4 404.9,141.4 405.6,141.5 406.2,141.6 406.8,141.7 407.5,141.7 408.1,141.8 408.7,141.9 409.4,142 410,142 410.6,142.1 411.3,142.2 411.9,142.3 412.5,142.4 413.2,142.4 413.8,142.5 414.4,142.6 415.1,142.7 415.7,142.8 416.3,142.9 417,143 417.6,143 418.2,143.1 418.9,143.2 419.5,143.3 420.2,143.4 420.8,143.5 421.4,143.6 422.1,143.7 422.7,143.7 423.3,143.8 424,143.9 424.6,144 425.2,144.1 425.9,144.2 426.5,144.3 427.1,144.4 427.8,144.5 428.4,144.6 429,144.7 429.7,144.8 430.3,144.9 430.9,145 431.6,145.1 432.2,145.1 432.8,145.2 433.5,145.3 434.1,145.4 434.7,145.5 435.4,145.6 436,145.7 436.7,145.8 437.3,145.9 437.9,146 438.6,146.1 439.2,146.2 439.8,146.3 440.5,146.4 441.1,146.5 441.7,146.6 442.4,146.7 443,146.8 443.6,146.9 444.3,147 444.9,147.1 445.5,147.2 446.2,147.3 446.8,147.4 447.4,147.5 448.1,147.6 448.7,147.7 449.3,147.8 450,147.9 450.6,148 451.3,148.1 451.9,148.2 452.5,148.3 453.2,148.4 453.8,148.5 454.4,148.6 455.1,148.7 455.7,148.8 456.3,148.9 457,149 457.6,149.1 458.2,149.2 458.9,149.3 459.5,149.4 460.1,149.5 460.8,149.6 461.4,149.7 462,149.8 462.7,149.8 463.3,149.9 463.9,150 464.6,150.1 465.2,150.2 465.9,150.3 466.5,150.4 467.1,150.5 467.8,150.6 468.4,150.7 469,150.8 469.7,150.9 470.3,151 470.9,151.1 471.6,151.2 472.2,151.3 472.8,151.4 473.5,151.5 474.1,151.6 474.7,151.7 475.4,151.8 476,151.9 476.6,151.9 477.3,152 477.9,152.1 478.5,152.2 479.2,152.3 479.8,152.4 480.4,152.5 481.1,152.6 481.7,152.7 482.4,152.8 483,152.9 483.6,153 484.3,153.1 484.9,153.1 485.5,153.2 486.2,153.3 486.8,153.4 487.4,153.5 488.1,153.6 488.7,153.7 489.3,153.8 490,153.9 490.6,153.9 491.2,154 491.9,154.1 492.5,154.2 493.1,154.3 493.8,154.4 494.4,154.5 495,154.6 495.7,154.6 496.3,154.7 497,154.8 497.6,154.9 498.2,155 498.9,155.1 499.5,155.1" fill="none" stroke="none" marker-start="url(#mo)" marker-mid="url(#mo)" marker-end="url(#mo)"/>
<polyline points="310.3,17 311,17.7 311.6,18.3 312.3,19 312.9,19.7 313.5,20.4 314.2,21 314.8,21.7 315.4,22.3 316.1,23 316.7,23.6 317.3,24.3 318,24.9 318.6,25.5 319.2,26.1 319.9,26.7 320.5,27.3 321.1,27.9 321.8,28.5 322.4,29.1 323,29.7 323.7,30.3 324.3,30.9 324.9,31.4 325.6,32 326.2,32.6 326.9,33.1 327.5,33.7 328.1,34.2 328.8,34.7 329.4,35.3 330,35.8 330.7,36.3 331.3,36.8 331.9,37.3 332.6,37.9 333.2,38.4 333.8,38.9 334.5,39.3 335.1,39.8 335.7,40.3 336.4,40.8 337,41.3 337.6,41.7 338.3,42.2 338.9,42.7 339.5,43.1 340.2,43.6 340.8,44 341.4,44.4 342.1,44.9 342.7,45.3 343.4,45.7 344,46.1 344.6,46.6 345.3,47 345.9,47.4 346.5,47.8 347.2,48.2 347.8,48.6 348.4,49 349.1,49.3 349.7,49.7 350.3,50.1 351,50.5 351.6,50.8 352.2,51.2 352.9,51.6 353.5,51.9 354.1,52.3 354.8,52.6 355.4,52.9 356,53.3 356.7,53.6 357.3,53.9 358,54.3 358.6,54.6 359.2,54.9 359.9,55.2 360.5,55.5 361.1,55.8 361.8,56.1 362.4,56.4 363,56.7 363.7,57 364.3,57.3 364.9,57.6 365.6,57.8 366.2,58.1 366.8,58.4 367.5,58.6 368.1,58.9 368.7,59.2 369.4,59.4 370,59.7 370.6,59.9 371.3,60.1 371.9,60.4 372.5,60.6 373.2,60.9 373.8,61.1 374.5,61.3 375.1,61.5 375.7,61.7 376.4,62 377,62.2 377.6,62.4 378.3,62.6 378.9,62.8 379.5,63 380.2,63.2 380.8,63.4 381.4,63.5 382.1,63.7 382.7,63.9 383.3,64.1 384,64.3 384.6,64.4 385.2,64.6 385.9,64.8 386.5,64.9 387.1,65.1 387.8,65.2 388.4,65.4 389.1,65.5 389.7,65.7 390.3,65.8 391,66 391.6,66.1 392.2,66.3 392.9,66.4 393.5,66.5 394.1,66.6 394.8,66.8 395.4,66.9 396,67 396.7,67.1 397.3,67.2 397.9,67.4 398.6,67.5 399.2,67.6 399.8,67.7 400.5,67.8 401.1,67.9 401.7,68 402.4,68.1 403,68.2 403.6,68.3 404.3,68.4 404.9,68.4 405.6,68.5 406.2,68.6 406.8,68.7 407.5,68.8 408.1,68.8 408.7,68.9 409.4,69 410,69.1 410.6,69.1 411.3,69.2 411.9,69.3 412.5,69.3 413.2,69.4 413.8,69.4 414.4,69.5 415.1,69.5 415.7,69.6 416.3,69.6 417,69.7 417.6,69.7 418.2,69.8 418.9,69.8 419.5,69.9 420.2,69.9 420.8,70 421.4,70 422.1,70 422.7,70.1 423.3,70.1 424,70.1 424.6,70.2 425.2,70.2 425.9,70.2 426.5,70.2 427.1,70.3 427.8,70.3 428.4,70.3 429,70.3 429.7,70.4 430.3,70.4 430.9,70.4 431.6,70.4 432.2,70.4 432.8,70.4 433.5,70.5 434.1,70.5 434.7,70.5 435.4,70.5 436,70.5 436.7,70.5 437.3,70.5 437.9,70.5 438.6,70.5 439.2,70.5 439.8,70.5 440.5,70.5 441.1,70.5 441.7,70.5 442.4,70.5 443,70.5 443.6,70.5 444.3,70.5 444.9,70.5 445.5,70.5 446.2,70.5 446.8,70.5 447.4,70.5 448.1,70.5 448.7,70.5 449.3,70.5 450,70.4 450.6,70.4 451.3,70.4 451.9,70.4 452.5,70.4 453.2,70.4 453.8,70.4 454.4,70.4 455.1,70.3 455.7,70.3 456.3,70.3 457,70.3 457.6,70.3 458.2,70.3 458.9,70.2 459.5,70.2 460.1,70.2 460.8,70.2 461.4,70.1 462,70.1 462.7,70.1 463.3,70.1 463.9,70.1 464.6,70 465.2,70 465.9,70 466.5,70 467.1,69.9 467.8,69.9 468.4,69.9 469,69.9 469.7,69.8 470.3,69.8 470.9,69.8 471.6,69.7 472.2,69.7 472.8,69.7 473.5,69.7 474.1,69.6 474.7,69.6 475.4,69.6 476,69.5 476.6,69.5 477.3,69.5 477.9,69.5 478.5,69.4 479.2,69.4 479.8,69.4 480.4,69.3 481.1,69.3 481.7,69.3 482.4,69.2 483,69.2 483.6,69.2 484.3,69.1 484.9,69.1 485.5,69.1 486.2,69 486.8,69 487.4,69 488.1,68.9 488.7,68.9 489.3,68.9 490,68.8 490.6,68.8 491.2,68.7 491.9,68.7 492.5,68.7 493.1,68.6 493.8,68.6 494.4,68.6 495,68.5 495.7,68.5 496.3,68.5 497,68.4 497.6,68.4 498.2,68.4 498.9,68.3 499.5,68.3" fill="none" stroke="none" marker-start="url(#mo)" marker-mid="url(#mo)" marker-end="url(#mo)"/>
</g>
<rect x="76.6" y="22.6" width="422.4" height="599.7" fill="none" stroke="#000" stroke-width="1.6"/>
<path d="M119.2 22.6 v6 M119.2 622.3 v-6 M162.1 22.6 v12 M162.1 622.3 v-12 M205 22.6 v6 M205 622.3 v-6 M247.8 22.6 v12 M247.8 622.3 v-12 M290.7 22.6 v6 M290.7 622.3 v-6 M333.6 22.6 v12 M333.6 622.3 v-12 M376.5 22.6 v6 M376.5 622.3 v-6 M419.4 22.6 v12 M419.4 622.3 v-12 M462.3 22.6 v6 M462.3 622.3 v-6 M76.6 559.7 h12 M499 559.7 h-12 M76.6 492.1 h6 M499 492.1 h-6 M76.6 424.5 h12 M499 424.5 h-12 M76.6 356.9 h6 M499 356.9 h-6 M76.6 289.3 h12 M499 289.3 h-12 M76.6 221.7 h6 M499 221.7 h-6 M76.6 154.1 h12 M499 154.1 h-12 M76.6 86.5 h6 M499 86.5 h-6" stroke="#000" stroke-width="0.85" fill="none"/>
<g font-family="'Liberation Serif', serif" font-size="23" fill="#000">
<text transform="translate(162.6,16.3) scale(1.06,1)" text-anchor="middle">1</text>
<text transform="translate(162.6,644.2) scale(1.06,1)" text-anchor="middle">1</text>
<text transform="translate(248.3,16.3) scale(1.06,1)" text-anchor="middle">2</text>
<text transform="translate(248.3,644.2) scale(1.06,1)" text-anchor="middle">2</text>
<text transform="translate(334.1,16.3) scale(1.06,1)" text-anchor="middle">3</text>
<text transform="translate(334.1,644.2) scale(1.06,1)" text-anchor="middle">3</text>
<text transform="translate(419.9,16.3) scale(1.06,1)" text-anchor="middle">4</text>
<text transform="translate(419.9,644.2) scale(1.06,1)" text-anchor="middle">4</text>
<text transform="translate(71,161.7) scale(1.06,1)" text-anchor="end">0.2</text>
<text transform="translate(71,296.9) scale(1.06,1)" text-anchor="end">0</text>
<text transform="translate(71,432.1) scale(1.06,1)" text-anchor="end">-0.2</text>
<text transform="translate(71,567.3) scale(1.06,1)" text-anchor="end">-0.4</text>
</g>
<g font-family="'Liberation Serif', serif" font-weight="bold" fill="#000">
<text x="288.5" y="665.6" text-anchor="middle" font-size="21.8">R (a.u.)</text>
<text transform="translate(17.3,334.3) rotate(-90)" font-size="25">U</text>
<text transform="translate(27.2,315.6) rotate(-90)" font-size="17.4">i</text>
<text x="447.6" y="95.7" font-size="18" stroke="#000" stroke-width="0.25"><tspan font-size="14.2" dy="-2.1" stroke-width="0.7">|</tspan><tspan dy="2.1" dx="0.9">g,+2&gt;</tspan></text>
<text x="446.5" y="136.3" font-size="18" stroke="#000" stroke-width="0.25"><tspan font-size="14.2" dy="-2.1" stroke-width="0.7">|</tspan><tspan dy="2.1" dx="0.9">e,+1&gt;</tspan></text>
<text x="448.3" y="327" font-size="18" stroke="#000" stroke-width="0.25"><tspan font-size="14.2" dy="-2.1" stroke-width="0.7">|</tspan><tspan dy="2.1" dx="0.9">g,0&gt;</tspan></text>
<text x="443.7" y="367.3" font-size="18" stroke="#000" stroke-width="0.25"><tspan font-size="14.2" dy="-2.1" stroke-width="0.7">|</tspan><tspan dy="2.1" dx="0.9">e,-1&gt;</tspan></text>
<text x="429.6" y="565.6" font-size="18" stroke="#000" stroke-width="0.25"><tspan font-size="14.2" dy="-2.1" stroke-width="0.7">|</tspan><tspan dy="2.1" dx="0.9">g,-2&gt;</tspan></text>
<text x="441.3" y="599.2" font-size="18" stroke="#000" stroke-width="0.25"><tspan font-size="14.2" dy="-2.1" stroke-width="0.7">|</tspan><tspan dy="2.1" dx="0.9">e,-3&gt;</tspan></text>
<rect x="408.6" y="205.6" width="70.8" height="69" fill="#fff" stroke="#000" stroke-width="1.5"/>
<circle cx="426.2" cy="219.4" r="1.15" fill="#0fa53c" fill-opacity="0.3" stroke="#0fa53c" stroke-width="1.1"/>
<text x="446.3" y="226.6" font-size="21.5">.02</text>
<circle cx="426.2" cy="240.4" r="1.15" fill="#23419b" fill-opacity="0.3" stroke="#23419b" stroke-width="1.1"/>
<text x="446.3" y="247.4" font-size="21.5">.03</text>
<circle cx="426.2" cy="261.2" r="1.15" fill="#ea5b1e" fill-opacity="0.3" stroke="#ea5b1e" stroke-width="1.1"/>
<text x="446.3" y="268.4" font-size="21.5">.04</text>
</g>
</svg>
</body></html>
